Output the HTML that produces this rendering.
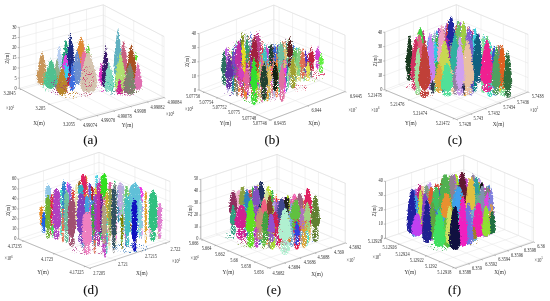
<!DOCTYPE html>
<html><head><meta charset="utf-8"><title>Figure</title>
<style>html,body{margin:0;padding:0;background:#fff;width:550px;height:301px;overflow:hidden}svg{display:block}</style>
</head><body>
<svg width="550" height="301" viewBox="0 0 550 301">
<defs>
<filter id="sp" x="-30%" y="-10%" width="160%" height="120%" color-interpolation-filters="sRGB">
<feTurbulence type="fractalNoise" baseFrequency="1.3" numOctaves="2" seed="3" result="n"/>
<feTurbulence type="fractalNoise" baseFrequency="0.7" numOctaves="2" seed="13" result="n2"/>
<feDisplacementMap in="SourceGraphic" in2="n2" scale="3.5" xChannelSelector="R" yChannelSelector="G" result="d"/>
<feGaussianBlur in="d" stdDeviation="0.9" result="b"/>
<feColorMatrix in="n" type="matrix" values="0 0 0 0 0 0 0 0 0 0 0 0 0 0 0 1 0 0 0 0" result="na"/>
<feComposite in="b" in2="na" operator="arithmetic" k2="4" k3="-8" k4="3.0" result="m"/>
<feComposite in="d" in2="m" operator="in"/>
</filter>
<filter id="sp2" x="-30%" y="-10%" width="160%" height="120%" color-interpolation-filters="sRGB">
<feTurbulence type="fractalNoise" baseFrequency="1.3" numOctaves="2" seed="4" result="n"/>
<feTurbulence type="fractalNoise" baseFrequency="0.7" numOctaves="2" seed="14" result="n2"/>
<feDisplacementMap in="SourceGraphic" in2="n2" scale="3.5" xChannelSelector="R" yChannelSelector="G" result="d"/>
<feGaussianBlur in="d" stdDeviation="0.9" result="b"/>
<feColorMatrix in="n" type="matrix" values="0 0 0 0 0 0 0 0 0 0 0 0 0 0 0 1 0 0 0 0" result="na"/>
<feComposite in="b" in2="na" operator="arithmetic" k2="4" k3="-8" k4="2.8" result="m"/>
<feComposite in="d" in2="m" operator="in"/>
</filter>
<filter id="sc" x="-10%" y="-10%" width="120%" height="120%" color-interpolation-filters="sRGB">
<feTurbulence type="fractalNoise" baseFrequency="1.1" numOctaves="1" seed="7" result="n"/>
<feColorMatrix in="n" type="matrix" values="0 0 0 0 0 0 0 0 0 0 0 0 0 0 0 -8 0 0 0 3.5" result="m"/>
<feComposite in="SourceGraphic" in2="m" operator="in"/>
</filter>
<filter id="tr" x="-20%" y="-10%" width="140%" height="120%" color-interpolation-filters="sRGB">
<feTurbulence type="fractalNoise" baseFrequency="1.2" numOctaves="1" seed="9" result="n"/>
<feColorMatrix in="n" type="matrix" values="0 0 0 0 0 0 0 0 0 0 0 0 0 0 0 -8 0 0 0 5.0" result="m"/>
<feComposite in="SourceGraphic" in2="m" operator="in"/>
</filter>
</defs>
<style>
.t{font-family:"Liberation Serif",serif;font-size:4.6px;fill:#333;text-anchor:middle;dominant-baseline:central}
.t text,text.t{transform-box:fill-box;transform-origin:center;transform:scale(0.95,1.18)}
.z{text-anchor:end}
.an,.zn{font-size:5.6px}
.cap{font-family:"Liberation Serif",serif;font-size:13px;fill:#111;stroke:#111;stroke-width:0.12px;text-anchor:middle;dominant-baseline:central;transform-box:fill-box;transform-origin:center;transform:scale(1,0.88)}
</style>
<rect width="550" height="301" fill="#fff"/>
<path d="M19.3 88.3L103.3 65.8M103.3 65.8L164 97.5M19.3 78.1L103.3 55.6M103.3 55.6L164 87.3M19.3 68L103.3 45.5M103.3 45.5L164 77.2M19.3 57.8L103.3 35.3M103.3 35.3L164 67M19.3 47.6L103.3 25.1M103.3 25.1L164 56.8M19.3 37.5L103.3 15M103.3 15L164 46.7M19.3 27.3L103.3 4.8M103.3 4.8L164 36.5M105.1 66.8L105.1 5.8M21.1 89.3L105.1 66.8M133.7 81.7L133.7 20.7M49.7 104.2L133.7 81.7M162.2 96.5L162.2 35.5M78.2 119L162.2 96.5M19.3 88.3L19.3 27.3M19.3 88.3L80 120M36.1 83.8L36.1 22.8M36.1 83.8L96.8 115.5M52.9 79.3L52.9 18.3M52.9 79.3L113.6 111M69.7 74.8L69.7 13.8M69.7 74.8L130.4 106.5M86.5 70.3L86.5 9.3M86.5 70.3L147.2 102M103.3 65.8L103.3 4.8M103.3 65.8L164 97.5" stroke="#e4e4e4" stroke-width="0.5" fill="none"/>
<path d="M19.3 27.3L103.3 4.8L164 36.5L164 97.5M103.3 65.8L103.3 4.8" stroke="#dcdcdc" stroke-width="0.5" fill="none"/>
<g><ellipse cx="60" cy="88" rx="12" ry="7" fill="#b03a90" filter="url(#sc)"/><ellipse cx="70" cy="95" rx="9" ry="4" fill="#c08a30" filter="url(#sc)"/><ellipse cx="48" cy="88" rx="6" ry="4" fill="#60d0a0" filter="url(#sc)"/><ellipse cx="125" cy="90" rx="14" ry="6" fill="#c04090" filter="url(#sc)"/><ellipse cx="112" cy="90" rx="8" ry="5" fill="#50a0a0" filter="url(#sc)"/><ellipse cx="85" cy="94" rx="8" ry="3" fill="#c06080" filter="url(#sc)"/><ellipse cx="135" cy="88" rx="8" ry="5" fill="#80a060" filter="url(#sc)"/><ellipse cx="102" cy="88" rx="5" ry="4" fill="#e030c0" filter="url(#sc)"/><path d="M136 50.3C136.2 51.2 137.2 55.6 137.5 59C137.6 61.1 136.9 62 136 62C135.1 62 134.4 61.1 134.5 59C134.8 55.6 135.8 51.2 136 50.3Z" fill="#60e030" filter="url(#sp2)"/><path d="M88 41.8C88.5 43.5 90.4 51.8 91 58.2C91.2 62.2 89.8 64 88 64C86.2 64 84.8 62.2 85 58.2C85.6 51.8 87.5 43.5 88 41.8Z" fill="#60d040" filter="url(#sp2)"/><path d="M81 34.8C81.8 37.1 85.4 48.8 86.5 57.9C86.8 63.5 84.3 66 81 66C77.7 66 75.2 63.5 75.5 57.9C76.6 48.8 80.2 37.1 81 34.8Z" fill="#e08a35" filter="url(#sp2)"/><path d="M59.5 42.8C60 45 62.3 55.9 63 64.4C63.2 69.7 61.6 72 59.5 72C57.4 72 55.8 69.7 56 64.4C56.7 55.9 59 45 59.5 42.8Z" fill="#b5cdf0" filter="url(#sp2)"/><path d="M66 37.8C66.7 40.6 69.6 54.5 70.5 65.3C70.7 72 68.7 75 66 75C63.3 75 61.3 72 61.5 65.3C62.4 54.5 65.3 40.6 66 37.8Z" fill="#22a37a" filter="url(#sp2)"/><path d="M70.6 30.5C71.3 33.9 74.2 51 75.1 64.2C75.3 72.4 73.3 76 70.6 76C67.9 76 65.9 72.4 66.1 64.2C67 51 69.9 33.9 70.6 30.5Z" fill="#1c2a80" filter="url(#sp2)"/><path d="M123.5 37.8C124.2 40.7 127.1 55 128 66.1C128.2 72.9 126.2 76 123.5 76C120.8 76 118.8 72.9 119 66.1C119.9 55 122.8 40.7 123.5 37.8Z" fill="#c86080" filter="url(#sp2)"/><path d="M84 44.8C84.7 47.3 87.6 59.7 88.5 69.4C88.7 75.3 86.7 78 84 78C81.3 78 79.3 75.3 79.5 69.4C80.4 59.7 83.3 47.3 84 44.8Z" fill="#e870a0" filter="url(#sp2)"/><path d="M118 26.3C118.7 30.2 121.6 49.6 122.5 64.6C122.7 73.9 120.7 78 118 78C115.3 78 113.3 73.9 113.5 64.6C114.4 49.6 117.3 30.2 118 26.3Z" fill="#60b0c0" filter="url(#sp2)"/><path d="M65.5 50.3C66.1 52.5 68.7 63.7 69.5 72.3C69.7 77.6 67.9 80 65.5 80C63.1 80 61.3 77.6 61.5 72.3C62.3 63.7 64.9 52.5 65.5 50.3Z" fill="#e040e0" filter="url(#sp2)"/><path d="M131.5 45.8C132.1 48.4 134.9 61.2 135.7 71.1C135.9 77.3 134 80 131.5 80C129 80 127.1 77.3 127.3 71.1C128.1 61.2 130.9 48.4 131.5 45.8Z" fill="#7050d0" filter="url(#sp2)"/><path d="M106.5 53.1C106.9 55.1 108.5 65.2 109 73C109.1 77.8 108 80 106.5 80C105 80 103.9 77.8 104 73C104.5 65.2 106.1 55.1 106.5 53.1Z" fill="#e0d840" filter="url(#sp2)"/><path d="M131.5 41.8C132.3 44.8 135.9 59.9 137 71.5C137.3 78.8 134.8 82 131.5 82C128.2 82 125.7 78.8 126 71.5C127.1 59.9 130.7 44.8 131.5 41.8Z" fill="#a85020" filter="url(#sp2)"/><path d="M101.5 58.8C102 60.7 103.9 70.1 104.5 77.4C104.7 82 103.3 84 101.5 84C99.7 84 98.3 82 98.5 77.4C99.1 70.1 101 60.7 101.5 58.8Z" fill="#e030c0" filter="url(#sp2)"/><path d="M42 49.3C42.8 52 46.2 65.4 47.2 75.7C47.5 82.1 45.1 85 42 85C38.9 85 36.5 82.1 36.8 75.7C37.8 65.4 41.2 52 42 49.3Z" fill="#c8965a" filter="url(#sp2)"/><path d="M77 47.5C77.8 50.3 81.4 64.4 82.5 75.2C82.8 82 80.3 85 77 85C73.7 85 71.2 82 71.5 75.2C72.6 64.4 76.2 50.3 77 47.5Z" fill="#6a8fd0" filter="url(#sp2)"/><path d="M66.5 60.2C67.1 62.1 69.7 71.8 70.5 79.3C70.7 83.9 68.9 86 66.5 86C64.1 86 62.3 83.9 62.5 79.3C63.3 71.8 65.9 62.1 66.5 60.2Z" fill="#30d0f0" filter="url(#sp2)"/><path d="M68.8 70.8C69.1 71.9 70.6 77.6 71 82C71.1 84.8 70.1 86 68.8 86C67.5 86 66.5 84.8 66.6 82C67 77.6 68.5 71.9 68.8 70.8Z" fill="#c02040" filter="url(#sp2)"/><path d="M57 57.3C57.6 59.6 60.2 71.1 61 80C61.2 85.5 59.4 88 57 88C54.6 88 52.8 85.5 53 80C53.8 71.1 56.4 59.6 57 57.3Z" fill="#90b088" filter="url(#sp2)"/><path d="M51 57.3C52 59.7 56.6 71.6 58 80.8C58.4 86.5 55.2 89 51 89C46.8 89 43.6 86.5 44 80.8C45.4 71.6 50 59.7 51 57.3Z" fill="#50c090" filter="url(#sp2)"/><path d="M105.7 43.2C106.3 46.6 109.1 63.8 109.9 77.1C110.1 85.3 108.2 89 105.7 89C103.2 89 101.3 85.3 101.5 77.1C102.3 63.8 105.1 46.6 105.7 43.2Z" fill="#3a1a6a" filter="url(#sp2)"/><path d="M138 60.2C138.6 62.5 141.4 73.9 142.3 82.7C142.5 88.2 140.6 90.6 138 90.6C135.4 90.6 133.5 88.2 133.7 82.7C134.6 73.9 137.4 62.5 138 60.2Z" fill="#e070b0" filter="url(#sp2)"/><path d="M72.3 59.8C72.8 62.1 74.9 73.8 75.5 82.9C75.7 88.5 74.2 91 72.3 91C70.4 91 68.9 88.5 69.1 82.9C69.7 73.8 71.8 62.1 72.3 59.8Z" fill="#3d6ee0" filter="url(#sp2)"/><path d="M109 60.2C109.8 62.6 113 74.5 114 83.7C114.2 89.5 112 92 109 92C106 92 103.8 89.5 104 83.7C105 74.5 108.2 62.6 109 60.2Z" fill="#80d8c0" filter="url(#sp2)"/><path d="M88.5 48.8C89.8 52.1 95.7 68.7 97.5 81.5C98 89.5 93.9 93 88.5 93C83.1 93 79 89.5 79.5 81.5C81.3 68.7 87.2 52.1 88.5 48.8Z" fill="#d4c4b0" filter="url(#sp2)"/><path d="M120.4 50.3C121.3 53.5 125.2 69.7 126.4 82.3C126.7 90 124 93.5 120.4 93.5C116.8 93.5 114.1 90 114.4 82.3C115.6 69.7 119.5 53.5 120.4 50.3Z" fill="#b0e070" filter="url(#sp2)"/><path d="M62 64.4C62.9 66.7 66.6 78.2 67.8 87C68.1 92.6 65.5 95 62 95C58.5 95 55.9 92.6 56.2 87C57.4 78.2 61.1 66.7 62 64.4Z" fill="#b8862b" filter="url(#sp2)"/><path d="M129.6 60.2C130.5 62.8 134.6 75.9 135.8 86C136.1 92.2 133.3 95 129.6 95C125.9 95 123.1 92.2 123.4 86C124.6 75.9 128.7 62.8 129.6 60.2Z" fill="#808070" filter="url(#sp2)"/><path d="M119.5 76.8C120 78.2 122.1 85 122.7 90.3C122.9 93.5 121.4 95 119.5 95C117.6 95 116.1 93.5 116.3 90.3C116.9 85 119 78.2 119.5 76.8Z" fill="#d02090" filter="url(#sp2)"/><ellipse cx="57" cy="86" rx="7" ry="7" fill="#a03090" filter="url(#sc)"/><ellipse cx="88" cy="78" rx="6" ry="12" fill="#d04070" filter="url(#sc)"/><ellipse cx="68" cy="88" rx="4" ry="6" fill="#c02060" filter="url(#sc)"/><ellipse cx="126" cy="86" rx="7" ry="9" fill="#c04090" filter="url(#sc)"/><ellipse cx="131" cy="80" rx="5" ry="10" fill="#60a060" filter="url(#sc)"/><ellipse cx="112" cy="84" rx="5" ry="8" fill="#30c0a0" filter="url(#sc)"/><ellipse cx="46" cy="80" rx="4" ry="8" fill="#40e0a0" filter="url(#sc)"/></g>
<path d="M19.3 27.3L19.3 88.3L80 120L164 97.5M17.7 88.3L19.3 88.3M17.7 78.1L19.3 78.1M17.7 68L19.3 68M17.7 57.8L19.3 57.8M17.7 47.6L19.3 47.6M17.7 37.5L19.3 37.5M17.7 27.3L19.3 27.3M21.1 89.3l-1.4 0.4M49.7 104.2l-1.4 0.4M78.2 119l-1.4 0.4M80 120l1.3 0.7M96.8 115.5l1.3 0.7M113.6 111l1.3 0.7M130.4 106.5l1.3 0.7M147.2 102l1.3 0.7M164 97.5l1.3 0.7" stroke="#8a8a8a" stroke-width="0.55" fill="none"/>
<g class="t"><text x="9.6" y="93">3.2045</text><text x="10" y="108.3">×10<tspan font-size="3" dy="-1.6">5</tspan></text><text x="40.4" y="108.7">3.205</text><text class="an" x="39" y="123">X(m)</text><text x="69" y="124">3.2055</text><text x="90" y="125">4.99074</text><text x="108" y="120.6">4.99076</text><text x="124.5" y="116">4.99078</text><text x="140" y="111">4.9908</text><text x="157.5" y="107">4.99082</text><text x="174.5" y="102.6">4.99084</text><text x="170" y="114.5">×10<tspan font-size="3" dy="-1.6">6</tspan></text><text class="an" x="127.5" y="124.6">Y(m)</text></g>
<g class="t z"><text x="16.6" y="88.3">0</text><text x="16.6" y="78.1">5</text><text x="16.6" y="68">10</text><text x="16.6" y="57.8">15</text><text x="16.6" y="47.6">20</text><text x="16.6" y="37.5">25</text><text x="16.6" y="27.3">30</text></g>
<g transform="rotate(-90 7.1 58.3)"><text class="t zn" x="7.1" y="58.3">Z(m)</text></g>
<text class="cap" x="90.5" y="140.5">(a)</text>
<path d="M199 90L273.8 61.6M273.8 61.6L345 91.6M199 75.9L273.8 47.5M273.8 47.5L345 77.5M199 61.8L273.8 33.3M273.8 33.3L345 63.3M199 47.6L273.8 19.2M273.8 19.2L345 49.2M199 33.5L273.8 5.1M273.8 5.1L345 35.1M279.1 63.8L279.1 7.3M204.3 92.2L279.1 63.8M292.6 69.5L292.6 13M217.8 97.9L292.6 69.5M306 75.2L306 18.7M231.2 103.6L306 75.2M319.4 80.8L319.4 24.3M244.6 109.2L319.4 80.8M332.6 86.4L332.6 29.9M257.8 114.8L332.6 86.4M345 91.6L345 35.1M270.2 120L345 91.6M199 90L199 33.5M199 90L270.2 120M236.4 75.8L236.4 19.3M236.4 75.8L307.6 105.8M273.8 61.6L273.8 5.1M273.8 61.6L345 91.6" stroke="#e4e4e4" stroke-width="0.5" fill="none"/>
<path d="M199 33.5L273.8 5.1L345 35.1L345 91.6M273.8 61.6L273.8 5.1" stroke="#dcdcdc" stroke-width="0.5" fill="none"/>
<g><ellipse cx="262" cy="96" rx="22" ry="6" fill="#c050a0" filter="url(#sc)"/><ellipse cx="255" cy="99" rx="12" ry="5" fill="#40d040" filter="url(#sc)"/><ellipse cx="312" cy="76" rx="12" ry="6" fill="#a0d060" filter="url(#sc)"/><ellipse cx="318" cy="74" rx="8" ry="5" fill="#e05080" filter="url(#sc)"/><ellipse cx="300" cy="88" rx="8" ry="4" fill="#d04060" filter="url(#sc)"/><ellipse cx="230" cy="92" rx="6" ry="4" fill="#8050b0" filter="url(#sc)"/><ellipse cx="278.5" cy="60.2" rx="1.3" ry="4.2" fill="#40e0c0" filter="url(#tr)"/><path d="M278.5 40.8C278.8 41.6 279.9 48.1 280.3 52.8C280.4 55.7 279.6 57 278.5 57C277.4 57 276.6 55.7 276.7 52.8C277.1 48.1 278.1 41.6 278.5 40.8Z" fill="#40e0c0" filter="url(#sp2)"/><ellipse cx="274.3" cy="61" rx="1.3" ry="3.9" fill="#40a0e0" filter="url(#tr)"/><path d="M274.3 43C274.7 43.8 275.7 49.8 276.1 54.2C276.2 56.9 275.4 58.1 274.3 58.1C273.2 58.1 272.4 56.9 272.5 54.2C272.9 49.8 273.9 43.8 274.3 43Z" fill="#40a0e0" filter="url(#sp2)"/><ellipse cx="282.3" cy="60.9" rx="1.7" ry="4.5" fill="#9a6324" filter="url(#tr)"/><path d="M282.3 39.4C282.7 40.3 284.1 47.5 284.5 52.7C284.6 55.9 283.6 57.4 282.3 57.4C280.9 57.4 279.9 55.9 280 52.7C280.5 47.5 281.8 40.3 282.3 39.4Z" fill="#9a6324" filter="url(#sp2)"/><ellipse cx="269.8" cy="62.6" rx="1.4" ry="3.4" fill="#d04040" filter="url(#tr)"/><path d="M269.8 47.7C270.2 48.4 271.3 53.3 271.6 56.9C271.7 59.2 270.9 60.2 269.8 60.2C268.7 60.2 267.9 59.2 268 56.9C268.4 53.3 269.4 48.4 269.8 47.7Z" fill="#d04040" filter="url(#sp2)"/><ellipse cx="283.4" cy="62.2" rx="1.5" ry="4.9" fill="#e07050" filter="url(#tr)"/><path d="M283.4 37.9C283.8 38.9 285 47 285.4 52.9C285.5 56.6 284.6 58.2 283.4 58.2C282.2 58.2 281.3 56.6 281.4 52.9C281.8 47 283 38.9 283.4 37.9Z" fill="#e07050" filter="url(#sp2)"/><ellipse cx="277.2" cy="63.3" rx="1.5" ry="4.4" fill="#e0a030" filter="url(#tr)"/><path d="M277.2 42.2C277.6 43.1 278.8 50.1 279.2 55.3C279.3 58.4 278.4 59.8 277.2 59.8C276 59.8 275.1 58.4 275.2 55.3C275.6 50.1 276.8 43.1 277.2 42.2Z" fill="#e0a030" filter="url(#sp2)"/><ellipse cx="265.8" cy="64.5" rx="1.3" ry="3.7" fill="#d04040" filter="url(#tr)"/><path d="M265.8 47.7C266.2 48.4 267.2 54 267.5 58.1C267.6 60.6 266.8 61.7 265.8 61.7C264.8 61.7 264.1 60.6 264.1 58.1C264.5 54 265.5 48.4 265.8 47.7Z" fill="#d04040" filter="url(#sp2)"/><ellipse cx="272.5" cy="64.4" rx="1.3" ry="4" fill="#911eb4" filter="url(#tr)"/><path d="M272.5 46.1C272.9 46.9 274 53 274.3 57.4C274.4 60.2 273.6 61.4 272.5 61.4C271.5 61.4 270.7 60.2 270.7 57.4C271.1 53 272.2 46.9 272.5 46.1Z" fill="#911eb4" filter="url(#sp2)"/><ellipse cx="280.7" cy="63.5" rx="1.4" ry="5" fill="#f032e6" filter="url(#tr)"/><path d="M280.7 39C281 40.1 282.2 48.3 282.6 54.2C282.7 57.9 281.8 59.5 280.7 59.5C279.5 59.5 278.6 57.9 278.7 54.2C279.1 48.3 280.3 40.1 280.7 39Z" fill="#f032e6" filter="url(#sp2)"/><ellipse cx="287.5" cy="63.7" rx="1.4" ry="5.4" fill="#e8d820" filter="url(#tr)"/><path d="M287.5 36.5C287.9 37.7 289 46.8 289.4 53.4C289.5 57.5 288.6 59.3 287.5 59.3C286.4 59.3 285.6 57.5 285.7 53.4C286.1 46.8 287.2 37.7 287.5 36.5Z" fill="#e8d820" filter="url(#sp2)"/><ellipse cx="263.9" cy="64.8" rx="1.3" ry="4.7" fill="#d0d060" filter="url(#tr)"/><path d="M263.9 42.4C264.3 43.3 265.3 50.8 265.7 56.3C265.8 59.7 265 61.2 263.9 61.2C262.9 61.2 262.1 59.7 262.2 56.3C262.5 50.8 263.6 43.3 263.9 42.4Z" fill="#d0d060" filter="url(#sp2)"/><ellipse cx="271.7" cy="65.8" rx="1.4" ry="3.9" fill="#e07050" filter="url(#tr)"/><path d="M271.7 48C272.1 48.7 273.2 54.7 273.6 59C273.7 61.7 272.9 62.9 271.7 62.9C270.5 62.9 269.7 61.7 269.8 59C270.2 54.7 271.3 48.7 271.7 48Z" fill="#e07050" filter="url(#sp2)"/><ellipse cx="279.4" cy="65.9" rx="1.3" ry="4.5" fill="#f0a0b0" filter="url(#tr)"/><path d="M279.4 44.4C279.8 45.3 280.8 52.5 281.2 57.7C281.3 60.9 280.5 62.4 279.4 62.4C278.3 62.4 277.5 60.9 277.6 57.7C278 52.5 279.1 45.3 279.4 44.4Z" fill="#f0a0b0" filter="url(#sp2)"/><ellipse cx="285.8" cy="65.4" rx="1.3" ry="5.2" fill="#d04040" filter="url(#tr)"/><path d="M285.8 39.9C286.1 40.9 287.2 49.5 287.5 55.7C287.6 59.6 286.8 61.3 285.8 61.3C284.7 61.3 283.9 59.6 284 55.7C284.4 49.5 285.4 40.9 285.8 39.9Z" fill="#d04040" filter="url(#sp2)"/><ellipse cx="290.6" cy="64.9" rx="1.5" ry="5.7" fill="#20c060" filter="url(#tr)"/><path d="M290.6 36C291.1 37.2 292.3 46.9 292.7 53.9C292.8 58.3 291.9 60.2 290.6 60.2C289.4 60.2 288.5 58.3 288.6 53.9C289 46.9 290.2 37.2 290.6 36Z" fill="#20c060" filter="url(#sp2)"/><ellipse cx="258.5" cy="64.6" rx="1.2" ry="6.4" fill="#c8a0f0" filter="url(#tr)"/><path d="M258.5 31.6C258.8 33 259.8 44 260.1 52C260.2 57 259.5 59.2 258.5 59.2C257.5 59.2 256.8 57 256.9 52C257.2 44 258.2 33 258.5 31.6Z" fill="#c8a0f0" filter="url(#sp2)"/><ellipse cx="267.2" cy="67.1" rx="1.4" ry="4.2" fill="#c8a0f0" filter="url(#tr)"/><path d="M267.2 47.7C267.6 48.5 268.7 55 269 59.7C269.1 62.7 268.3 64 267.2 64C266.1 64 265.3 62.7 265.4 59.7C265.8 55 266.9 48.5 267.2 47.7Z" fill="#c8a0f0" filter="url(#sp2)"/><ellipse cx="271.6" cy="66.6" rx="1.4" ry="4.8" fill="#e0e0a0" filter="url(#tr)"/><path d="M271.6 43.1C272 44 273.1 51.9 273.5 57.6C273.6 61.2 272.7 62.8 271.6 62.8C270.4 62.8 269.6 61.2 269.7 57.6C270.1 51.9 271.2 44 271.6 43.1Z" fill="#e0e0a0" filter="url(#sp2)"/><ellipse cx="282.6" cy="66.8" rx="1.2" ry="5.4" fill="#f0c8a0" filter="url(#tr)"/><path d="M282.6 39.9C283 41 283.9 50 284.3 56.6C284.4 60.6 283.6 62.4 282.6 62.4C281.6 62.4 280.9 60.6 281 56.6C281.3 50 282.3 41 282.6 39.9Z" fill="#f0c8a0" filter="url(#sp2)"/><ellipse cx="287.4" cy="66.5" rx="1.4" ry="5.8" fill="#f0c8a0" filter="url(#tr)"/><path d="M287.4 37.2C287.8 38.4 288.9 48.2 289.3 55.3C289.4 59.7 288.5 61.7 287.4 61.7C286.2 61.7 285.4 59.7 285.5 55.3C285.9 48.2 287 38.4 287.4 37.2Z" fill="#f0c8a0" filter="url(#sp2)"/><ellipse cx="296" cy="67.5" rx="1.5" ry="4.8" fill="#e0e0a0" filter="url(#tr)"/><path d="M296 44.3C296.4 45.3 297.5 53 297.9 58.7C298 62.2 297.1 63.7 296 63.7C294.8 63.7 293.9 62.2 294 58.7C294.4 53 295.6 45.3 296 44.3Z" fill="#e0e0a0" filter="url(#sp2)"/><ellipse cx="270.6" cy="67.4" rx="1.2" ry="5" fill="#5080d0" filter="url(#tr)"/><path d="M270.6 43C271 44 271.9 52.2 272.3 58.1C272.3 61.8 271.6 63.4 270.6 63.4C269.7 63.4 268.9 61.8 269 58.1C269.3 52.2 270.3 44 270.6 43Z" fill="#5080d0" filter="url(#sp2)"/><ellipse cx="262.3" cy="66.9" rx="1.6" ry="5.5" fill="#60c040" filter="url(#tr)"/><path d="M262.3 39.5C262.7 40.7 264 49.8 264.4 56.5C264.5 60.6 263.5 62.4 262.3 62.4C261 62.4 260 60.6 260.1 56.5C260.6 49.8 261.8 40.7 262.3 39.5Z" fill="#60c040" filter="url(#sp2)"/><ellipse cx="257.3" cy="66.6" rx="1.4" ry="6.1" fill="#e0e0a0" filter="url(#tr)"/><path d="M257.3 35.2C257.6 36.5 258.8 47 259.1 54.6C259.2 59.4 258.4 61.5 257.3 61.5C256.2 61.5 255.3 59.4 255.4 54.6C255.8 47 256.9 36.5 257.3 35.2Z" fill="#e0e0a0" filter="url(#sp2)"/><ellipse cx="279.1" cy="67.7" rx="1.3" ry="5.3" fill="#70b0d0" filter="url(#tr)"/><path d="M279.1 41.5C279.4 42.6 280.5 51.3 280.9 57.7C281 61.7 280.2 63.4 279.1 63.4C278 63.4 277.2 61.7 277.3 57.7C277.7 51.3 278.7 42.6 279.1 41.5Z" fill="#70b0d0" filter="url(#sp2)"/><ellipse cx="285.9" cy="67.6" rx="1.5" ry="5.8" fill="#6040c0" filter="url(#tr)"/><path d="M285.9 37.9C286.3 39.2 287.5 49.1 287.9 56.3C288 60.8 287.1 62.8 285.9 62.8C284.6 62.8 283.7 60.8 283.8 56.3C284.2 49.1 285.5 39.2 285.9 37.9Z" fill="#6040c0" filter="url(#sp2)"/><ellipse cx="266.9" cy="69.2" rx="1.4" ry="4.4" fill="#40a0e0" filter="url(#tr)"/><path d="M266.9 48.2C267.3 49.1 268.4 56.1 268.8 61.2C268.9 64.4 268 65.8 266.9 65.8C265.8 65.8 264.9 64.4 265 61.2C265.4 56.1 266.5 49.1 266.9 48.2Z" fill="#40a0e0" filter="url(#sp2)"/><ellipse cx="293.2" cy="68.6" rx="1.2" ry="5.4" fill="#008080" filter="url(#tr)"/><path d="M293.2 41.6C293.5 42.7 294.5 51.7 294.9 58.3C294.9 62.4 294.2 64.2 293.2 64.2C292.2 64.2 291.5 62.4 291.6 58.3C291.9 51.7 292.9 42.7 293.2 41.6Z" fill="#008080" filter="url(#sp2)"/><ellipse cx="250.6" cy="67.3" rx="1.5" ry="6.9" fill="#4363d8" filter="url(#tr)"/><path d="M250.6 30.8C251.1 32.3 252.3 44.5 252.7 53.4C252.8 58.9 251.9 61.3 250.6 61.3C249.4 61.3 248.5 58.9 248.6 53.4C249 44.5 250.2 32.3 250.6 30.8Z" fill="#4363d8" filter="url(#sp2)"/><ellipse cx="300.7" cy="69.5" rx="1.5" ry="4.7" fill="#e07050" filter="url(#tr)"/><path d="M300.7 47C301.1 47.9 302.3 55.5 302.7 60.9C302.8 64.3 301.9 65.9 300.7 65.9C299.5 65.9 298.5 64.3 298.6 60.9C299.1 55.5 300.3 47.9 300.7 47Z" fill="#e07050" filter="url(#sp2)"/><ellipse cx="272.7" cy="69.1" rx="1.5" ry="5.2" fill="#c040c0" filter="url(#tr)"/><path d="M272.7 43.5C273.1 44.6 274.3 53.1 274.7 59.4C274.8 63.2 273.9 64.9 272.7 64.9C271.5 64.9 270.6 63.2 270.7 59.4C271.1 53.1 272.3 44.6 272.7 43.5Z" fill="#c040c0" filter="url(#sp2)"/><ellipse cx="282.5" cy="69.3" rx="1.3" ry="5.4" fill="#3cb44b" filter="url(#tr)"/><path d="M282.5 42.2C282.8 43.3 283.8 52.4 284.2 59C284.3 63.1 283.5 64.9 282.5 64.9C281.4 64.9 280.6 63.1 280.7 59C281.1 52.4 282.1 43.3 282.5 42.2Z" fill="#3cb44b" filter="url(#sp2)"/><ellipse cx="259.5" cy="68.6" rx="1.6" ry="6.3" fill="#40e0c0" filter="url(#tr)"/><path d="M259.5 36.3C260 37.6 261.3 48.5 261.7 56.3C261.8 61.2 260.8 63.4 259.5 63.4C258.2 63.4 257.3 61.2 257.4 56.3C257.8 48.5 259.1 37.6 259.5 36.3Z" fill="#40e0c0" filter="url(#sp2)"/><ellipse cx="290.2" cy="69" rx="1.5" ry="6.2" fill="#30d080" filter="url(#tr)"/><path d="M290.2 37C290.6 38.4 291.9 49.1 292.3 56.8C292.4 61.6 291.4 63.8 290.2 63.8C289 63.8 288 61.6 288.1 56.8C288.6 49.1 289.8 38.4 290.2 37Z" fill="#30d080" filter="url(#sp2)"/><ellipse cx="248.2" cy="68.8" rx="1.4" ry="6.6" fill="#6040c0" filter="url(#tr)"/><path d="M248.2 34.7C248.6 36.1 249.7 47.6 250.1 55.8C250.2 61 249.3 63.3 248.2 63.3C247.1 63.3 246.3 61 246.4 55.8C246.8 47.6 247.9 36.1 248.2 34.7Z" fill="#6040c0" filter="url(#sp2)"/><ellipse cx="297.5" cy="70.8" rx="1.5" ry="4.7" fill="#4363d8" filter="url(#tr)"/><path d="M297.5 48.3C297.9 49.2 299 56.8 299.4 62.2C299.5 65.6 298.7 67.1 297.5 67.1C296.3 67.1 295.4 65.6 295.5 62.2C295.9 56.8 297.1 49.2 297.5 48.3Z" fill="#4363d8" filter="url(#sp2)"/><ellipse cx="303.4" cy="71.5" rx="1.3" ry="4" fill="#e0e0a0" filter="url(#tr)"/><path d="M303.4 53C303.8 53.8 304.8 60 305.2 64.4C305.2 67.2 304.5 68.5 303.4 68.5C302.4 68.5 301.6 67.2 301.7 64.4C302.1 60 303.1 53.8 303.4 53Z" fill="#e0e0a0" filter="url(#sp2)"/><ellipse cx="256.3" cy="68.3" rx="1.7" ry="7.2" fill="#c02080" filter="url(#tr)"/><path d="M256.3 30.5C256.8 32.1 258.1 44.7 258.5 53.9C258.7 59.6 257.7 62.2 256.3 62.2C255 62.2 254 59.6 254.1 53.9C254.5 44.7 255.9 32.1 256.3 30.5Z" fill="#c02080" filter="url(#sp2)"/><ellipse cx="262.5" cy="70.2" rx="1.4" ry="5.6" fill="#008080" filter="url(#tr)"/><path d="M262.5 41.6C262.8 42.8 264 52.4 264.3 59.3C264.4 63.6 263.6 65.6 262.5 65.6C261.4 65.6 260.5 63.6 260.6 59.3C261 52.4 262.1 42.8 262.5 41.6Z" fill="#008080" filter="url(#sp2)"/><ellipse cx="286.4" cy="70.1" rx="1.6" ry="6" fill="#3cb44b" filter="url(#tr)"/><path d="M286.4 39.5C286.8 40.8 288.1 51 288.5 58.4C288.6 63.1 287.6 65.1 286.4 65.1C285.1 65.1 284.2 63.1 284.3 58.4C284.7 51 286 40.8 286.4 39.5Z" fill="#3cb44b" filter="url(#sp2)"/><ellipse cx="291" cy="70.3" rx="1.4" ry="6" fill="#b060d0" filter="url(#tr)"/><path d="M291 39.8C291.4 41 292.5 51.3 292.9 58.7C293 63.3 292.2 65.3 291 65.3C289.9 65.3 289 63.3 289.1 58.7C289.5 51.3 290.6 41 291 39.8Z" fill="#b060d0" filter="url(#sp2)"/><ellipse cx="307.9" cy="71.6" rx="1.4" ry="4.6" fill="#b060d0" filter="url(#tr)"/><path d="M307.9 49.3C308.3 50.3 309.4 57.7 309.8 63.2C309.9 66.5 309 68 307.9 68C306.8 68 306 66.5 306.1 63.2C306.5 57.7 307.6 50.3 307.9 49.3Z" fill="#b060d0" filter="url(#sp2)"/><ellipse cx="268.7" cy="71.4" rx="1.5" ry="4.9" fill="#b060d0" filter="url(#tr)"/><path d="M268.7 47.6C269.1 48.6 270.2 56.6 270.6 62.4C270.7 66 269.8 67.5 268.7 67.5C267.5 67.5 266.6 66 266.7 62.4C267.1 56.6 268.3 48.6 268.7 47.6Z" fill="#b060d0" filter="url(#sp2)"/><ellipse cx="278" cy="70.7" rx="1.3" ry="5.7" fill="#40a0e0" filter="url(#tr)"/><path d="M278 41.8C278.4 43 279.4 52.7 279.7 59.7C279.8 64.1 279.1 66 278 66C277 66 276.3 64.1 276.4 59.7C276.7 52.7 277.7 43 278 41.8Z" fill="#40a0e0" filter="url(#sp2)"/><ellipse cx="258.2" cy="70.3" rx="1.4" ry="6.4" fill="#30d080" filter="url(#tr)"/><path d="M258.2 37C258.6 38.4 259.7 49.5 260 57.6C260.1 62.6 259.3 64.9 258.2 64.9C257.1 64.9 256.3 62.6 256.3 57.6C256.7 49.5 257.8 38.4 258.2 37Z" fill="#30d080" filter="url(#sp2)"/><ellipse cx="266.3" cy="71.1" rx="1.3" ry="5.7" fill="#e0e0a0" filter="url(#tr)"/><path d="M266.3 42.4C266.7 43.6 267.7 53.2 268 60.2C268.1 64.5 267.4 66.4 266.3 66.4C265.3 66.4 264.5 64.5 264.6 60.2C264.9 53.2 266 43.6 266.3 42.4Z" fill="#e0e0a0" filter="url(#sp2)"/><ellipse cx="241.9" cy="70.3" rx="1.3" ry="6.5" fill="#e6194b" filter="url(#tr)"/><path d="M241.9 36.2C242.2 37.7 243.3 49.1 243.7 57.3C243.8 62.5 243 64.8 241.9 64.8C240.8 64.8 240 62.5 240.1 57.3C240.4 49.1 241.5 37.7 241.9 36.2Z" fill="#e6194b" filter="url(#sp2)"/><ellipse cx="252.5" cy="70.2" rx="1.6" ry="7" fill="#d04040" filter="url(#tr)"/><path d="M252.5 33.1C252.9 34.7 254.2 47.1 254.6 56.1C254.7 61.6 253.7 64.1 252.5 64.1C251.2 64.1 250.3 61.6 250.4 56.1C250.8 47.1 252.1 34.7 252.5 33.1Z" fill="#d04040" filter="url(#sp2)"/><ellipse cx="299.8" cy="72.6" rx="1.4" ry="4.8" fill="#46d0e0" filter="url(#tr)"/><path d="M299.8 49.3C300.1 50.2 301.2 58 301.6 63.7C301.7 67.2 300.9 68.8 299.8 68.8C298.7 68.8 297.8 67.2 297.9 63.7C298.3 58 299.4 50.2 299.8 49.3Z" fill="#46d0e0" filter="url(#sp2)"/><ellipse cx="288.2" cy="71" rx="1.6" ry="6.4" fill="#3cb44b" filter="url(#tr)"/><path d="M288.2 37.8C288.7 39.2 289.9 50.3 290.4 58.4C290.5 63.4 289.5 65.6 288.2 65.6C287 65.6 286 63.4 286.1 58.4C286.5 50.3 287.8 39.2 288.2 37.8Z" fill="#3cb44b" filter="url(#sp2)"/><ellipse cx="296.4" cy="72.1" rx="1.4" ry="5.5" fill="#46d0e0" filter="url(#tr)"/><path d="M296.4 44.2C296.8 45.4 297.9 54.7 298.3 61.5C298.4 65.7 297.5 67.6 296.4 67.6C295.2 67.6 294.4 65.7 294.5 61.5C294.8 54.7 296 45.4 296.4 44.2Z" fill="#46d0e0" filter="url(#sp2)"/><ellipse cx="305.1" cy="72.8" rx="1.6" ry="4.9" fill="#f0a0b0" filter="url(#tr)"/><path d="M305.1 48.9C305.6 49.9 306.9 57.9 307.3 63.7C307.4 67.3 306.4 68.9 305.1 68.9C303.8 68.9 302.8 67.3 302.9 63.7C303.4 57.9 304.7 49.9 305.1 48.9Z" fill="#f0a0b0" filter="url(#sp2)"/><ellipse cx="283.5" cy="72.1" rx="1.6" ry="5.7" fill="#2080a0" filter="url(#tr)"/><path d="M283.5 43C283.9 44.2 285.2 53.9 285.6 61C285.7 65.4 284.8 67.4 283.5 67.4C282.2 67.4 281.3 65.4 281.4 61C281.8 53.9 283.1 44.2 283.5 43Z" fill="#2080a0" filter="url(#sp2)"/><ellipse cx="255.7" cy="71.8" rx="1.3" ry="6.4" fill="#b0b0e0" filter="url(#tr)"/><path d="M255.7 38.9C256 40.3 257 51.3 257.4 59.3C257.5 64.2 256.7 66.4 255.7 66.4C254.7 66.4 253.9 64.2 254 59.3C254.4 51.3 255.4 40.3 255.7 38.9Z" fill="#b0b0e0" filter="url(#sp2)"/><ellipse cx="274.6" cy="72.8" rx="1.4" ry="5.4" fill="#4363d8" filter="url(#tr)"/><path d="M274.6 45.7C274.9 46.8 276 55.9 276.4 62.5C276.5 66.6 275.6 68.4 274.6 68.4C273.5 68.4 272.7 66.6 272.8 62.5C273.1 55.9 274.2 46.8 274.6 45.7Z" fill="#4363d8" filter="url(#sp2)"/><ellipse cx="247.5" cy="71.4" rx="1.4" ry="7.1" fill="#f58231" filter="url(#tr)"/><path d="M247.5 34.2C247.9 35.7 249.1 48.2 249.5 57.2C249.6 62.8 248.7 65.3 247.5 65.3C246.4 65.3 245.5 62.8 245.6 57.2C246 48.2 247.1 35.7 247.5 34.2Z" fill="#f58231" filter="url(#sp2)"/><ellipse cx="310.5" cy="73.4" rx="1.6" ry="5.2" fill="#808080" filter="url(#tr)"/><path d="M310.5 47.8C310.9 48.8 312.1 57.4 312.5 63.6C312.6 67.5 311.7 69.2 310.5 69.2C309.2 69.2 308.3 67.5 308.4 63.6C308.8 57.4 310.1 48.8 310.5 47.8Z" fill="#808080" filter="url(#sp2)"/><ellipse cx="268.9" cy="72.9" rx="1.3" ry="6.1" fill="#f0c8a0" filter="url(#tr)"/><path d="M268.9 41.6C269.3 42.9 270.4 53.4 270.7 61C270.8 65.7 270 67.8 268.9 67.8C267.9 67.8 267.1 65.7 267.2 61C267.5 53.4 268.6 42.9 268.9 41.6Z" fill="#f0c8a0" filter="url(#sp2)"/><ellipse cx="236.9" cy="72.3" rx="1.5" ry="6.8" fill="#80e0a0" filter="url(#tr)"/><path d="M236.9 36.9C237.3 38.4 238.5 50.3 238.9 58.8C239 64.2 238.1 66.5 236.9 66.5C235.6 66.5 234.7 64.2 234.8 58.8C235.2 50.3 236.5 38.4 236.9 36.9Z" fill="#80e0a0" filter="url(#sp2)"/><ellipse cx="240.4" cy="72" rx="1.4" ry="7.2" fill="#3cb44b" filter="url(#tr)"/><path d="M240.4 34.1C240.8 35.7 241.9 48.4 242.3 57.6C242.4 63.3 241.5 65.8 240.4 65.8C239.3 65.8 238.5 63.3 238.6 57.6C238.9 48.4 240 35.7 240.4 34.1Z" fill="#3cb44b" filter="url(#sp2)"/><ellipse cx="307.4" cy="74.7" rx="1.6" ry="4.5" fill="#d04040" filter="url(#tr)"/><path d="M307.4 53.2C307.8 54.1 309.1 61.3 309.5 66.6C309.6 69.8 308.7 71.2 307.4 71.2C306.1 71.2 305.1 69.8 305.2 66.6C305.6 61.3 306.9 54.1 307.4 53.2Z" fill="#d04040" filter="url(#sp2)"/><ellipse cx="285.3" cy="72.7" rx="1.3" ry="6.6" fill="#e6194b" filter="url(#tr)"/><path d="M285.3 38.2C285.6 39.6 286.7 51.2 287 59.6C287.1 64.8 286.3 67.1 285.3 67.1C284.3 67.1 283.5 64.8 283.6 59.6C283.9 51.2 284.9 39.6 285.3 38.2Z" fill="#e6194b" filter="url(#sp2)"/><ellipse cx="258.6" cy="72.4" rx="1.5" ry="7" fill="#f032e6" filter="url(#tr)"/><path d="M258.6 35.4C259 37 260.2 49.4 260.6 58.3C260.7 63.9 259.8 66.4 258.6 66.4C257.4 66.4 256.5 63.9 256.6 58.3C257 49.4 258.2 37 258.6 35.4Z" fill="#f032e6" filter="url(#sp2)"/><ellipse cx="262.2" cy="72.8" rx="1.6" ry="6.6" fill="#f0a0b0" filter="url(#tr)"/><path d="M262.2 38.3C262.7 39.8 264 51.3 264.4 59.7C264.5 64.9 263.5 67.2 262.2 67.2C260.9 67.2 259.9 64.9 260 59.7C260.5 51.3 261.8 39.8 262.2 38.3Z" fill="#f0a0b0" filter="url(#sp2)"/><ellipse cx="300.8" cy="74.8" rx="1.6" ry="4.7" fill="#30d080" filter="url(#tr)"/><path d="M300.8 51.9C301.2 52.9 302.5 60.5 302.9 66.1C303 69.5 302 71.1 300.8 71.1C299.5 71.1 298.5 69.5 298.6 66.1C299.1 60.5 300.3 52.9 300.8 51.9Z" fill="#30d080" filter="url(#sp2)"/><ellipse cx="277.6" cy="74" rx="1.3" ry="5.6" fill="#9a6324" filter="url(#tr)"/><path d="M277.6 45.5C277.9 46.7 279 56.2 279.3 63.2C279.4 67.5 278.6 69.4 277.6 69.4C276.5 69.4 275.7 67.5 275.8 63.2C276.2 56.2 277.2 46.7 277.6 45.5Z" fill="#9a6324" filter="url(#sp2)"/><ellipse cx="251" cy="73" rx="1.3" ry="7" fill="#911eb4" filter="url(#tr)"/><path d="M251 36.4C251.3 37.9 252.3 50.2 252.6 59.1C252.7 64.6 252 67.1 251 67.1C249.9 67.1 249.2 64.6 249.3 59.1C249.6 50.2 250.6 37.9 251 36.4Z" fill="#911eb4" filter="url(#sp2)"/><ellipse cx="291.8" cy="74.2" rx="1.4" ry="5.8" fill="#2080a0" filter="url(#tr)"/><path d="M291.8 44.5C292.2 45.7 293.3 55.7 293.7 62.9C293.8 67.4 292.9 69.4 291.8 69.4C290.6 69.4 289.8 67.4 289.9 62.9C290.3 55.7 291.4 45.7 291.8 44.5Z" fill="#2080a0" filter="url(#sp2)"/><ellipse cx="245.3" cy="72.4" rx="1.4" ry="7.9" fill="#911eb4" filter="url(#tr)"/><path d="M245.3 30.1C245.7 31.9 246.8 46 247.2 56.3C247.2 62.7 246.4 65.5 245.3 65.5C244.2 65.5 243.4 62.7 243.5 56.3C243.9 46 245 31.9 245.3 30.1Z" fill="#911eb4" filter="url(#sp2)"/><ellipse cx="281.9" cy="74.2" rx="1.6" ry="6.3" fill="#40a0e0" filter="url(#tr)"/><path d="M281.9 41.7C282.4 43.1 283.7 54 284.1 61.8C284.2 66.7 283.2 68.9 281.9 68.9C280.6 68.9 279.6 66.7 279.7 61.8C280.2 54 281.5 43.1 281.9 41.7Z" fill="#40a0e0" filter="url(#sp2)"/><ellipse cx="271.9" cy="75.2" rx="1.2" ry="5.4" fill="#30d080" filter="url(#tr)"/><path d="M271.9 47.9C272.2 49 273.2 58.2 273.6 64.8C273.6 68.9 272.9 70.8 271.9 70.8C270.9 70.8 270.2 68.9 270.3 64.8C270.6 58.2 271.6 49 271.9 47.9Z" fill="#30d080" filter="url(#sp2)"/><ellipse cx="290" cy="73.8" rx="1.2" ry="7.2" fill="#c040c0" filter="url(#tr)"/><path d="M290 35.8C290.3 37.4 291.3 50.1 291.6 59.3C291.7 65.1 291 67.6 290 67.6C289 67.6 288.3 65.1 288.3 59.3C288.7 50.1 289.7 37.4 290 35.8Z" fill="#c040c0" filter="url(#sp2)"/><ellipse cx="265.7" cy="74.8" rx="1.6" ry="6.2" fill="#40e0c0" filter="url(#tr)"/><path d="M265.7 42.8C266.2 44.1 267.4 54.9 267.9 62.7C268 67.5 267 69.6 265.7 69.6C264.4 69.6 263.5 67.5 263.6 62.7C264 54.9 265.3 44.1 265.7 42.8Z" fill="#40e0c0" filter="url(#sp2)"/><ellipse cx="248.2" cy="73.1" rx="1.4" ry="8" fill="#f0a0b0" filter="url(#tr)"/><path d="M248.2 29.8C248.6 31.6 249.7 46.1 250 56.6C250.1 63.1 249.3 66 248.2 66C247.1 66 246.3 63.1 246.4 56.6C246.7 46.1 247.8 31.6 248.2 29.8Z" fill="#f0a0b0" filter="url(#sp2)"/><ellipse cx="239.2" cy="74.4" rx="1.4" ry="6.8" fill="#b0b0e0" filter="url(#tr)"/><path d="M239.2 38.8C239.6 40.3 240.7 52.2 241.1 60.8C241.2 66.2 240.3 68.6 239.2 68.6C238.1 68.6 237.3 66.2 237.4 60.8C237.8 52.2 238.9 40.3 239.2 38.8Z" fill="#b0b0e0" filter="url(#sp2)"/><ellipse cx="303.9" cy="76.2" rx="1.2" ry="5.2" fill="#80e0a0" filter="url(#tr)"/><path d="M303.9 50.4C304.2 51.5 305.1 60.1 305.5 66.4C305.5 70.2 304.8 72 303.9 72C302.9 72 302.2 70.2 302.2 66.4C302.6 60.1 303.5 51.5 303.9 50.4Z" fill="#80e0a0" filter="url(#sp2)"/><ellipse cx="297.4" cy="75.7" rx="1.7" ry="5.8" fill="#e8d820" filter="url(#tr)"/><path d="M297.4 46C297.8 47.3 299.1 57.2 299.6 64.4C299.7 68.9 298.7 70.9 297.4 70.9C296.1 70.9 295.1 68.9 295.2 64.4C295.6 57.2 296.9 47.3 297.4 46Z" fill="#e8d820" filter="url(#sp2)"/><ellipse cx="269.2" cy="75.5" rx="1.3" ry="6.2" fill="#b060d0" filter="url(#tr)"/><path d="M269.2 43.6C269.6 44.9 270.7 55.6 271 63.3C271.1 68.2 270.3 70.3 269.2 70.3C268.2 70.3 267.4 68.2 267.5 63.3C267.8 55.6 268.9 44.9 269.2 43.6Z" fill="#b060d0" filter="url(#sp2)"/><ellipse cx="228.6" cy="75.7" rx="1.5" ry="6.2" fill="#a8e020" filter="url(#tr)"/><path d="M228.6 43.7C229 45 230.2 55.7 230.6 63.5C230.7 68.3 229.8 70.5 228.6 70.5C227.4 70.5 226.5 68.3 226.6 63.5C227 55.7 228.2 45 228.6 43.7Z" fill="#a8e020" filter="url(#sp2)"/><ellipse cx="293.5" cy="75.5" rx="1.4" ry="6.4" fill="#4363d8" filter="url(#tr)"/><path d="M293.5 42.2C293.9 43.6 295.1 54.8 295.4 62.9C295.5 67.9 294.7 70.1 293.5 70.1C292.4 70.1 291.5 67.9 291.6 62.9C292 54.8 293.1 43.6 293.5 42.2Z" fill="#4363d8" filter="url(#sp2)"/><ellipse cx="232.4" cy="76.2" rx="1.7" ry="5.9" fill="#008080" filter="url(#tr)"/><path d="M232.4 45.9C232.9 47.2 234.2 57.3 234.7 64.7C234.8 69.3 233.8 71.3 232.4 71.3C231.1 71.3 230.1 69.3 230.2 64.7C230.7 57.3 232 47.2 232.4 45.9Z" fill="#008080" filter="url(#sp2)"/><ellipse cx="264.1" cy="75.7" rx="1.4" ry="6.6" fill="#46d0e0" filter="url(#tr)"/><path d="M264.1 41.5C264.4 42.9 265.6 54.4 265.9 62.7C266 67.8 265.2 70.1 264.1 70.1C262.9 70.1 262.1 67.8 262.2 62.7C262.5 54.4 263.7 42.9 264.1 41.5Z" fill="#46d0e0" filter="url(#sp2)"/><ellipse cx="254.3" cy="74.8" rx="1.7" ry="7.6" fill="#b060d0" filter="url(#tr)"/><path d="M254.3 34.3C254.8 36 256.1 49.6 256.6 59.4C256.7 65.5 255.7 68.2 254.3 68.2C253 68.2 252 65.5 252.1 59.4C252.6 49.6 253.9 36 254.3 34.3Z" fill="#b060d0" filter="url(#sp2)"/><ellipse cx="300" cy="76.7" rx="1.4" ry="5.7" fill="#e0e0a0" filter="url(#tr)"/><path d="M300 47.9C300.4 49.1 301.6 58.8 301.9 65.7C302 70.1 301.2 72 300 72C298.9 72 298 70.1 298.1 65.7C298.5 58.8 299.6 49.1 300 47.9Z" fill="#e0e0a0" filter="url(#sp2)"/><ellipse cx="285.8" cy="75.5" rx="1.3" ry="6.9" fill="#46d0e0" filter="url(#tr)"/><path d="M285.8 39.2C286.1 40.7 287.2 52.9 287.5 61.7C287.6 67.2 286.8 69.6 285.8 69.6C284.8 69.6 284 67.2 284.1 61.7C284.4 52.9 285.5 40.7 285.8 39.2Z" fill="#46d0e0" filter="url(#sp2)"/><ellipse cx="276.6" cy="75.8" rx="1.4" ry="6.7" fill="#e8d820" filter="url(#tr)"/><path d="M276.6 40.9C277 42.4 278.1 54.1 278.5 62.5C278.6 67.8 277.8 70.1 276.6 70.1C275.5 70.1 274.6 67.8 274.7 62.5C275.1 54.1 276.2 42.4 276.6 40.9Z" fill="#e8d820" filter="url(#sp2)"/><ellipse cx="260.1" cy="75.5" rx="1.4" ry="7.3" fill="#30d080" filter="url(#tr)"/><path d="M260.1 36.6C260.4 38.3 261.5 51.3 261.9 60.7C262 66.6 261.2 69.2 260.1 69.2C259 69.2 258.2 66.6 258.3 60.7C258.6 51.3 259.7 38.3 260.1 36.6Z" fill="#30d080" filter="url(#sp2)"/><ellipse cx="281.5" cy="76" rx="1.4" ry="7" fill="#f0a0b0" filter="url(#tr)"/><path d="M281.5 39.4C281.9 40.9 283 53.2 283.4 62.1C283.5 67.6 282.7 70.1 281.5 70.1C280.4 70.1 279.6 67.6 279.7 62.1C280 53.2 281.2 40.9 281.5 39.4Z" fill="#f0a0b0" filter="url(#sp2)"/><ellipse cx="243.5" cy="75" rx="1.7" ry="8.1" fill="#a8e020" filter="url(#tr)"/><path d="M243.5 31.2C244 33 245.3 47.7 245.8 58.3C245.9 64.9 244.9 67.9 243.5 67.9C242.2 67.9 241.2 64.9 241.3 58.3C241.8 47.7 243.1 33 243.5 31.2Z" fill="#a8e020" filter="url(#sp2)"/><ellipse cx="235.7" cy="76.3" rx="1.7" ry="6.9" fill="#40a0e0" filter="url(#tr)"/><path d="M235.7 40.3C236.2 41.8 237.5 53.9 238 62.6C238.1 68.1 237.1 70.5 235.7 70.5C234.4 70.5 233.4 68.1 233.5 62.6C234 53.9 235.3 41.8 235.7 40.3Z" fill="#40a0e0" filter="url(#sp2)"/><ellipse cx="275.7" cy="77.4" rx="1.6" ry="6.3" fill="#4363d8" filter="url(#tr)"/><path d="M275.7 44.9C276.1 46.3 277.5 57.1 277.9 65C278 69.9 277 72.1 275.7 72.1C274.4 72.1 273.4 69.9 273.5 65C274 57.1 275.3 46.3 275.7 44.9Z" fill="#4363d8" filter="url(#sp2)"/><ellipse cx="251.1" cy="76.8" rx="1.6" ry="7.1" fill="#f58231" filter="url(#tr)"/><path d="M251.1 39.6C251.5 41.2 252.8 53.7 253.2 62.7C253.3 68.3 252.4 70.8 251.1 70.8C249.8 70.8 248.9 68.3 249 62.7C249.4 53.7 250.7 41.2 251.1 39.6Z" fill="#f58231" filter="url(#sp2)"/><ellipse cx="267.1" cy="77.9" rx="1.6" ry="6.3" fill="#808000" filter="url(#tr)"/><path d="M267.1 45.5C267.5 46.8 268.8 57.7 269.2 65.5C269.3 70.4 268.4 72.6 267.1 72.6C265.8 72.6 264.9 70.4 265 65.5C265.4 57.7 266.7 46.8 267.1 45.5Z" fill="#808000" filter="url(#sp2)"/><ellipse cx="295.3" cy="77.9" rx="1.2" ry="6.5" fill="#5080d0" filter="url(#tr)"/><path d="M295.3 44.3C295.7 45.7 296.6 56.9 297 65.1C297.1 70.2 296.3 72.4 295.3 72.4C294.3 72.4 293.6 70.2 293.7 65.1C294 56.9 295 45.7 295.3 44.3Z" fill="#5080d0" filter="url(#sp2)"/><ellipse cx="231.5" cy="78.3" rx="1.3" ry="6.1" fill="#d0d060" filter="url(#tr)"/><path d="M231.5 47C231.8 48.3 232.9 58.8 233.2 66.4C233.3 71.1 232.5 73.2 231.5 73.2C230.4 73.2 229.6 71.1 229.7 66.4C230 58.8 231.1 48.3 231.5 47Z" fill="#d0d060" filter="url(#sp2)"/><ellipse cx="270.4" cy="77.9" rx="1.4" ry="6.5" fill="#f0c8a0" filter="url(#tr)"/><path d="M270.4 43.8C270.8 45.3 271.9 56.7 272.3 64.9C272.4 70.1 271.5 72.4 270.4 72.4C269.2 72.4 268.3 70.1 268.4 64.9C268.8 56.7 270 45.3 270.4 43.8Z" fill="#f0c8a0" filter="url(#sp2)"/><ellipse cx="249.9" cy="76.5" rx="1.4" ry="8" fill="#b0b0e0" filter="url(#tr)"/><path d="M249.9 33.5C250.3 35.3 251.4 49.7 251.8 60.1C251.9 66.6 251.1 69.5 249.9 69.5C248.8 69.5 248 66.6 248.1 60.1C248.4 49.7 249.6 35.3 249.9 33.5Z" fill="#b0b0e0" filter="url(#sp2)"/><ellipse cx="240.7" cy="76.3" rx="1.5" ry="8.2" fill="#6040c0" filter="url(#tr)"/><path d="M240.7 31.9C241.1 33.8 242.3 48.6 242.7 59.4C242.8 66.1 241.9 69.1 240.7 69.1C239.6 69.1 238.7 66.1 238.8 59.4C239.2 48.6 240.3 33.8 240.7 31.9Z" fill="#6040c0" filter="url(#sp2)"/><ellipse cx="262.2" cy="78" rx="1.5" ry="6.8" fill="#a8e020" filter="url(#tr)"/><path d="M262.2 42.1C262.6 43.6 263.7 55.6 264.1 64.3C264.2 69.7 263.4 72.1 262.2 72.1C261 72.1 260.2 69.7 260.3 64.3C260.6 55.6 261.8 43.6 262.2 42.1Z" fill="#a8e020" filter="url(#sp2)"/><ellipse cx="289.6" cy="77.1" rx="1.2" ry="7.8" fill="#e07050" filter="url(#tr)"/><path d="M289.6 35.6C290 37.3 290.9 51.2 291.2 61.3C291.3 67.6 290.6 70.4 289.6 70.4C288.7 70.4 287.9 67.6 288 61.3C288.3 51.2 289.3 37.3 289.6 35.6Z" fill="#e07050" filter="url(#sp2)"/><ellipse cx="228.4" cy="78.3" rx="1.5" ry="6.6" fill="#e0a030" filter="url(#tr)"/><path d="M228.4 43.7C228.8 45.1 230 56.7 230.4 65.1C230.5 70.3 229.6 72.7 228.4 72.7C227.2 72.7 226.3 70.3 226.4 65.1C226.8 56.7 228 45.1 228.4 43.7Z" fill="#e0a030" filter="url(#sp2)"/><ellipse cx="253.9" cy="78.6" rx="1.3" ry="6.5" fill="#e8d820" filter="url(#tr)"/><path d="M253.9 45.1C254.2 46.5 255.3 57.7 255.6 65.8C255.7 70.9 254.9 73.1 253.9 73.1C252.8 73.1 252.1 70.9 252.2 65.8C252.5 57.7 253.5 46.5 253.9 45.1Z" fill="#e8d820" filter="url(#sp2)"/><ellipse cx="277.5" cy="78.5" rx="1.6" ry="6.8" fill="#6040c0" filter="url(#tr)"/><path d="M277.5 42.9C277.9 44.4 279.2 56.3 279.6 64.9C279.8 70.3 278.8 72.7 277.5 72.7C276.2 72.7 275.2 70.3 275.3 64.9C275.7 56.3 277 44.4 277.5 42.9Z" fill="#6040c0" filter="url(#sp2)"/><ellipse cx="234.8" cy="78.1" rx="1.4" ry="7.2" fill="#f032e6" filter="url(#tr)"/><path d="M234.8 40C235.2 41.6 236.3 54.3 236.7 63.6C236.7 69.3 235.9 71.9 234.8 71.9C233.7 71.9 232.8 69.3 232.9 63.6C233.3 54.3 234.4 41.6 234.8 40Z" fill="#f032e6" filter="url(#sp2)"/><ellipse cx="294.5" cy="79.6" rx="1.5" ry="5.8" fill="#2080a0" filter="url(#tr)"/><path d="M294.5 49.8C294.9 51.1 296.1 61 296.5 68.3C296.6 72.7 295.7 74.7 294.5 74.7C293.4 74.7 292.5 72.7 292.6 68.3C293 61 294.1 51.1 294.5 49.8Z" fill="#2080a0" filter="url(#sp2)"/><ellipse cx="265.5" cy="79.3" rx="1.6" ry="6.6" fill="#b060d0" filter="url(#tr)"/><path d="M265.5 45C266 46.4 267.3 57.9 267.7 66.3C267.8 71.4 266.8 73.7 265.5 73.7C264.2 73.7 263.3 71.4 263.4 66.3C263.8 57.9 265.1 46.4 265.5 45Z" fill="#b060d0" filter="url(#sp2)"/><ellipse cx="260.2" cy="79.1" rx="1.2" ry="7" fill="#b0b0e0" filter="url(#tr)"/><path d="M260.2 42.2C260.6 43.7 261.5 56.1 261.8 65C261.9 70.6 261.2 73.1 260.2 73.1C259.3 73.1 258.5 70.6 258.6 65C258.9 56.1 259.9 43.7 260.2 42.2Z" fill="#b0b0e0" filter="url(#sp2)"/><ellipse cx="225" cy="79.6" rx="1.4" ry="6.4" fill="#80e0a0" filter="url(#tr)"/><path d="M225 46.2C225.4 47.6 226.5 58.8 226.9 66.9C227 72 226.1 74.2 225 74.2C223.8 74.2 223 72 223.1 66.9C223.4 58.8 224.6 47.6 225 46.2Z" fill="#80e0a0" filter="url(#sp2)"/><ellipse cx="244.2" cy="78.9" rx="1.3" ry="7.3" fill="#e0e0a0" filter="url(#tr)"/><path d="M244.2 40.1C244.6 41.7 245.6 54.7 246 64.1C246 69.9 245.3 72.5 244.2 72.5C243.2 72.5 242.5 69.9 242.5 64.1C242.9 54.7 243.9 41.7 244.2 40.1Z" fill="#e0e0a0" filter="url(#sp2)"/><ellipse cx="285" cy="78.6" rx="1.7" ry="7.7" fill="#e07050" filter="url(#tr)"/><path d="M285 37.6C285.5 39.3 286.8 53 287.2 63C287.3 69.2 286.3 71.9 285 71.9C283.7 71.9 282.7 69.2 282.8 63C283.2 53 284.6 39.3 285 37.6Z" fill="#e07050" filter="url(#sp2)"/><ellipse cx="282.1" cy="80.1" rx="1.6" ry="6.4" fill="#d04040" filter="url(#tr)"/><path d="M282.1 47.1C282.5 48.5 283.8 59.5 284.2 67.5C284.3 72.5 283.4 74.7 282.1 74.7C280.9 74.7 279.9 72.5 280 67.5C280.5 59.5 281.7 48.5 282.1 47.1Z" fill="#d04040" filter="url(#sp2)"/><ellipse cx="252.1" cy="78.4" rx="1.4" ry="8.2" fill="#80e0a0" filter="url(#tr)"/><path d="M252.1 34.3C252.5 36.2 253.7 50.9 254 61.6C254.1 68.3 253.3 71.2 252.1 71.2C251 71.2 250.1 68.3 250.2 61.6C250.6 50.9 251.7 36.2 252.1 34.3Z" fill="#80e0a0" filter="url(#sp2)"/><ellipse cx="232.7" cy="80.3" rx="1.3" ry="6.6" fill="#d04040" filter="url(#tr)"/><path d="M232.7 46.1C233 47.5 234 59 234.4 67.3C234.5 72.4 233.7 74.7 232.7 74.7C231.6 74.7 230.8 72.4 230.9 67.3C231.3 59 232.3 47.5 232.7 46.1Z" fill="#d04040" filter="url(#sp2)"/><ellipse cx="290.8" cy="79.4" rx="1.5" ry="7.5" fill="#5080d0" filter="url(#tr)"/><path d="M290.8 39.3C291.2 41 292.3 54.4 292.7 64.2C292.8 70.2 291.9 72.9 290.8 72.9C289.6 72.9 288.7 70.2 288.8 64.2C289.2 54.4 290.4 41 290.8 39.3Z" fill="#5080d0" filter="url(#sp2)"/><ellipse cx="273.1" cy="80.3" rx="1.5" ry="6.6" fill="#b0b0e0" filter="url(#tr)"/><path d="M273.1 46.1C273.5 47.5 274.7 59 275 67.3C275.1 72.5 274.3 74.8 273.1 74.8C271.9 74.8 271 72.5 271.1 67.3C271.5 59 272.7 47.5 273.1 46.1Z" fill="#b0b0e0" filter="url(#sp2)"/><ellipse cx="262.6" cy="79.5" rx="1.2" ry="7.6" fill="#e6194b" filter="url(#tr)"/><path d="M262.6 38.8C262.9 40.5 263.9 54.1 264.2 64C264.3 70.2 263.6 72.9 262.6 72.9C261.6 72.9 260.9 70.2 261 64C261.3 54.1 262.3 40.5 262.6 38.8Z" fill="#e6194b" filter="url(#sp2)"/><ellipse cx="279.2" cy="80.3" rx="1.4" ry="7.5" fill="#f0c8a0" filter="url(#tr)"/><path d="M279.2 40.1C279.5 41.7 280.6 55.2 281 65C281.1 71 280.3 73.7 279.2 73.7C278.1 73.7 277.2 71 277.3 65C277.7 55.2 278.8 41.7 279.2 40.1Z" fill="#f0c8a0" filter="url(#sp2)"/><ellipse cx="240.4" cy="81.5" rx="1.6" ry="6.4" fill="#c02080" filter="url(#tr)"/><path d="M240.4 48.6C240.8 50 242 61 242.5 69C242.6 73.9 241.6 76.2 240.4 76.2C239.1 76.2 238.2 73.9 238.3 69C238.7 61 239.9 50 240.4 48.6Z" fill="#c02080" filter="url(#sp2)"/><ellipse cx="257.2" cy="81.3" rx="1.7" ry="6.6" fill="#008080" filter="url(#tr)"/><path d="M257.2 46.8C257.6 48.3 259 59.8 259.4 68.2C259.5 73.4 258.5 75.7 257.2 75.7C255.9 75.7 254.9 73.4 255 68.2C255.4 59.8 256.7 48.3 257.2 46.8Z" fill="#008080" filter="url(#sp2)"/><ellipse cx="248.2" cy="79.4" rx="1.4" ry="8.6" fill="#c02080" filter="url(#tr)"/><path d="M248.2 32.9C248.6 34.9 249.7 50.5 250 61.7C250.1 68.8 249.3 71.9 248.2 71.9C247.1 71.9 246.3 68.8 246.4 61.7C246.7 50.5 247.8 34.9 248.2 32.9Z" fill="#c02080" filter="url(#sp2)"/><ellipse cx="269.3" cy="80.8" rx="1.6" ry="7.3" fill="#008080" filter="url(#tr)"/><path d="M269.3 41.9C269.7 43.5 271 56.6 271.4 66C271.6 71.9 270.6 74.5 269.3 74.5C268 74.5 267 71.9 267.1 66C267.5 56.6 268.8 43.5 269.3 41.9Z" fill="#008080" filter="url(#sp2)"/><ellipse cx="285.8" cy="80.5" rx="1.2" ry="7.9" fill="#70b0d0" filter="url(#tr)"/><path d="M285.8 38.3C286.1 40.1 287.1 54.2 287.4 64.5C287.5 70.8 286.8 73.7 285.8 73.7C284.8 73.7 284.1 70.8 284.2 64.5C284.5 54.2 285.5 40.1 285.8 38.3Z" fill="#70b0d0" filter="url(#sp2)"/><ellipse cx="227.6" cy="81.8" rx="1.2" ry="6.9" fill="#d0d060" filter="url(#tr)"/><path d="M227.6 45.3C227.9 46.8 228.9 59 229.2 67.9C229.3 73.4 228.5 75.8 227.6 75.8C226.6 75.8 225.9 73.4 225.9 67.9C226.3 59 227.2 46.8 227.6 45.3Z" fill="#d0d060" filter="url(#sp2)"/><ellipse cx="250.7" cy="81.2" rx="1.5" ry="7.6" fill="#911eb4" filter="url(#tr)"/><path d="M250.7 40.8C251.1 42.4 252.3 56 252.7 65.8C252.8 71.9 251.9 74.6 250.7 74.6C249.6 74.6 248.7 71.9 248.8 65.8C249.2 56 250.3 42.4 250.7 40.8Z" fill="#911eb4" filter="url(#sp2)"/><ellipse cx="292" cy="81.7" rx="1.5" ry="7.3" fill="#5080d0" filter="url(#tr)"/><path d="M292 42.8C292.4 44.4 293.6 57.5 294 66.9C294.1 72.7 293.2 75.3 292 75.3C290.8 75.3 289.9 72.7 290 66.9C290.4 57.5 291.6 44.4 292 42.8Z" fill="#5080d0" filter="url(#sp2)"/><ellipse cx="242.9" cy="81.7" rx="1.5" ry="7.4" fill="#60c040" filter="url(#tr)"/><path d="M242.9 42.6C243.3 44.2 244.5 57.3 244.9 66.8C245 72.7 244.1 75.3 242.9 75.3C241.7 75.3 240.8 72.7 240.9 66.8C241.3 57.3 242.5 44.2 242.9 42.6Z" fill="#60c040" filter="url(#sp2)"/><ellipse cx="237.3" cy="81.2" rx="1.5" ry="8" fill="#c02080" filter="url(#tr)"/><path d="M237.3 38.4C237.7 40.2 238.9 54.6 239.4 65C239.5 71.4 238.5 74.3 237.3 74.3C236.1 74.3 235.1 71.4 235.2 65C235.6 54.6 236.9 40.2 237.3 38.4Z" fill="#c02080" filter="url(#sp2)"/><ellipse cx="261" cy="81.2" rx="1.7" ry="8" fill="#e6194b" filter="url(#tr)"/><path d="M261 38.3C261.4 40.1 262.7 54.5 263.2 64.9C263.3 71.4 262.3 74.3 261 74.3C259.6 74.3 258.6 71.4 258.7 64.9C259.2 54.5 260.5 40.1 261 38.3Z" fill="#e6194b" filter="url(#sp2)"/><ellipse cx="274.2" cy="82.5" rx="1.7" ry="6.8" fill="#e0e0a0" filter="url(#tr)"/><path d="M274.2 46.9C274.6 48.3 276 60.3 276.4 68.9C276.5 74.3 275.5 76.7 274.2 76.7C272.8 76.7 271.8 74.3 272 68.9C272.4 60.3 273.7 48.3 274.2 46.9Z" fill="#e0e0a0" filter="url(#sp2)"/><ellipse cx="280.7" cy="82" rx="1.2" ry="7.5" fill="#80e0a0" filter="url(#tr)"/><path d="M280.7 41.8C281.1 43.5 282 57 282.3 66.7C282.4 72.8 281.7 75.5 280.7 75.5C279.8 75.5 279.1 72.8 279.1 66.7C279.5 57 280.4 43.5 280.7 41.8Z" fill="#80e0a0" filter="url(#sp2)"/><ellipse cx="240.2" cy="81.7" rx="1.3" ry="7.9" fill="#2080a0" filter="url(#tr)"/><path d="M240.2 39.5C240.6 41.3 241.6 55.4 242 65.6C242 72 241.3 74.8 240.2 74.8C239.2 74.8 238.4 72 238.5 65.6C238.8 55.4 239.9 41.3 240.2 39.5Z" fill="#2080a0" filter="url(#sp2)"/><ellipse cx="268.2" cy="82.4" rx="1.3" ry="7.4" fill="#46d0e0" filter="url(#tr)"/><path d="M268.2 43C268.5 44.6 269.6 57.8 270 67.4C270 73.3 269.2 76 268.2 76C267.1 76 266.3 73.3 266.4 67.4C266.8 57.8 267.8 44.6 268.2 43Z" fill="#46d0e0" filter="url(#sp2)"/><ellipse cx="233.3" cy="82.7" rx="1.5" ry="7.1" fill="#40e0c0" filter="url(#tr)"/><path d="M233.3 45.1C233.7 46.7 235 59.3 235.4 68.4C235.5 74.1 234.5 76.6 233.3 76.6C232.1 76.6 231.2 74.1 231.3 68.4C231.7 59.3 232.9 46.7 233.3 45.1Z" fill="#40e0c0" filter="url(#sp2)"/><ellipse cx="287.7" cy="82.8" rx="1.7" ry="7.2" fill="#80e0a0" filter="url(#tr)"/><path d="M287.7 45C288.1 46.6 289.4 59.3 289.9 68.5C290 74.2 289 76.7 287.7 76.7C286.3 76.7 285.3 74.2 285.5 68.5C285.9 59.3 287.2 46.6 287.7 45Z" fill="#80e0a0" filter="url(#sp2)"/><ellipse cx="227.7" cy="83.2" rx="1.6" ry="6.9" fill="#f032e6" filter="url(#tr)"/><path d="M227.7 47.3C228.1 48.8 229.4 60.8 229.9 69.6C230 75 229 77.4 227.7 77.4C226.4 77.4 225.4 75 225.5 69.6C226 60.8 227.3 48.8 227.7 47.3Z" fill="#f032e6" filter="url(#sp2)"/><ellipse cx="248" cy="81.4" rx="1.7" ry="9" fill="#9a6324" filter="url(#tr)"/><path d="M248 31.9C248.5 34 249.8 50.6 250.2 62.6C250.4 70 249.4 73.3 248 73.3C246.7 73.3 245.7 70 245.8 62.6C246.3 50.6 247.6 34 248 31.9Z" fill="#9a6324" filter="url(#sp2)"/><ellipse cx="271" cy="83.8" rx="1.2" ry="6.8" fill="#e0a030" filter="url(#tr)"/><path d="M271 48.1C271.3 49.6 272.3 61.6 272.6 70.2C272.7 75.6 271.9 78 271 78C270 78 269.2 75.6 269.3 70.2C269.6 61.6 270.6 49.6 271 48.1Z" fill="#e0a030" filter="url(#sp2)"/><ellipse cx="277.5" cy="83.8" rx="1.5" ry="7.2" fill="#2080a0" filter="url(#tr)"/><path d="M277.5 46C277.9 47.6 279.1 60.2 279.5 69.4C279.6 75.1 278.7 77.7 277.5 77.7C276.3 77.7 275.5 75.1 275.6 69.4C276 60.2 277.1 47.6 277.5 46Z" fill="#2080a0" filter="url(#sp2)"/><ellipse cx="254.5" cy="82.8" rx="1.3" ry="8.2" fill="#4363d8" filter="url(#tr)"/><path d="M254.5 38.7C254.9 40.5 255.9 55.3 256.2 66C256.3 72.7 255.5 75.6 254.5 75.6C253.5 75.6 252.7 72.7 252.8 66C253.1 55.3 254.2 40.5 254.5 38.7Z" fill="#4363d8" filter="url(#sp2)"/><ellipse cx="265.1" cy="84.1" rx="1.4" ry="6.9" fill="#46d0e0" filter="url(#tr)"/><path d="M265.1 47.7C265.4 49.2 266.5 61.4 266.9 70.2C267 75.7 266.2 78.2 265.1 78.2C264 78.2 263.1 75.7 263.2 70.2C263.6 61.4 264.7 49.2 265.1 47.7Z" fill="#46d0e0" filter="url(#sp2)"/><ellipse cx="228.2" cy="84" rx="1.6" ry="7.4" fill="#b0b0e0" filter="url(#tr)"/><path d="M228.2 44.4C228.6 46.1 229.9 59.3 230.4 68.9C230.5 74.9 229.5 77.5 228.2 77.5C226.9 77.5 225.9 74.9 226 68.9C226.5 59.3 227.8 46.1 228.2 44.4Z" fill="#b0b0e0" filter="url(#sp2)"/><ellipse cx="234.4" cy="84.1" rx="1.5" ry="7.6" fill="#808000" filter="url(#tr)"/><path d="M234.4 43.5C234.8 45.2 236 58.8 236.4 68.6C236.5 74.7 235.6 77.5 234.4 77.5C233.2 77.5 232.3 74.7 232.4 68.6C232.8 58.8 234 45.2 234.4 43.5Z" fill="#808000" filter="url(#sp2)"/><ellipse cx="252.6" cy="82.9" rx="1.3" ry="8.8" fill="#40a0e0" filter="url(#tr)"/><path d="M252.6 35C253 37 254 53.1 254.3 64.7C254.4 71.9 253.6 75.1 252.6 75.1C251.6 75.1 250.9 71.9 251 64.7C251.3 53.1 252.3 37 252.6 35Z" fill="#40a0e0" filter="url(#sp2)"/><ellipse cx="260.2" cy="83.4" rx="1.4" ry="8.4" fill="#e07050" filter="url(#tr)"/><path d="M260.2 37.9C260.6 39.8 261.7 55 262 66.1C262.1 73 261.3 76 260.2 76C259.1 76 258.3 73 258.4 66.1C258.7 55 259.8 39.8 260.2 37.9Z" fill="#e07050" filter="url(#sp2)"/><ellipse cx="286.1" cy="83.8" rx="1.4" ry="8.4" fill="#2080a0" filter="url(#tr)"/><path d="M286.1 38.5C286.5 40.4 287.7 55.5 288 66.5C288.1 73.4 287.3 76.4 286.1 76.4C285 76.4 284.1 73.4 284.2 66.5C284.6 55.5 285.7 40.4 286.1 38.5Z" fill="#2080a0" filter="url(#sp2)"/><ellipse cx="244.4" cy="83.4" rx="1.2" ry="8.8" fill="#e0a030" filter="url(#tr)"/><path d="M244.4 35.8C244.8 37.8 245.8 53.7 246.1 65.3C246.2 72.5 245.4 75.7 244.4 75.7C243.5 75.7 242.7 72.5 242.8 65.3C243.1 53.7 244.1 37.8 244.4 35.8Z" fill="#e0a030" filter="url(#sp2)"/><ellipse cx="281.5" cy="85.1" rx="1.3" ry="7.1" fill="#e6194b" filter="url(#tr)"/><path d="M281.5 47.4C281.9 49 282.9 61.6 283.3 70.8C283.4 76.5 282.6 79 281.5 79C280.4 79 279.6 76.5 279.7 70.8C280.1 61.6 281.1 49 281.5 47.4Z" fill="#e6194b" filter="url(#sp2)"/><ellipse cx="266.2" cy="84.7" rx="1.6" ry="7.7" fill="#f032e6" filter="url(#tr)"/><path d="M266.2 43.8C266.6 45.5 267.9 59.2 268.3 69.1C268.4 75.3 267.4 78 266.2 78C264.9 78 264 75.3 264.1 69.1C264.5 59.2 265.8 45.5 266.2 43.8Z" fill="#f032e6" filter="url(#sp2)"/><ellipse cx="240.4" cy="86.2" rx="1.4" ry="6.6" fill="#f0c8a0" filter="url(#tr)"/><path d="M240.4 51.6C240.8 53.1 241.9 64.6 242.3 73C242.4 78.3 241.6 80.6 240.4 80.6C239.3 80.6 238.4 78.3 238.5 73C238.9 64.6 240 53.1 240.4 51.6Z" fill="#f0c8a0" filter="url(#sp2)"/><ellipse cx="273.5" cy="85.7" rx="1.5" ry="7.2" fill="#5080d0" filter="url(#tr)"/><path d="M273.5 47.7C273.9 49.3 275.1 62 275.5 71.2C275.6 76.9 274.7 79.5 273.5 79.5C272.3 79.5 271.5 76.9 271.6 71.2C271.9 62 273.1 49.3 273.5 47.7Z" fill="#5080d0" filter="url(#sp2)"/><ellipse cx="271.8" cy="85.6" rx="1.2" ry="8.1" fill="#f032e6" filter="url(#tr)"/><path d="M271.8 41.9C272.2 43.7 273.2 58.3 273.5 69C273.6 75.6 272.8 78.5 271.8 78.5C270.8 78.5 270.1 75.6 270.2 69C270.5 58.3 271.5 43.7 271.8 41.9Z" fill="#f032e6" filter="url(#sp2)"/><ellipse cx="285" cy="85.6" rx="1.4" ry="8.4" fill="#f032e6" filter="url(#tr)"/><path d="M285 40.1C285.3 42 286.5 57.3 286.8 68.3C286.9 75.1 286.1 78.2 285 78.2C283.9 78.2 283 75.1 283.1 68.3C283.5 57.3 284.6 42 285 40.1Z" fill="#f032e6" filter="url(#sp2)"/><ellipse cx="233" cy="86.2" rx="1.5" ry="8" fill="#2080a0" filter="url(#tr)"/><path d="M233 43.3C233.4 45.1 234.5 59.4 234.9 69.9C235 76.3 234.2 79.2 233 79.2C231.8 79.2 230.9 76.3 231 69.9C231.4 59.4 232.6 45.1 233 43.3Z" fill="#2080a0" filter="url(#sp2)"/><ellipse cx="254.3" cy="87.5" rx="1.4" ry="6.7" fill="#b0b0e0" filter="url(#tr)"/><path d="M254.3 52.3C254.7 53.8 255.8 65.6 256.1 74.1C256.2 79.4 255.4 81.8 254.3 81.8C253.2 81.8 252.4 79.4 252.5 74.1C252.9 65.6 254 53.8 254.3 52.3Z" fill="#b0b0e0" filter="url(#sp2)"/><ellipse cx="247.4" cy="86.3" rx="1.3" ry="8" fill="#f0a0b0" filter="url(#tr)"/><path d="M247.4 43.4C247.8 45.2 248.8 59.6 249.1 70C249.2 76.4 248.5 79.3 247.4 79.3C246.4 79.3 245.6 76.4 245.7 70C246.1 59.6 247.1 45.2 247.4 43.4Z" fill="#f0a0b0" filter="url(#sp2)"/><ellipse cx="265" cy="87.4" rx="1.4" ry="6.9" fill="#f0a0b0" filter="url(#tr)"/><path d="M265 50.8C265.3 52.3 266.4 64.6 266.8 73.5C266.9 79 266.1 81.4 265 81.4C263.9 81.4 263.1 79 263.2 73.5C263.5 64.6 264.6 52.3 265 50.8Z" fill="#f0a0b0" filter="url(#sp2)"/><ellipse cx="279.7" cy="88" rx="1.5" ry="6.6" fill="#20c060" filter="url(#tr)"/><path d="M279.7 53.9C280.1 55.3 281.3 66.7 281.7 75C281.8 80.2 280.9 82.5 279.7 82.5C278.5 82.5 277.6 80.2 277.7 75C278.1 66.7 279.3 55.3 279.7 53.9Z" fill="#20c060" filter="url(#sp2)"/><ellipse cx="243" cy="88" rx="1.5" ry="6.9" fill="#008080" filter="url(#tr)"/><path d="M243 52.1C243.4 53.6 244.6 65.6 245 74.3C245.1 79.7 244.2 82.1 243 82.1C241.8 82.1 240.9 79.7 241 74.3C241.4 65.6 242.6 53.6 243 52.1Z" fill="#008080" filter="url(#sp2)"/><ellipse cx="238.4" cy="86.8" rx="1.7" ry="8.1" fill="#f58231" filter="url(#tr)"/><path d="M238.4 43.3C238.8 45.1 240.1 59.7 240.6 70.2C240.7 76.8 239.7 79.7 238.4 79.7C237 79.7 236.1 76.8 236.2 70.2C236.6 59.7 237.9 45.1 238.4 43.3Z" fill="#f58231" filter="url(#sp2)"/><ellipse cx="260.4" cy="86.4" rx="1.2" ry="8.5" fill="#40e0c0" filter="url(#tr)"/><path d="M260.4 40.1C260.7 42 261.7 57.6 262 68.8C262.1 75.8 261.3 78.9 260.4 78.9C259.4 78.9 258.7 75.8 258.8 68.8C259.1 57.6 260.1 42 260.4 40.1Z" fill="#40e0c0" filter="url(#sp2)"/><ellipse cx="266.2" cy="87.7" rx="1.3" ry="7.4" fill="#c02080" filter="url(#tr)"/><path d="M266.2 48.5C266.6 50.1 267.6 63.2 268 72.8C268.1 78.7 267.3 81.3 266.2 81.3C265.2 81.3 264.4 78.7 264.5 72.8C264.8 63.2 265.9 50.1 266.2 48.5Z" fill="#c02080" filter="url(#sp2)"/><ellipse cx="253.1" cy="86.5" rx="1.5" ry="8.6" fill="#80e0a0" filter="url(#tr)"/><path d="M253.1 39.7C253.5 41.6 254.7 57.3 255.1 68.7C255.2 75.7 254.3 78.9 253.1 78.9C251.9 78.9 251 75.7 251.1 68.7C251.5 57.3 252.7 41.6 253.1 39.7Z" fill="#80e0a0" filter="url(#sp2)"/><ellipse cx="280.8" cy="87.6" rx="1.3" ry="8.7" fill="#b0b0e0" filter="url(#tr)"/><path d="M280.8 40.2C281.1 42.2 282.1 58.1 282.5 69.6C282.5 76.7 281.8 79.9 280.8 79.9C279.8 79.9 279 76.7 279.1 69.6C279.4 58.1 280.5 42.2 280.8 40.2Z" fill="#b0b0e0" filter="url(#sp2)"/><ellipse cx="273.4" cy="87.8" rx="1.3" ry="8.6" fill="#e07050" filter="url(#tr)"/><path d="M273.4 41.4C273.8 43.3 274.8 58.9 275.2 70.1C275.3 77.1 274.5 80.2 273.4 80.2C272.3 80.2 271.5 77.1 271.6 70.1C272 58.9 273.1 43.3 273.4 41.4Z" fill="#e07050" filter="url(#sp2)"/><ellipse cx="245.6" cy="87.2" rx="1.3" ry="9.3" fill="#60c040" filter="url(#tr)"/><path d="M245.6 36.2C246 38.3 247.1 55.4 247.4 67.8C247.5 75.5 246.7 78.9 245.6 78.9C244.6 78.9 243.8 75.5 243.9 67.8C244.2 55.4 245.3 38.3 245.6 36.2Z" fill="#60c040" filter="url(#sp2)"/><ellipse cx="241.9" cy="89.8" rx="1.4" ry="7.1" fill="#d04040" filter="url(#tr)"/><path d="M241.9 52.6C242.3 54.1 243.4 66.6 243.8 75.6C243.9 81.2 243 83.7 241.9 83.7C240.8 83.7 239.9 81.2 240 75.6C240.4 66.6 241.5 54.1 241.9 52.6Z" fill="#d04040" filter="url(#sp2)"/><ellipse cx="253.2" cy="89.4" rx="1.4" ry="7.5" fill="#f58231" filter="url(#tr)"/><path d="M253.2 49.3C253.6 51 254.7 64.4 255.1 74.2C255.1 80.2 254.3 82.9 253.2 82.9C252.1 82.9 251.3 80.2 251.4 74.2C251.8 64.4 252.9 51 253.2 49.3Z" fill="#f58231" filter="url(#sp2)"/><ellipse cx="236.9" cy="88.1" rx="1.4" ry="8.9" fill="#808080" filter="url(#tr)"/><path d="M236.9 39.6C237.3 41.6 238.4 57.9 238.8 69.6C238.9 77 238 80.2 236.9 80.2C235.8 80.2 234.9 77 235 69.6C235.4 57.9 236.5 41.6 236.9 39.6Z" fill="#808080" filter="url(#sp2)"/><ellipse cx="244.8" cy="90.2" rx="1.5" ry="7.2" fill="#f58231" filter="url(#tr)"/><path d="M244.8 52.2C245.2 53.8 246.5 66.5 246.9 75.8C247 81.5 246.1 84 244.8 84C243.6 84 242.7 81.5 242.8 75.8C243.2 66.5 244.4 53.8 244.8 52.2Z" fill="#f58231" filter="url(#sp2)"/><ellipse cx="252.3" cy="89.7" rx="1.2" ry="7.8" fill="#d04040" filter="url(#tr)"/><path d="M252.3 48.1C252.6 49.8 253.5 63.8 253.9 73.9C253.9 80.2 253.2 83 252.3 83C251.3 83 250.6 80.2 250.6 73.9C251 63.8 251.9 49.8 252.3 48.1Z" fill="#d04040" filter="url(#sp2)"/><ellipse cx="276.6" cy="89.6" rx="1.6" ry="7.9" fill="#f58231" filter="url(#tr)"/><path d="M276.6 47.1C277 48.9 278.3 63.1 278.8 73.4C278.9 79.9 277.9 82.7 276.6 82.7C275.3 82.7 274.3 79.9 274.4 73.4C274.8 63.1 276.2 48.9 276.6 47.1Z" fill="#f58231" filter="url(#sp2)"/><ellipse cx="270.2" cy="89.6" rx="1.3" ry="8" fill="#f58231" filter="url(#tr)"/><path d="M270.2 46.3C270.5 48.1 271.5 62.6 271.9 73.1C271.9 79.6 271.2 82.5 270.2 82.5C269.2 82.5 268.4 79.6 268.5 73.1C268.9 62.6 269.9 48.1 270.2 46.3Z" fill="#f58231" filter="url(#sp2)"/><ellipse cx="263" cy="91.1" rx="1.4" ry="6.9" fill="#20c060" filter="url(#tr)"/><path d="M263 54.7C263.4 56.2 264.5 68.4 264.9 77.2C265 82.7 264.1 85.1 263 85.1C261.9 85.1 261 82.7 261.1 77.2C261.5 68.4 262.6 56.2 263 54.7Z" fill="#20c060" filter="url(#sp2)"/><ellipse cx="265.4" cy="90.6" rx="1.5" ry="7.6" fill="#5080d0" filter="url(#tr)"/><path d="M265.4 49.9C265.8 51.6 266.9 65.2 267.3 75.1C267.4 81.2 266.5 83.9 265.4 83.9C264.2 83.9 263.3 81.2 263.4 75.1C263.8 65.2 265 51.6 265.4 49.9Z" fill="#5080d0" filter="url(#sp2)"/><ellipse cx="274.1" cy="92.2" rx="1.4" ry="6.6" fill="#b0b0e0" filter="url(#tr)"/><path d="M274.1 58C274.5 59.4 275.6 70.9 276 79.2C276.1 84.3 275.2 86.6 274.1 86.6C273 86.6 272.1 84.3 272.2 79.2C272.6 70.9 273.7 59.4 274.1 58Z" fill="#b0b0e0" filter="url(#sp2)"/><ellipse cx="260.8" cy="92.1" rx="1.3" ry="6.8" fill="#d04040" filter="url(#tr)"/><path d="M260.8 56.7C261.2 58.1 262.2 70 262.6 78.6C262.7 84 261.9 86.3 260.8 86.3C259.8 86.3 259 84 259.1 78.6C259.4 70 260.5 58.1 260.8 56.7Z" fill="#d04040" filter="url(#sp2)"/><ellipse cx="262.8" cy="91.3" rx="1.6" ry="7.9" fill="#e8d820" filter="url(#tr)"/><path d="M262.8 49.1C263.2 50.9 264.5 65 264.9 75.3C265 81.6 264.1 84.5 262.8 84.5C261.5 84.5 260.5 81.6 260.6 75.3C261 65 262.3 50.9 262.8 49.1Z" fill="#e8d820" filter="url(#sp2)"/><ellipse cx="246.8" cy="92.6" rx="1.6" ry="6.9" fill="#911eb4" filter="url(#tr)"/><path d="M246.8 56.5C247.2 58 248.5 70.1 248.9 78.9C249 84.3 248.1 86.7 246.8 86.7C245.5 86.7 244.5 84.3 244.6 78.9C245 70.1 246.3 58 246.8 56.5Z" fill="#911eb4" filter="url(#sp2)"/><ellipse cx="257.7" cy="93" rx="1.2" ry="7" fill="#c040c0" filter="url(#tr)"/><path d="M257.7 56.4C258 57.9 258.9 70.2 259.3 79.1C259.4 84.6 258.6 87 257.7 87C256.7 87 256 84.6 256 79.1C256.4 70.2 257.3 57.9 257.7 56.4Z" fill="#c040c0" filter="url(#sp2)"/><ellipse cx="269" cy="93" rx="1.7" ry="6.9" fill="#70b0d0" filter="url(#tr)"/><path d="M269 56.8C269.5 58.3 270.8 70.4 271.2 79.2C271.3 84.7 270.3 87.1 269 87.1C267.7 87.1 266.7 84.7 266.8 79.2C267.2 70.4 268.6 58.3 269 56.8Z" fill="#70b0d0" filter="url(#sp2)"/><ellipse cx="245.8" cy="94.1" rx="1.2" ry="6.7" fill="#f58231" filter="url(#tr)"/><path d="M245.8 59.3C246.2 60.8 247.2 72.4 247.5 80.9C247.6 86.1 246.8 88.4 245.8 88.4C244.8 88.4 244.1 86.1 244.2 80.9C244.5 72.4 245.5 60.8 245.8 59.3Z" fill="#f58231" filter="url(#sp2)"/><ellipse cx="260.6" cy="93.7" rx="1.3" ry="7.4" fill="#d0d060" filter="url(#tr)"/><path d="M260.6 54.1C261 55.8 262 69 262.3 78.6C262.4 84.6 261.6 87.3 260.6 87.3C259.6 87.3 258.9 84.6 259 78.6C259.3 69 260.3 55.8 260.6 54.1Z" fill="#d0d060" filter="url(#sp2)"/><ellipse cx="253.2" cy="94.7" rx="1.5" ry="6.6" fill="#e8d820" filter="url(#tr)"/><path d="M253.2 60.4C253.7 61.9 254.9 73.4 255.3 81.7C255.4 86.9 254.5 89.2 253.2 89.2C252 89.2 251.1 86.9 251.2 81.7C251.6 73.4 252.8 61.9 253.2 60.4Z" fill="#e8d820" filter="url(#sp2)"/><ellipse cx="267.5" cy="95" rx="1.4" ry="7.2" fill="#e0a030" filter="url(#tr)"/><path d="M267.5 56.6C267.8 58.2 268.9 71.1 269.3 80.4C269.4 86.2 268.6 88.8 267.5 88.8C266.4 88.8 265.6 86.2 265.7 80.4C266 71.1 267.1 58.2 267.5 56.6Z" fill="#e0a030" filter="url(#sp2)"/><ellipse cx="256.9" cy="93.5" rx="1.6" ry="9.2" fill="#a8e020" filter="url(#tr)"/><path d="M256.9 43.3C257.3 45.4 258.6 62.2 259 74.4C259.1 81.9 258.2 85.3 256.9 85.3C255.6 85.3 254.6 81.9 254.8 74.4C255.2 62.2 256.5 45.4 256.9 43.3Z" fill="#a8e020" filter="url(#sp2)"/><ellipse cx="261.9" cy="94.2" rx="1.2" ry="8.7" fill="#e060a0" filter="url(#tr)"/><path d="M261.9 46.8C262.2 48.8 263.2 64.7 263.6 76.2C263.7 83.3 262.9 86.5 261.9 86.5C260.9 86.5 260.2 83.3 260.2 76.2C260.6 64.7 261.6 48.8 261.9 46.8Z" fill="#e060a0" filter="url(#sp2)"/><ellipse cx="245.6" cy="51.3" rx="1.5" ry="4.7" fill="#c8c8c8" filter="url(#tr)"/><path d="M245.6 28.5C246 29.5 247.2 37.1 247.6 42.6C247.7 46.1 246.8 47.6 245.6 47.6C244.4 47.6 243.5 46.1 243.6 42.6C244 37.1 245.2 29.5 245.6 28.5Z" fill="#c8c8c8" filter="url(#sp2)"/><ellipse cx="226.5" cy="57.9" rx="1.5" ry="3.1" fill="#c060e0" filter="url(#tr)"/><path d="M226.5 44.8C226.9 45.3 228.1 49.7 228.5 52.9C228.6 54.9 227.7 55.7 226.5 55.7C225.3 55.7 224.4 54.9 224.5 52.9C224.9 49.7 226.1 45.3 226.5 44.8Z" fill="#c060e0" filter="url(#sp2)"/><ellipse cx="242.5" cy="55.7" rx="1.8" ry="5.3" fill="#809020" filter="url(#tr)"/><path d="M242.5 29.6C243 30.7 244.4 39.4 244.9 45.8C245 49.7 243.9 51.5 242.5 51.5C241.1 51.5 240 49.7 240.1 45.8C240.6 39.4 242 30.7 242.5 29.6Z" fill="#809020" filter="url(#sp2)"/><ellipse cx="267.4" cy="57.5" rx="1.2" ry="3.5" fill="#d040d0" filter="url(#tr)"/><path d="M267.4 41.8C267.7 42.5 268.7 47.7 269 51.5C269.1 53.9 268.4 54.9 267.4 54.9C266.4 54.9 265.7 53.9 265.8 51.5C266.1 47.7 267.1 42.5 267.4 41.8Z" fill="#d040d0" filter="url(#sp2)"/><ellipse cx="275" cy="57.4" rx="1.5" ry="3.6" fill="#3060e0" filter="url(#tr)"/><path d="M275 41.6C275.4 42.3 276.6 47.6 277 51.4C277.1 53.8 276.2 54.8 275 54.8C273.8 54.8 272.9 53.8 273 51.4C273.4 47.6 274.6 42.3 275 41.6Z" fill="#3060e0" filter="url(#sp2)"/><ellipse cx="247.3" cy="58.1" rx="1.8" ry="4.9" fill="#30a070" filter="url(#tr)"/><path d="M247.3 33.8C247.8 34.8 249.2 42.9 249.7 48.8C249.8 52.5 248.7 54.1 247.3 54.1C245.9 54.1 244.8 52.5 244.9 48.8C245.4 42.9 246.8 34.8 247.3 33.8Z" fill="#30a070" filter="url(#sp2)"/><ellipse cx="240.5" cy="59.5" rx="2.1" ry="3.5" fill="#3040d0" filter="url(#tr)"/><path d="M240.5 43.8C241.1 44.5 242.7 49.7 243.3 53.5C243.4 55.9 242.2 56.9 240.5 56.9C238.8 56.9 237.6 55.9 237.7 53.5C238.3 49.7 239.9 44.5 240.5 43.8Z" fill="#3040d0" filter="url(#sp2)"/><ellipse cx="258" cy="57.5" rx="2.4" ry="5.5" fill="#c04090" filter="url(#tr)"/><path d="M258 29.8C258.6 31 260.6 40.2 261.2 47C261.4 51.1 259.9 53 258 53C256.1 53 254.6 51.1 254.8 47C255.4 40.2 257.4 31 258 29.8Z" fill="#c04090" filter="url(#sp2)"/><ellipse cx="271" cy="61.8" rx="2.1" ry="4.2" fill="#204030" filter="url(#tr)"/><path d="M271 42.2C271.6 43 273.2 49.6 273.8 54.3C273.9 57.3 272.7 58.6 271 58.6C269.3 58.6 268.1 57.3 268.2 54.3C268.8 49.6 270.4 43 271 42.2Z" fill="#204030" filter="url(#sp2)"/><ellipse cx="285" cy="64.2" rx="1.8" ry="4.9" fill="#e0c070" filter="url(#tr)"/><path d="M285 40.5C285.5 41.5 286.9 49.4 287.4 55.2C287.5 58.7 286.4 60.3 285 60.3C283.6 60.3 282.5 58.7 282.6 55.2C283.1 49.4 284.5 41.5 285 40.5Z" fill="#e0c070" filter="url(#sp2)"/><ellipse cx="290" cy="63.4" rx="2.4" ry="5.6" fill="#602020" filter="url(#tr)"/><path d="M290 34.8C290.6 36 292.6 45.6 293.2 52.5C293.4 56.8 291.9 58.7 290 58.7C288.1 58.7 286.6 56.8 286.8 52.5C287.4 45.6 289.4 36 290 34.8Z" fill="#602020" filter="url(#sp2)"/><ellipse cx="317.7" cy="64.7" rx="2.1" ry="4.3" fill="#d040d0" filter="url(#tr)"/><path d="M317.7 44.5C318.3 45.3 319.9 52.1 320.5 57C320.6 60.1 319.4 61.4 317.7 61.4C316 61.4 314.8 60.1 314.9 57C315.5 52.1 317.1 45.3 317.7 44.5Z" fill="#d040d0" filter="url(#sp2)"/><ellipse cx="265" cy="66.3" rx="1.8" ry="4.7" fill="#40c0c0" filter="url(#tr)"/><path d="M265 43.8C265.5 44.7 266.9 52.3 267.4 57.8C267.5 61.2 266.4 62.7 265 62.7C263.6 62.7 262.5 61.2 262.6 57.8C263.1 52.3 264.5 44.7 265 43.8Z" fill="#40c0c0" filter="url(#sp2)"/><ellipse cx="281" cy="65.6" rx="2.7" ry="5.4" fill="#70c0a0" filter="url(#tr)"/><path d="M281 38.8C281.7 39.9 283.9 48.9 284.6 55.4C284.8 59.5 283.2 61.3 281 61.3C278.8 61.3 277.2 59.5 277.4 55.4C278.1 48.9 280.3 39.9 281 38.8Z" fill="#70c0a0" filter="url(#sp2)"/><ellipse cx="311.6" cy="66.6" rx="2.4" ry="4.4" fill="#c02040" filter="url(#tr)"/><path d="M311.6 45.8C312.2 46.7 314.2 53.6 314.8 58.7C315 61.8 313.5 63.2 311.6 63.2C309.7 63.2 308.2 61.8 308.4 58.7C309 53.6 311 46.7 311.6 45.8Z" fill="#c02040" filter="url(#sp2)"/><ellipse cx="243.3" cy="67.4" rx="2.1" ry="5.6" fill="#e0e020" filter="url(#tr)"/><path d="M243.3 39.3C243.9 40.5 245.5 49.9 246.1 56.7C246.2 61 245 62.8 243.3 62.8C241.6 62.8 240.4 61 240.5 56.7C241.1 49.9 242.7 40.5 243.3 39.3Z" fill="#e0e020" filter="url(#sp2)"/><ellipse cx="294.7" cy="68.1" rx="2.1" ry="4.9" fill="#60c060" filter="url(#tr)"/><path d="M294.7 43.8C295.3 44.8 296.9 52.9 297.5 58.8C297.6 62.5 296.4 64.1 294.7 64.1C293 64.1 291.8 62.5 291.9 58.8C292.5 52.9 294.1 44.8 294.7 43.8Z" fill="#60c060" filter="url(#sp2)"/><ellipse cx="305.5" cy="68.8" rx="1.8" ry="4.2" fill="#5030c0" filter="url(#tr)"/><path d="M305.5 49.2C306 50 307.4 56.6 307.9 61.3C308 64.3 306.9 65.6 305.5 65.6C304.1 65.6 303 64.3 303.1 61.3C303.6 56.6 305 50 305.5 49.2Z" fill="#5030c0" filter="url(#sp2)"/><ellipse cx="321" cy="69.2" rx="2.1" ry="3.8" fill="#60f040" filter="url(#tr)"/><path d="M321 51.8C321.6 52.5 323.2 58.3 323.8 62.6C323.9 65.2 322.7 66.3 321 66.3C319.3 66.3 318.1 65.2 318.2 62.6C318.8 58.3 320.4 52.5 321 51.8Z" fill="#60f040" filter="url(#sp2)"/><ellipse cx="257.5" cy="69.7" rx="1.2" ry="3.3" fill="#e03020" filter="url(#tr)"/><path d="M257.5 55.8C257.8 56.4 258.8 61 259.1 64.4C259.2 66.5 258.5 67.5 257.5 67.5C256.5 67.5 255.8 66.5 255.9 64.4C256.2 61 257.2 56.4 257.5 55.8Z" fill="#e03020" filter="url(#sp2)"/><ellipse cx="234.7" cy="70.9" rx="2.4" ry="5.1" fill="#8040c0" filter="url(#tr)"/><path d="M234.7 45.8C235.3 46.9 237.3 55.3 237.9 61.4C238.1 65.1 236.6 66.8 234.7 66.8C232.8 66.8 231.3 65.1 231.5 61.4C232.1 55.3 234.1 46.9 234.7 45.8Z" fill="#8040c0" filter="url(#sp2)"/><ellipse cx="254.5" cy="69.1" rx="3" ry="6.9" fill="#a02040" filter="url(#tr)"/><path d="M254.5 32.8C255.3 34.3 257.7 46.5 258.5 55.3C258.7 60.8 256.9 63.2 254.5 63.2C252.1 63.2 250.3 60.8 250.5 55.3C251.3 46.5 253.7 34.3 254.5 32.8Z" fill="#a02040" filter="url(#sp2)"/><ellipse cx="299" cy="70.8" rx="2.4" ry="5.2" fill="#80d080" filter="url(#tr)"/><path d="M299 44.8C299.6 45.9 301.6 54.6 302.2 60.9C302.4 64.8 300.9 66.5 299 66.5C297.1 66.5 295.6 64.8 295.8 60.9C296.4 54.6 298.4 45.9 299 44.8Z" fill="#80d080" filter="url(#sp2)"/><ellipse cx="302.5" cy="73.6" rx="2.4" ry="5.4" fill="#e07050" filter="url(#tr)"/><path d="M302.5 46.8C303.1 47.9 305.1 56.9 305.7 63.4C305.9 67.5 304.4 69.3 302.5 69.3C300.6 69.3 299.1 67.5 299.3 63.4C299.9 56.9 301.9 47.9 302.5 46.8Z" fill="#e07050" filter="url(#sp2)"/><ellipse cx="238.5" cy="74" rx="2.7" ry="7" fill="#c030a0" filter="url(#tr)"/><path d="M238.5 36.8C239.2 38.4 241.4 50.8 242.1 59.8C242.3 65.4 240.7 67.9 238.5 67.9C236.3 67.9 234.7 65.4 234.9 59.8C235.6 50.8 237.8 38.4 238.5 36.8Z" fill="#c030a0" filter="url(#sp2)"/><ellipse cx="308" cy="77.2" rx="1.8" ry="3.8" fill="#e0e050" filter="url(#tr)"/><path d="M308 59.8C308.5 60.5 309.9 66.3 310.4 70.6C310.5 73.2 309.4 74.3 308 74.3C306.6 74.3 305.5 73.2 305.6 70.6C306.1 66.3 307.5 60.5 308 59.8Z" fill="#e0e050" filter="url(#sp2)"/><ellipse cx="224" cy="79.1" rx="2.4" ry="5.9" fill="#2a7060" filter="url(#tr)"/><path d="M224 49.3C224.6 50.5 226.6 60.5 227.2 67.8C227.4 72.3 225.9 74.3 224 74.3C222.1 74.3 220.6 72.3 220.8 67.8C221.4 60.5 223.4 50.5 224 49.3Z" fill="#2a7060" filter="url(#sp2)"/><ellipse cx="229.5" cy="81.2" rx="2.7" ry="5.8" fill="#7030a0" filter="url(#tr)"/><path d="M229.5 51.8C230.2 53 232.4 62.9 233.1 70C233.3 74.5 231.7 76.4 229.5 76.4C227.3 76.4 225.7 74.5 225.9 70C226.6 62.9 228.8 53 229.5 51.8Z" fill="#7030a0" filter="url(#sp2)"/><ellipse cx="241" cy="82.6" rx="2.4" ry="4.4" fill="#d040c0" filter="url(#tr)"/><path d="M241 61.8C241.6 62.7 243.6 69.6 244.2 74.7C244.4 77.8 242.9 79.2 241 79.2C239.1 79.2 237.6 77.8 237.8 74.7C238.4 69.6 240.4 62.7 241 61.8Z" fill="#d040c0" filter="url(#sp2)"/><ellipse cx="293" cy="81.6" rx="3.6" ry="5.4" fill="#c0d880" filter="url(#tr)"/><path d="M293 54.8C294 55.9 296.8 64.9 297.8 71.4C298 75.5 295.9 77.3 293 77.3C290.1 77.3 288 75.5 288.2 71.4C289.2 64.9 292 55.9 293 54.8Z" fill="#c0d880" filter="url(#sp2)"/><ellipse cx="229" cy="83.8" rx="3" ry="5.2" fill="#6030a0" filter="url(#tr)"/><path d="M229 57.8C229.8 58.9 232.2 67.6 233 73.9C233.2 77.8 231.4 79.5 229 79.5C226.6 79.5 224.8 77.8 225 73.9C225.8 67.6 228.2 58.9 229 57.8Z" fill="#6030a0" filter="url(#sp2)"/><ellipse cx="293" cy="83.4" rx="2.4" ry="5.6" fill="#a0a030" filter="url(#tr)"/><path d="M293 54.8C293.6 56 295.6 65.6 296.2 72.5C296.4 76.8 294.9 78.7 293 78.7C291.1 78.7 289.6 76.8 289.8 72.5C290.4 65.6 292.4 56 293 54.8Z" fill="#a0a030" filter="url(#sp2)"/><ellipse cx="264.5" cy="84.1" rx="3" ry="4.9" fill="#d0b080" filter="url(#tr)"/><path d="M264.5 59.8C265.3 60.8 267.7 68.9 268.5 74.8C268.7 78.5 266.9 80.1 264.5 80.1C262.1 80.1 260.3 78.5 260.5 74.8C261.3 68.9 263.7 60.8 264.5 59.8Z" fill="#d0b080" filter="url(#sp2)"/><ellipse cx="276" cy="84.6" rx="2.1" ry="4.4" fill="#204020" filter="url(#tr)"/><path d="M276 63.8C276.6 64.7 278.2 71.6 278.8 76.7C278.9 79.8 277.7 81.2 276 81.2C274.3 81.2 273.1 79.8 273.2 76.7C273.8 71.6 275.4 64.7 276 63.8Z" fill="#204020" filter="url(#sp2)"/><ellipse cx="275" cy="85.8" rx="2.1" ry="5.2" fill="#102010" filter="url(#tr)"/><path d="M275 59.8C275.6 60.9 277.2 69.6 277.8 75.9C277.9 79.8 276.7 81.5 275 81.5C273.3 81.5 272.1 79.8 272.2 75.9C272.8 69.6 274.4 60.9 275 59.8Z" fill="#102010" filter="url(#sp2)"/><ellipse cx="246.5" cy="87.6" rx="2.4" ry="4.4" fill="#e060a0" filter="url(#tr)"/><path d="M246.5 66.8C247.1 67.7 249.1 74.6 249.7 79.7C249.9 82.8 248.4 84.2 246.5 84.2C244.6 84.2 243.1 82.8 243.3 79.7C243.9 74.6 245.9 67.7 246.5 66.8Z" fill="#e060a0" filter="url(#sp2)"/><ellipse cx="269.5" cy="88.1" rx="2.1" ry="4.9" fill="#e0c060" filter="url(#tr)"/><path d="M269.5 63.8C270.1 64.8 271.7 72.9 272.3 78.8C272.4 82.5 271.2 84.1 269.5 84.1C267.8 84.1 266.6 82.5 266.7 78.8C267.3 72.9 268.9 64.8 269.5 63.8Z" fill="#e0c060" filter="url(#sp2)"/><ellipse cx="264" cy="93.5" rx="3" ry="6.5" fill="#204030" filter="url(#tr)"/><path d="M264 59.8C264.8 61.2 267.2 72.5 268 80.7C268.2 85.8 266.4 88 264 88C261.6 88 259.8 85.8 260 80.7C260.8 72.5 263.2 61.2 264 59.8Z" fill="#204030" filter="url(#sp2)"/><ellipse cx="282" cy="95.5" rx="2.7" ry="6.5" fill="#e070a0" filter="url(#tr)"/><path d="M282 61.8C282.7 63.2 284.9 74.5 285.6 82.7C285.8 87.8 284.2 90 282 90C279.8 90 278.2 87.8 278.4 82.7C279.1 74.5 281.3 63.2 282 61.8Z" fill="#e070a0" filter="url(#sp2)"/><ellipse cx="254" cy="97.3" rx="3" ry="7.7" fill="#30e030" filter="url(#tr)"/><path d="M254 55.8C254.8 57.5 257.2 71.4 258 81.5C258.2 87.7 256.4 90.5 254 90.5C251.6 90.5 249.8 87.7 250 81.5C250.8 71.4 253.2 57.5 254 55.8Z" fill="#30e030" filter="url(#sp2)"/></g>
<path d="M199 33.5L199 90L270.2 120L345 91.6M197.4 90L199 90M197.4 75.9L199 75.9M197.4 61.8L199 61.8M197.4 47.6L199 47.6M197.4 33.5L199 33.5M204.3 92.2l-1.4 0.5M217.8 97.9l-1.4 0.5M231.2 103.6l-1.4 0.5M244.6 109.2l-1.4 0.5M257.8 114.8l-1.4 0.5M270.2 120l-1.4 0.5M270.2 120l1.4 0.6M307.6 105.8l1.4 0.6M345 91.6l1.4 0.6" stroke="#8a8a8a" stroke-width="0.55" fill="none"/>
<g class="t"><text x="193" y="96.6">5.07756</text><text x="206.3" y="101.9">5.07754</text><text x="219.5" y="107.2">5.07752</text><text x="234" y="112.5">5.0775</text><text x="249" y="118.6">5.07748</text><text x="259.8" y="123.5">5.07746</text><text x="189" y="109.3">×10<tspan font-size="3" dy="-1.6">6</tspan></text><text class="an" x="225.5" y="123">Y(m)</text><text x="280" y="123.7">6.9435</text><text x="316.5" y="110">6.944</text><text x="356" y="96.1">6.9445</text><text x="352.5" y="110.5">×10<tspan font-size="3" dy="-1.6">7</tspan></text><text class="an" x="314" y="123">X(m)</text></g>
<g class="t z"><text x="196.3" y="90">0</text><text x="196.3" y="75.9">10</text><text x="196.3" y="61.8">20</text><text x="196.3" y="47.6">30</text><text x="196.3" y="33.5">40</text></g>
<g transform="rotate(-90 187 61.5)"><text class="t zn" x="187" y="61.5">Z(m)</text></g>
<text class="cap" x="272" y="140.5">(b)</text>
<path d="M384.8 89.8L456.3 62.3M456.3 62.3L528 92M384.8 75.4L456.3 47.9M456.3 47.9L528 77.6M384.8 61L456.3 33.5M456.3 33.5L528 63.2M384.8 46.6L456.3 19.1M456.3 19.1L528 48.8M384.8 32.2L456.3 4.7M456.3 4.7L528 34.4M458.6 63.3L458.6 5.7M387.1 90.8L458.6 63.3M481 72.5L481 14.9M409.5 100L481 72.5M503.3 81.8L503.3 24.2M431.8 109.3L503.3 81.8M525.7 91L525.7 33.4M454.2 118.5L525.7 91M384.8 89.8L384.8 32.2M384.8 89.8L456.5 119.5M399.1 84.3L399.1 26.7M399.1 84.3L470.8 114M413.4 78.8L413.4 21.2M413.4 78.8L485.1 108.5M427.7 73.3L427.7 15.7M427.7 73.3L499.4 103M442 67.8L442 10.2M442 67.8L513.7 97.5M456.3 62.3L456.3 4.7M456.3 62.3L528 92" stroke="#e4e4e4" stroke-width="0.5" fill="none"/>
<path d="M384.8 32.2L456.3 4.7L528 34.4L528 92M456.3 62.3L456.3 4.7" stroke="#dcdcdc" stroke-width="0.5" fill="none"/>
<g><ellipse cx="425" cy="93" rx="10" ry="4" fill="#c04040" filter="url(#sc)"/><ellipse cx="412" cy="88" rx="6" ry="4" fill="#d03060" filter="url(#sc)"/><ellipse cx="457.6" cy="60.2" rx="2.8" ry="3.5" fill="#40a0e0" filter="url(#tr)"/><path d="M457.6 20.6C458.7 20.6 460.6 37.3 461.3 48C461.5 54.7 459.8 57.6 457.6 57.6C455.3 57.6 453.7 54.7 453.8 48C454.6 37.3 456.5 20.6 457.6 20.6Z" fill="#40a0e0" filter="url(#sp)"/><ellipse cx="446.9" cy="62.4" rx="3.1" ry="3.6" fill="#b060d0" filter="url(#tr)"/><path d="M446.9 22.1C448.1 22.1 450.1 39.1 450.9 50C451.2 56.8 449.3 59.8 446.9 59.8C444.4 59.8 442.6 56.8 442.8 50C443.6 39.1 445.6 22.1 446.9 22.1Z" fill="#b060d0" filter="url(#sp)"/><ellipse cx="461.7" cy="62.6" rx="2.5" ry="3.4" fill="#c8a0f0" filter="url(#tr)"/><path d="M461.7 25.1C462.7 25.1 464.4 40.9 465.1 51.1C465.3 57.4 463.7 60.3 461.7 60.3C459.7 60.3 458.1 57.4 458.3 51.1C459 40.9 460.7 25.1 461.7 25.1Z" fill="#c8a0f0" filter="url(#sp)"/><ellipse cx="456.9" cy="63.4" rx="2.9" ry="3.5" fill="#e0e0a0" filter="url(#tr)"/><path d="M456.9 25C458.1 25 460 41.2 460.7 51.6C460.9 58.1 459.2 61 456.9 61C454.6 61 452.9 58.1 453.1 51.6C453.9 41.2 455.8 25 456.9 25Z" fill="#e0e0a0" filter="url(#sp)"/><ellipse cx="442.7" cy="64" rx="2.8" ry="3.2" fill="#c040c0" filter="url(#tr)"/><path d="M442.7 29.3C443.8 29.3 445.7 43.9 446.5 53.4C446.7 59.2 445 61.8 442.7 61.8C440.5 61.8 438.8 59.2 439 53.4C439.7 43.9 441.6 29.3 442.7 29.3Z" fill="#c040c0" filter="url(#sp)"/><ellipse cx="470.2" cy="65.7" rx="3" ry="3.3" fill="#20c060" filter="url(#tr)"/><path d="M470.2 30.4C471.4 30.4 473.3 45.2 474.1 54.8C474.3 60.8 472.5 63.4 470.2 63.4C467.8 63.4 466 60.8 466.2 54.8C467 45.2 469 30.4 470.2 30.4Z" fill="#20c060" filter="url(#sp)"/><ellipse cx="436.9" cy="66.7" rx="2.4" ry="3.4" fill="#4363d8" filter="url(#tr)"/><path d="M436.9 29C437.9 29 439.5 44.9 440.1 55.1C440.3 61.5 438.9 64.3 436.9 64.3C435 64.3 433.6 61.5 433.7 55.1C434.4 44.9 436 29 436.9 29Z" fill="#4363d8" filter="url(#sp)"/><ellipse cx="450.9" cy="66.8" rx="2.3" ry="4" fill="#2080a0" filter="url(#tr)"/><path d="M450.9 20.5C451.8 20.5 453.4 40 454 52.6C454.2 60.4 452.7 63.9 450.9 63.9C449 63.9 447.6 60.4 447.7 52.6C448.4 40 449.9 20.5 450.9 20.5Z" fill="#2080a0" filter="url(#sp)"/><ellipse cx="460.5" cy="67.9" rx="2.8" ry="4" fill="#b060d0" filter="url(#tr)"/><path d="M460.5 21.3C461.6 21.3 463.5 40.9 464.2 53.6C464.4 61.4 462.7 64.9 460.5 64.9C458.3 64.9 456.6 61.4 456.8 53.6C457.5 40.9 459.4 21.3 460.5 21.3Z" fill="#b060d0" filter="url(#sp)"/><ellipse cx="429.9" cy="68.7" rx="3" ry="3.4" fill="#c8a0f0" filter="url(#tr)"/><path d="M429.9 31.4C431.1 31.4 433.2 47.1 434 57.2C434.2 63.5 432.3 66.3 429.9 66.3C427.5 66.3 425.7 63.5 425.9 57.2C426.7 47.1 428.7 31.4 429.9 31.4Z" fill="#c8a0f0" filter="url(#sp)"/><ellipse cx="477" cy="69.5" rx="2.9" ry="3.1" fill="#60c040" filter="url(#tr)"/><path d="M477 36.4C478.1 36.4 480.1 50.4 480.9 59.4C481.1 64.9 479.3 67.4 477 67.4C474.6 67.4 472.9 64.9 473.1 59.4C473.9 50.4 475.8 36.4 477 36.4Z" fill="#60c040" filter="url(#sp)"/><ellipse cx="470.6" cy="69.8" rx="2.3" ry="3.4" fill="#3cb44b" filter="url(#tr)"/><path d="M470.6 32.8C471.5 32.8 473.1 48.4 473.7 58.4C473.9 64.7 472.5 67.4 470.6 67.4C468.7 67.4 467.3 64.7 467.5 58.4C468.1 48.4 469.7 32.8 470.6 32.8Z" fill="#3cb44b" filter="url(#sp)"/><ellipse cx="440.1" cy="70.1" rx="2.8" ry="3.4" fill="#f58231" filter="url(#tr)"/><path d="M440.1 32.5C441.3 32.5 443.1 48.3 443.9 58.5C444.1 64.9 442.4 67.7 440.1 67.7C437.9 67.7 436.2 64.9 436.4 58.5C437.1 48.3 439 32.5 440.1 32.5Z" fill="#f58231" filter="url(#sp)"/><ellipse cx="485.1" cy="70.5" rx="2.8" ry="3" fill="#d0d060" filter="url(#tr)"/><path d="M485.1 38.4C486.2 38.4 488 51.9 488.8 60.6C489 66 487.3 68.4 485.1 68.4C482.8 68.4 481.2 66 481.4 60.6C482.1 51.9 484 38.4 485.1 38.4Z" fill="#d0d060" filter="url(#sp)"/><ellipse cx="424" cy="70.7" rx="2.4" ry="3.3" fill="#d04040" filter="url(#tr)"/><path d="M424 34.5C425 34.5 426.6 49.7 427.3 59.6C427.4 65.7 426 68.4 424 68.4C422.1 68.4 420.6 65.7 420.8 59.6C421.4 49.7 423.1 34.5 424 34.5Z" fill="#d04040" filter="url(#sp)"/><ellipse cx="456.5" cy="70.6" rx="2.5" ry="4" fill="#d04040" filter="url(#tr)"/><path d="M456.5 23.1C457.5 23.1 459.1 43.1 459.8 56C460 64 458.5 67.5 456.5 67.5C454.4 67.5 452.9 64 453.1 56C453.8 43.1 455.4 23.1 456.5 23.1Z" fill="#d04040" filter="url(#sp)"/><ellipse cx="464.1" cy="71.1" rx="3" ry="4.2" fill="#9a6324" filter="url(#tr)"/><path d="M464.1 21.5C465.3 21.5 467.3 42.4 468 55.8C468.2 64.2 466.5 67.9 464.1 67.9C461.7 67.9 459.9 64.2 460.1 55.8C460.9 42.4 462.9 21.5 464.1 21.5Z" fill="#9a6324" filter="url(#sp)"/><ellipse cx="439.2" cy="71.7" rx="2.6" ry="3.9" fill="#911eb4" filter="url(#tr)"/><path d="M439.2 26.8C440.3 26.8 442 45.7 442.7 57.9C442.9 65.4 441.3 68.8 439.2 68.8C437.1 68.8 435.6 65.4 435.7 57.9C436.4 45.7 438.2 26.8 439.2 26.8Z" fill="#911eb4" filter="url(#sp)"/><ellipse cx="449" cy="71.1" rx="2.6" ry="4.5" fill="#b0b0e0" filter="url(#tr)"/><path d="M449 17C450 17 451.7 39.8 452.4 54.5C452.6 63.6 451 67.7 449 67.7C446.9 67.7 445.4 63.6 445.6 54.5C446.3 39.8 448 17 449 17Z" fill="#b0b0e0" filter="url(#sp)"/><ellipse cx="476.8" cy="72.8" rx="2.7" ry="3.4" fill="#40e0c0" filter="url(#tr)"/><path d="M476.8 35.3C477.9 35.3 479.7 51.1 480.5 61.3C480.7 67.6 479 70.4 476.8 70.4C474.7 70.4 473 67.6 473.2 61.3C473.9 51.1 475.7 35.3 476.8 35.3Z" fill="#40e0c0" filter="url(#sp)"/><ellipse cx="487" cy="73.5" rx="2.4" ry="3.4" fill="#808080" filter="url(#tr)"/><path d="M487 35.2C487.9 35.2 489.5 51.3 490.1 61.7C490.3 68.1 488.9 71 487 71C485.1 71 483.7 68.1 483.8 61.7C484.5 51.3 486 35.2 487 35.2Z" fill="#808080" filter="url(#sp)"/><ellipse cx="416.3" cy="74.5" rx="2.7" ry="3.5" fill="#f032e6" filter="url(#tr)"/><path d="M416.3 35.5C417.4 35.5 419.2 52 419.9 62.6C420.1 69.1 418.5 72.1 416.3 72.1C414.1 72.1 412.4 69.1 412.6 62.6C413.3 52 415.2 35.5 416.3 35.5Z" fill="#f032e6" filter="url(#sp)"/><ellipse cx="428.7" cy="74.9" rx="2.5" ry="3.4" fill="#40a0e0" filter="url(#tr)"/><path d="M428.7 37C429.7 37 431.4 52.9 432 63.2C432.2 69.6 430.7 72.5 428.7 72.5C426.7 72.5 425.3 69.6 425.4 63.2C426.1 52.9 427.7 37 428.7 37Z" fill="#40a0e0" filter="url(#sp)"/><ellipse cx="443.2" cy="75" rx="2.7" ry="4.2" fill="#f58231" filter="url(#tr)"/><path d="M443.2 25.5C444.2 25.5 446 46.3 446.7 59.7C446.9 68.1 445.3 71.8 443.2 71.8C441 71.8 439.4 68.1 439.6 59.7C440.3 46.3 442.1 25.5 443.2 25.5Z" fill="#f58231" filter="url(#sp)"/><ellipse cx="468.1" cy="75.1" rx="2.3" ry="4.2" fill="#d04040" filter="url(#tr)"/><path d="M468.1 24.4C469 24.4 470.5 45.8 471.1 59.5C471.3 68.1 469.9 71.8 468.1 71.8C466.2 71.8 464.8 68.1 465 59.5C465.6 45.8 467.1 24.4 468.1 24.4Z" fill="#d04040" filter="url(#sp)"/><ellipse cx="479.2" cy="76.1" rx="2.3" ry="3.4" fill="#20c060" filter="url(#tr)"/><path d="M479.2 37.8C480.1 37.8 481.6 53.9 482.3 64.3C482.4 70.8 481 73.6 479.2 73.6C477.3 73.6 475.9 70.8 476.1 64.3C476.7 53.9 478.2 37.8 479.2 37.8Z" fill="#20c060" filter="url(#sp)"/><ellipse cx="491.9" cy="76.8" rx="2.8" ry="3" fill="#d0d060" filter="url(#tr)"/><path d="M491.9 46.1C493 46.1 494.9 59.1 495.6 67.4C495.8 72.6 494.1 74.9 491.9 74.9C489.7 74.9 488 72.6 488.2 67.4C488.9 59.1 490.8 46.1 491.9 46.1Z" fill="#d0d060" filter="url(#sp)"/><ellipse cx="457" cy="75.8" rx="2.3" ry="4.1" fill="#e6194b" filter="url(#tr)"/><path d="M457 26.8C457.9 26.8 459.5 47.5 460.1 60.8C460.2 69 458.8 72.7 457 72.7C455.1 72.7 453.7 69 453.9 60.8C454.5 47.5 456.1 26.8 457 26.8Z" fill="#e6194b" filter="url(#sp)"/><ellipse cx="414.1" cy="76.7" rx="2.4" ry="3.4" fill="#f0a0b0" filter="url(#tr)"/><path d="M414.1 38.4C415 38.4 416.6 54.5 417.2 64.9C417.4 71.4 416 74.2 414.1 74.2C412.2 74.2 410.7 71.4 410.9 64.9C411.5 54.5 413.1 38.4 414.1 38.4Z" fill="#f0a0b0" filter="url(#sp)"/><ellipse cx="464.7" cy="76" rx="2.9" ry="4.4" fill="#5080d0" filter="url(#tr)"/><path d="M464.7 22.9C465.9 22.9 467.9 45.3 468.6 59.7C468.8 68.7 467.1 72.6 464.7 72.6C462.4 72.6 460.6 68.7 460.8 59.7C461.6 45.3 463.6 22.9 464.7 22.9Z" fill="#5080d0" filter="url(#sp)"/><ellipse cx="423.9" cy="76.9" rx="2.9" ry="3.6" fill="#911eb4" filter="url(#tr)"/><path d="M423.9 36.3C425.1 36.3 427 53.4 427.8 64.4C428 71.3 426.2 74.3 423.9 74.3C421.5 74.3 419.8 71.3 420 64.4C420.8 53.4 422.7 36.3 423.9 36.3Z" fill="#911eb4" filter="url(#sp)"/><ellipse cx="436.7" cy="77" rx="3" ry="4" fill="#46d0e0" filter="url(#tr)"/><path d="M436.7 30.7C437.9 30.7 439.9 50.2 440.7 62.8C440.9 70.6 439.1 74 436.7 74C434.4 74 432.6 70.6 432.8 62.8C433.6 50.2 435.6 30.7 436.7 30.7Z" fill="#46d0e0" filter="url(#sp)"/><ellipse cx="449.1" cy="77.7" rx="2.6" ry="4" fill="#008080" filter="url(#tr)"/><path d="M449.1 30.3C450.1 30.3 451.8 50.3 452.5 63.2C452.7 71.1 451.1 74.7 449.1 74.7C447 74.7 445.5 71.1 445.6 63.2C446.3 50.3 448 30.3 449.1 30.3Z" fill="#008080" filter="url(#sp)"/><ellipse cx="478.8" cy="78.3" rx="2.7" ry="4" fill="#911eb4" filter="url(#tr)"/><path d="M478.8 32C479.9 32 481.6 51.5 482.4 64.1C482.5 71.9 480.9 75.4 478.8 75.4C476.7 75.4 475.1 71.9 475.3 64.1C476 51.5 477.7 32 478.8 32Z" fill="#911eb4" filter="url(#sp)"/><ellipse cx="498.3" cy="79.1" rx="2.9" ry="3.3" fill="#e07050" filter="url(#tr)"/><path d="M498.3 43.8C499.5 43.8 501.5 58.6 502.2 68.2C502.4 74.2 500.7 76.8 498.3 76.8C496 76.8 494.2 74.2 494.4 68.2C495.2 58.6 497.1 43.8 498.3 43.8Z" fill="#e07050" filter="url(#sp)"/><ellipse cx="486.6" cy="78.9" rx="2.5" ry="3.4" fill="#f0c8a0" filter="url(#tr)"/><path d="M486.6 41.7C487.6 41.7 489.3 57.4 489.9 67.5C490.1 73.8 488.6 76.6 486.6 76.6C484.7 76.6 483.2 73.8 483.3 67.5C484 57.4 485.6 41.7 486.6 41.7Z" fill="#f0c8a0" filter="url(#sp)"/><ellipse cx="447.8" cy="78.7" rx="2.9" ry="4.7" fill="#d04040" filter="url(#tr)"/><path d="M447.8 20C449 20 450.9 44.7 451.7 60.6C451.9 70.5 450.1 74.9 447.8 74.9C445.5 74.9 443.8 70.5 444 60.6C444.7 44.7 446.7 20 447.8 20Z" fill="#d04040" filter="url(#sp)"/><ellipse cx="418.5" cy="79.3" rx="3.1" ry="4.2" fill="#f0c8a0" filter="url(#tr)"/><path d="M418.5 29.7C419.7 29.7 421.7 50.6 422.6 64.1C422.8 72.4 420.9 76.1 418.5 76.1C416 76.1 414.2 72.4 414.4 64.1C415.2 50.6 417.2 29.7 418.5 29.7Z" fill="#f0c8a0" filter="url(#sp)"/><ellipse cx="484.2" cy="79.8" rx="2.9" ry="3.9" fill="#40a0e0" filter="url(#tr)"/><path d="M484.2 34.6C485.4 34.6 487.3 53.7 488.1 66C488.3 73.6 486.5 77 484.2 77C481.8 77 480.1 73.6 480.3 66C481 53.7 483 34.6 484.2 34.6Z" fill="#40a0e0" filter="url(#sp)"/><ellipse cx="433.3" cy="79.9" rx="3" ry="3.9" fill="#20c060" filter="url(#tr)"/><path d="M433.3 33.9C434.5 33.9 436.5 53.3 437.3 65.8C437.5 73.5 435.7 77 433.3 77C430.9 77 429.1 73.5 429.3 65.8C430.1 53.3 432.1 33.9 433.3 33.9Z" fill="#20c060" filter="url(#sp)"/><ellipse cx="496.5" cy="80.8" rx="2.7" ry="3.3" fill="#3cb44b" filter="url(#tr)"/><path d="M496.5 44.5C497.6 44.5 499.4 59.8 500.1 69.6C500.3 75.7 498.7 78.5 496.5 78.5C494.4 78.5 492.8 75.7 493 69.6C493.7 59.8 495.5 44.5 496.5 44.5Z" fill="#3cb44b" filter="url(#sp)"/><ellipse cx="471.7" cy="80.5" rx="2.8" ry="4.4" fill="#c02080" filter="url(#tr)"/><path d="M471.7 27.6C472.9 27.6 474.8 49.9 475.5 64.2C475.7 73.1 474 77.1 471.7 77.1C469.5 77.1 467.8 73.1 468 64.2C468.7 49.9 470.6 27.6 471.7 27.6Z" fill="#c02080" filter="url(#sp)"/><ellipse cx="458.3" cy="80.7" rx="2.7" ry="4.4" fill="#e6194b" filter="url(#tr)"/><path d="M458.3 27C459.4 27 461.2 49.7 462 64.2C462.1 73.3 460.5 77.3 458.3 77.3C456.2 77.3 454.5 73.3 454.7 64.2C455.4 49.7 457.3 27 458.3 27Z" fill="#e6194b" filter="url(#sp)"/><ellipse cx="423.1" cy="81.1" rx="3.1" ry="4.3" fill="#c02080" filter="url(#tr)"/><path d="M423.1 29.5C424.3 29.5 426.4 51.2 427.2 65.3C427.4 74 425.5 77.8 423.1 77.8C420.6 77.8 418.8 74 419 65.3C419.8 51.2 421.9 29.5 423.1 29.5Z" fill="#c02080" filter="url(#sp)"/><ellipse cx="434.7" cy="81.2" rx="2.9" ry="4.3" fill="#b0b0e0" filter="url(#tr)"/><path d="M434.7 29.4C435.8 29.4 437.8 51.2 438.6 65.3C438.8 74 437 77.9 434.7 77.9C432.3 77.9 430.6 74 430.8 65.3C431.5 51.2 433.5 29.4 434.7 29.4Z" fill="#b0b0e0" filter="url(#sp)"/><ellipse cx="462.8" cy="82" rx="3.1" ry="4.4" fill="#911eb4" filter="url(#tr)"/><path d="M462.8 29C464 29 466.1 51.3 466.9 65.7C467.1 74.7 465.3 78.6 462.8 78.6C460.4 78.6 458.5 74.7 458.7 65.7C459.5 51.3 461.6 29 462.8 29Z" fill="#911eb4" filter="url(#sp)"/><ellipse cx="491" cy="83.2" rx="2.4" ry="3.6" fill="#b0b0e0" filter="url(#tr)"/><path d="M491 42.5C491.9 42.5 493.5 59.7 494.2 70.7C494.3 77.5 492.9 80.6 491 80.6C489.1 80.6 487.6 77.5 487.8 70.7C488.4 59.7 490 42.5 491 42.5Z" fill="#b0b0e0" filter="url(#sp)"/><ellipse cx="499.6" cy="83.4" rx="2.5" ry="3.5" fill="#808080" filter="url(#tr)"/><path d="M499.6 43.8C500.6 43.8 502.3 60.5 502.9 71.2C503.1 77.9 501.6 80.9 499.6 80.9C497.6 80.9 496.2 77.9 496.3 71.2C497 60.5 498.6 43.8 499.6 43.8Z" fill="#808080" filter="url(#sp)"/><ellipse cx="476" cy="83" rx="2.3" ry="4.4" fill="#f0a0b0" filter="url(#tr)"/><path d="M476 30.1C476.9 30.1 478.5 52.4 479.1 66.8C479.2 75.7 477.8 79.7 476 79.7C474.2 79.7 472.9 75.7 473 66.8C473.6 52.4 475.1 30.1 476 30.1Z" fill="#f0a0b0" filter="url(#sp)"/><ellipse cx="451.6" cy="83.2" rx="2.3" ry="4.3" fill="#808080" filter="url(#tr)"/><path d="M451.6 31.8C452.5 31.8 454.1 53.4 454.7 67.4C454.8 76.1 453.5 79.9 451.6 79.9C449.8 79.9 448.4 76.1 448.5 67.4C449.2 53.4 450.7 31.8 451.6 31.8Z" fill="#808080" filter="url(#sp)"/><ellipse cx="483.6" cy="84.4" rx="2.3" ry="4.3" fill="#40e0c0" filter="url(#tr)"/><path d="M483.6 32.9C484.5 32.9 486 54.6 486.6 68.6C486.8 77.2 485.4 81.1 483.6 81.1C481.7 81.1 480.4 77.2 480.5 68.6C481.1 54.6 482.6 32.9 483.6 32.9Z" fill="#40e0c0" filter="url(#sp)"/><ellipse cx="495.4" cy="85.3" rx="3.1" ry="3.4" fill="#e8d820" filter="url(#tr)"/><path d="M495.4 48.2C496.6 48.2 498.7 63.9 499.5 73.9C499.7 80.2 497.9 82.9 495.4 82.9C492.9 82.9 491.1 80.2 491.3 73.9C492.1 63.9 494.2 48.2 495.4 48.2Z" fill="#e8d820" filter="url(#sp)"/><ellipse cx="460.5" cy="84.4" rx="3.1" ry="4.9" fill="#b060d0" filter="url(#tr)"/><path d="M460.5 23.6C461.7 23.6 463.7 49.2 464.5 65.7C464.7 76 462.9 80.5 460.5 80.5C458 80.5 456.2 76 456.4 65.7C457.2 49.2 459.2 23.6 460.5 23.6Z" fill="#b060d0" filter="url(#sp)"/><ellipse cx="443" cy="84.6" rx="2.5" ry="4.7" fill="#808080" filter="url(#tr)"/><path d="M443 26C444 26 445.6 50.7 446.3 66.6C446.5 76.5 445 80.9 443 80.9C441 80.9 439.5 76.5 439.7 66.6C440.3 50.7 442 26 443 26Z" fill="#808080" filter="url(#sp)"/><ellipse cx="431" cy="85.3" rx="2.7" ry="4.2" fill="#5080d0" filter="url(#tr)"/><path d="M431 35.8C432.1 35.8 433.8 56.7 434.5 70.1C434.7 78.4 433.1 82.1 431 82.1C428.9 82.1 427.3 78.4 427.4 70.1C428.2 56.7 429.9 35.8 431 35.8Z" fill="#5080d0" filter="url(#sp)"/><ellipse cx="471.6" cy="85.5" rx="3" ry="4.5" fill="#2080a0" filter="url(#tr)"/><path d="M471.6 31C472.8 31 474.8 54 475.6 68.7C475.8 77.9 474 82 471.6 82C469.1 82 467.3 77.9 467.5 68.7C468.3 54 470.3 31 471.6 31Z" fill="#2080a0" filter="url(#sp)"/><ellipse cx="474.5" cy="86.9" rx="2.8" ry="4.8" fill="#008080" filter="url(#tr)"/><path d="M474.5 27.1C475.6 27.1 477.4 52.3 478.1 68.5C478.3 78.6 476.7 83 474.5 83C472.2 83 470.6 78.6 470.8 68.5C471.5 52.3 473.3 27.1 474.5 27.1Z" fill="#008080" filter="url(#sp)"/><ellipse cx="447.6" cy="87.1" rx="2.8" ry="4.7" fill="#911eb4" filter="url(#tr)"/><path d="M447.6 29.5C448.7 29.5 450.6 53.8 451.3 69.4C451.5 79.1 449.9 83.5 447.6 83.5C445.4 83.5 443.8 79.1 443.9 69.4C444.7 53.8 446.5 29.5 447.6 29.5Z" fill="#911eb4" filter="url(#sp)"/><ellipse cx="436.7" cy="87.4" rx="2.9" ry="4.5" fill="#3cb44b" filter="url(#tr)"/><path d="M436.7 32.8C437.9 32.8 439.8 55.8 440.6 70.6C440.8 79.9 439.1 83.9 436.7 83.9C434.4 83.9 432.6 79.9 432.8 70.6C433.6 55.8 435.5 32.8 436.7 32.8Z" fill="#3cb44b" filter="url(#sp)"/><ellipse cx="462.7" cy="88" rx="2.3" ry="4.2" fill="#70b0d0" filter="url(#tr)"/><path d="M462.7 37.9C463.6 37.9 465.2 59 465.8 72.6C466 81.1 464.6 84.8 462.7 84.8C460.9 84.8 459.5 81.1 459.6 72.6C460.3 59 461.8 37.9 462.7 37.9Z" fill="#70b0d0" filter="url(#sp)"/><ellipse cx="443.3" cy="88.5" rx="3.1" ry="4.3" fill="#2080a0" filter="url(#tr)"/><path d="M443.3 37.3C444.6 37.3 446.6 58.9 447.4 72.8C447.6 81.4 445.8 85.3 443.3 85.3C440.9 85.3 439 81.4 439.2 72.8C440 58.9 442.1 37.3 443.3 37.3Z" fill="#2080a0" filter="url(#sp)"/><ellipse cx="483.2" cy="88.6" rx="2.4" ry="4.5" fill="#80e0a0" filter="url(#tr)"/><path d="M483.2 33.8C484.2 33.8 485.8 56.9 486.4 71.8C486.6 81 485.2 85.1 483.2 85.1C481.3 85.1 479.9 81 480 71.8C480.7 56.9 482.3 33.8 483.2 33.8Z" fill="#80e0a0" filter="url(#sp)"/><ellipse cx="488.8" cy="89.1" rx="3.1" ry="4" fill="#2080a0" filter="url(#tr)"/><path d="M488.8 42.4C490 42.4 492.1 62.1 492.9 74.8C493.1 82.7 491.3 86.2 488.8 86.2C486.4 86.2 484.5 82.7 484.7 74.8C485.6 62.1 487.6 42.4 488.8 42.4Z" fill="#2080a0" filter="url(#sp)"/><ellipse cx="502" cy="89.4" rx="3" ry="3.7" fill="#e8d820" filter="url(#tr)"/><path d="M502 46.7C503.1 46.7 505.1 64.7 505.9 76.3C506.1 83.5 504.3 86.7 502 86.7C499.6 86.7 497.8 83.5 498 76.3C498.8 64.7 500.8 46.7 502 46.7Z" fill="#e8d820" filter="url(#sp)"/><ellipse cx="453.9" cy="89.9" rx="2.9" ry="4" fill="#f0c8a0" filter="url(#tr)"/><path d="M453.9 42.6C455 42.6 456.9 62.5 457.7 75.4C457.9 83.4 456.2 86.9 453.9 86.9C451.6 86.9 449.9 83.4 450.1 75.4C450.8 62.5 452.7 42.6 453.9 42.6Z" fill="#f0c8a0" filter="url(#sp)"/><ellipse cx="471" cy="91.1" rx="2.6" ry="4.4" fill="#6040c0" filter="url(#tr)"/><path d="M471 37.6C472.1 37.6 473.8 60.1 474.5 74.7C474.7 83.7 473.1 87.7 471 87.7C468.9 87.7 467.3 83.7 467.5 74.7C468.2 60.1 470 37.6 471 37.6Z" fill="#6040c0" filter="url(#sp)"/><ellipse cx="495" cy="92.1" rx="2.8" ry="3.7" fill="#5080d0" filter="url(#tr)"/><path d="M495 50C496.1 50 497.9 67.7 498.7 79.2C498.9 86.3 497.2 89.4 495 89.4C492.7 89.4 491.1 86.3 491.2 79.2C492 67.7 493.8 50 495 50Z" fill="#5080d0" filter="url(#sp)"/><ellipse cx="464.9" cy="91" rx="2.6" ry="5.1" fill="#e0a030" filter="url(#tr)"/><path d="M464.9 26.8C465.9 26.8 467.6 53.9 468.3 71.3C468.5 82.1 466.9 86.9 464.9 86.9C462.8 86.9 461.3 82.1 461.4 71.3C462.1 53.9 463.8 26.8 464.9 26.8Z" fill="#e0a030" filter="url(#sp)"/><ellipse cx="503.1" cy="93" rx="3" ry="3.9" fill="#80e0a0" filter="url(#tr)"/><path d="M503.1 47C504.2 47 506.2 66.4 507 78.9C507.2 86.7 505.4 90.1 503.1 90.1C500.7 90.1 498.9 86.7 499.1 78.9C499.9 66.4 501.9 47 503.1 47Z" fill="#80e0a0" filter="url(#sp)"/><ellipse cx="489.9" cy="92.6" rx="2.7" ry="4.4" fill="#40e0c0" filter="url(#tr)"/><path d="M489.9 39.2C491 39.2 492.8 61.7 493.5 76.2C493.7 85.2 492.1 89.2 489.9 89.2C487.8 89.2 486.2 85.2 486.4 76.2C487.1 61.7 488.9 39.2 489.9 39.2Z" fill="#40e0c0" filter="url(#sp)"/><ellipse cx="451" cy="43.2" rx="3.3" ry="2.8" fill="#2028a0" filter="url(#tr)"/><path d="M451 15C452.3 15 454.5 26.9 455.4 34.5C455.6 39.3 453.6 41.4 451 41.4C448.4 41.4 446.4 39.3 446.6 34.5C447.5 26.9 449.7 15 451 15Z" fill="#2028a0" filter="url(#sp)"/><ellipse cx="458.5" cy="52.9" rx="3" ry="3.1" fill="#70c060" filter="url(#tr)"/><path d="M458.5 19.5C459.7 19.5 461.7 33.6 462.5 42.6C462.7 48.2 460.9 50.7 458.5 50.7C456.1 50.7 454.3 48.2 454.5 42.6C455.3 33.6 457.3 19.5 458.5 19.5Z" fill="#70c060" filter="url(#sp)"/><ellipse cx="463.5" cy="53" rx="3" ry="3" fill="#a0d040" filter="url(#tr)"/><path d="M463.5 21C464.7 21 466.7 34.5 467.5 43.1C467.7 48.5 465.9 50.9 463.5 50.9C461.1 50.9 459.3 48.5 459.5 43.1C460.3 34.5 462.3 21 463.5 21Z" fill="#a0d040" filter="url(#sp)"/><ellipse cx="420.3" cy="58" rx="3.4" ry="3" fill="#40d040" filter="url(#tr)"/><path d="M420.3 27C421.7 27 424 40.1 424.9 48.5C425.1 53.7 423.1 56 420.3 56C417.5 56 415.5 53.7 415.7 48.5C416.6 40.1 418.9 27 420.3 27Z" fill="#40d040" filter="url(#sp)"/><ellipse cx="475" cy="58" rx="2.6" ry="3" fill="#40d0e0" filter="url(#tr)"/><path d="M475 27C476 27 477.8 40.1 478.4 48.5C478.6 53.7 477.1 56 475 56C472.9 56 471.4 53.7 471.6 48.5C472.2 40.1 474 27 475 27Z" fill="#40d0e0" filter="url(#sp)"/><ellipse cx="435.5" cy="60.7" rx="2.2" ry="2.3" fill="#30c8e8" filter="url(#tr)"/><path d="M435.5 40C436.4 40 437.8 48.7 438.4 54.3C438.5 57.8 437.2 59.4 435.5 59.4C433.8 59.4 432.5 57.8 432.6 54.3C433.2 48.7 434.6 40 435.5 40Z" fill="#30c8e8" filter="url(#sp)"/><ellipse cx="419.7" cy="63.1" rx="3.4" ry="2.9" fill="#e06080" filter="url(#tr)"/><path d="M419.7 33.6C421.1 33.6 423.4 46 424.3 54C424.5 59 422.5 61.2 419.7 61.2C416.9 61.2 414.9 59 415.1 54C416 46 418.3 33.6 419.7 33.6Z" fill="#e06080" filter="url(#sp)"/><ellipse cx="469" cy="62.6" rx="3.4" ry="3.4" fill="#8060d0" filter="url(#tr)"/><path d="M469 25.4C470.4 25.4 472.7 41.1 473.6 51.2C473.8 57.5 471.8 60.2 469 60.2C466.2 60.2 464.2 57.5 464.4 51.2C465.3 41.1 467.6 25.4 469 25.4Z" fill="#8060d0" filter="url(#sp)"/><ellipse cx="441.5" cy="67.3" rx="3.4" ry="3.7" fill="#f0a0c0" filter="url(#tr)"/><path d="M441.5 24.3C442.9 24.3 445.2 42.4 446.1 54.1C446.3 61.3 444.3 64.5 441.5 64.5C438.7 64.5 436.7 61.3 436.9 54.1C437.8 42.4 440.1 24.3 441.5 24.3Z" fill="#f0a0c0" filter="url(#sp)"/><ellipse cx="487" cy="67.9" rx="3" ry="3.1" fill="#60d080" filter="url(#tr)"/><path d="M487 34.4C488.2 34.4 490.2 48.5 491 57.6C491.2 63.2 489.4 65.7 487 65.7C484.6 65.7 482.8 63.2 483 57.6C483.8 48.5 485.8 34.4 487 34.4Z" fill="#60d080" filter="url(#sp)"/><ellipse cx="494.3" cy="73.2" rx="2.6" ry="2.8" fill="#3050d0" filter="url(#tr)"/><path d="M494.3 44.9C495.3 44.9 497.1 56.8 497.8 64.5C497.9 69.3 496.4 71.4 494.3 71.4C492.2 71.4 490.7 69.3 490.9 64.5C491.5 56.8 493.3 44.9 494.3 44.9Z" fill="#3050d0" filter="url(#sp)"/><ellipse cx="455" cy="75.2" rx="3.9" ry="3.8" fill="#30b0a0" filter="url(#tr)"/><path d="M455 32C456.6 32 459.1 50.2 460.2 62C460.4 69.2 458.1 72.5 455 72.5C451.9 72.5 449.6 69.2 449.8 62C450.9 50.2 453.4 32 455 32Z" fill="#30b0a0" filter="url(#sp)"/><ellipse cx="409.6" cy="77.2" rx="3" ry="3.8" fill="#1a3a20" filter="url(#tr)"/><path d="M409.6 33.6C410.8 33.6 412.8 52 413.6 63.8C413.8 71.2 412 74.4 409.6 74.4C407.2 74.4 405.4 71.2 405.6 63.8C406.4 52 408.4 33.6 409.6 33.6Z" fill="#1a3a20" filter="url(#sp)"/><ellipse cx="477.5" cy="79" rx="3.9" ry="4" fill="#106080" filter="url(#tr)"/><path d="M477.5 31.4C479.1 31.4 481.6 51.4 482.7 64.4C482.9 72.4 480.6 75.9 477.5 75.9C474.4 75.9 472.1 72.4 472.3 64.4C473.4 51.4 475.9 31.4 477.5 31.4Z" fill="#106080" filter="url(#sp)"/><ellipse cx="444.5" cy="85.1" rx="5.2" ry="3.9" fill="#c8d850" filter="url(#tr)"/><path d="M444.5 40.3C446.6 40.3 450 59.2 451.4 71.4C451.7 78.9 448.6 82.3 444.5 82.3C440.4 82.3 437.3 78.9 437.6 71.4C439 59.2 442.4 40.3 444.5 40.3Z" fill="#c8d850" filter="url(#sp)"/><ellipse cx="502" cy="85.3" rx="3.4" ry="3.7" fill="#e06020" filter="url(#tr)"/><path d="M502 43.4C503.4 43.4 505.7 61.1 506.6 72.4C506.8 79.5 504.8 82.6 502 82.6C499.2 82.6 497.2 79.5 497.4 72.4C498.3 61.1 500.6 43.4 502 43.4Z" fill="#e06020" filter="url(#sp)"/><ellipse cx="415.7" cy="85.9" rx="4.3" ry="4.1" fill="#d03060" filter="url(#tr)"/><path d="M415.7 37.6C417.4 37.6 420.3 58 421.4 71.1C421.7 79.2 419.1 82.8 415.7 82.8C412.2 82.8 409.7 79.2 409.9 71.1C411.1 58 414 37.6 415.7 37.6Z" fill="#d03060" filter="url(#sp)"/><ellipse cx="430.5" cy="85.7" rx="3.9" ry="4.3" fill="#c880f0" filter="url(#tr)"/><path d="M430.5 33.6C432.1 33.6 434.6 55.5 435.7 69.7C435.9 78.5 433.6 82.4 430.5 82.4C427.4 82.4 425.1 78.5 425.3 69.7C426.4 55.5 428.9 33.6 430.5 33.6Z" fill="#c880f0" filter="url(#sp)"/><ellipse cx="487" cy="87.9" rx="5.2" ry="4.1" fill="#f02090" filter="url(#tr)"/><path d="M487 38.9C489.1 38.9 492.5 59.5 493.9 72.8C494.2 81.1 491.1 84.7 487 84.7C482.9 84.7 479.8 81.1 480.1 72.8C481.5 59.5 484.9 38.9 487 38.9Z" fill="#f02090" filter="url(#sp)"/><ellipse cx="448" cy="89.3" rx="2.6" ry="2.7" fill="#70e0b0" filter="url(#tr)"/><path d="M448 62.8C449 62.8 450.8 74 451.4 81.2C451.6 85.6 450.1 87.6 448 87.6C445.9 87.6 444.4 85.6 444.6 81.2C445.2 74 447 62.8 448 62.8Z" fill="#70e0b0" filter="url(#sp)"/><ellipse cx="439" cy="90.2" rx="3.4" ry="2.8" fill="#e0a840" filter="url(#tr)"/><path d="M439 61.5C440.4 61.5 442.7 73.6 443.6 81.4C443.8 86.2 441.8 88.3 439 88.3C436.2 88.3 434.2 86.2 434.4 81.4C435.3 73.6 437.6 61.5 439 61.5Z" fill="#e0a840" filter="url(#sp)"/><ellipse cx="432.5" cy="92.2" rx="1.6" ry="1.8" fill="#304050" filter="url(#tr)"/><path d="M432.5 79C433.1 79 434.2 84.5 434.6 88.1C434.7 90.3 433.7 91.3 432.5 91.3C431.3 91.3 430.3 90.3 430.4 88.1C430.8 84.5 431.9 79 432.5 79Z" fill="#304050" filter="url(#sp)"/><ellipse cx="418" cy="91.1" rx="3" ry="3.9" fill="#a0e0a0" filter="url(#tr)"/><path d="M418 45.6C419.2 45.6 421.2 64.8 422 77.1C422.2 84.8 420.4 88.2 418 88.2C415.6 88.2 413.8 84.8 414 77.1C414.8 64.8 416.8 45.6 418 45.6Z" fill="#a0e0a0" filter="url(#sp)"/><ellipse cx="467.4" cy="90.7" rx="5.2" ry="4.3" fill="#e8c0a0" filter="url(#tr)"/><path d="M467.4 38.9C469.5 38.9 472.9 60.7 474.3 74.8C474.6 83.5 471.5 87.4 467.4 87.4C463.3 87.4 460.2 83.5 460.5 74.8C461.9 60.7 465.3 38.9 467.4 38.9Z" fill="#e8c0a0" filter="url(#sp)"/><ellipse cx="456.8" cy="92.1" rx="3.6" ry="2.9" fill="#9080a0" filter="url(#tr)"/><path d="M456.8 63C458.2 63 460.7 75.3 461.6 83.2C461.9 88.1 459.7 90.3 456.8 90.3C453.9 90.3 451.7 88.1 452 83.2C452.9 75.3 455.4 63 456.8 63Z" fill="#9080a0" filter="url(#sp)"/><ellipse cx="496" cy="91.2" rx="3.4" ry="3.8" fill="#50a060" filter="url(#tr)"/><path d="M496 48C497.4 48 499.7 66.2 500.6 78C500.8 85.2 498.8 88.5 496 88.5C493.2 88.5 491.2 85.2 491.4 78C492.3 66.2 494.6 48 496 48Z" fill="#50a060" filter="url(#sp)"/><ellipse cx="463.2" cy="93.8" rx="1.6" ry="1.8" fill="#202050" filter="url(#tr)"/><path d="M463.2 81C463.8 81 464.9 86.4 465.3 89.9C465.4 92 464.4 93 463.2 93C462 93 461 92 461.1 89.9C461.5 86.4 462.6 81 463.2 81Z" fill="#202050" filter="url(#sp)"/><ellipse cx="460" cy="91.4" rx="3.4" ry="4.6" fill="#d0a0f0" filter="url(#tr)"/><path d="M460 35C461.4 35 463.7 58.8 464.6 74.1C464.8 83.6 462.8 87.8 460 87.8C457.2 87.8 455.2 83.6 455.4 74.1C456.3 58.8 458.6 35 460 35Z" fill="#d0a0f0" filter="url(#sp)"/><ellipse cx="447" cy="93.4" rx="4.7" ry="3" fill="#50e098" filter="url(#tr)"/><path d="M447 62C448.9 62 452.1 75.2 453.3 83.8C453.6 89 450.8 91.4 447 91.4C443.2 91.4 440.4 89 440.7 83.8C441.9 75.2 445.1 62 447 62Z" fill="#50e098" filter="url(#sp)"/><ellipse cx="507.8" cy="93.9" rx="3.3" ry="3.8" fill="#307040" filter="url(#tr)"/><path d="M507.8 49.3C509.1 49.3 511.3 68.1 512.2 80.2C512.4 87.7 510.4 91 507.8 91C505.2 91 503.2 87.7 503.4 80.2C504.3 68.1 506.5 49.3 507.8 49.3Z" fill="#307040" filter="url(#sp)"/><ellipse cx="424.5" cy="93.6" rx="4.7" ry="4.4" fill="#c04038" filter="url(#tr)"/><path d="M424.5 40C426.4 40 429.6 62.6 430.8 77.1C431.1 86.1 428.3 90.2 424.5 90.2C420.7 90.2 417.9 86.1 418.2 77.1C419.4 62.6 422.6 40 424.5 40Z" fill="#c04038" filter="url(#sp)"/></g>
<path d="M384.8 32.2L384.8 89.8L456.5 119.5L528 92M383.2 89.8L384.8 89.8M383.2 75.4L384.8 75.4M383.2 61L384.8 61M383.2 46.6L384.8 46.6M383.2 32.2L384.8 32.2M387.1 90.8l-1.4 0.5M409.5 100l-1.4 0.5M431.8 109.3l-1.4 0.5M454.2 118.5l-1.4 0.5M456.5 119.5l1.4 0.6M470.8 114l1.4 0.6M485.1 108.5l1.4 0.6M499.4 103l1.4 0.6M513.7 97.5l1.4 0.6M528 92l1.4 0.6" stroke="#8a8a8a" stroke-width="0.55" fill="none"/>
<g class="t"><text x="374.7" y="95.1">5.21478</text><text x="397.4" y="104.4">5.21476</text><text x="420" y="113.7">5.21474</text><text x="442.7" y="123">5.21472</text><text x="375.3" y="109.8">×10<tspan font-size="3" dy="-1.6">6</tspan></text><text class="an" x="410.7" y="123">Y(m)</text><text x="465" y="124">5.7428</text><text x="478.3" y="118">5.743</text><text x="494" y="113">5.7432</text><text x="509.2" y="107.2">5.7434</text><text x="523" y="102">5.7436</text><text x="537.7" y="96">5.7438</text><text x="534" y="110">×10<tspan font-size="3" dy="-1.6">5</tspan></text><text class="an" x="498.5" y="123.5">X(m)</text></g>
<g class="t z"><text x="382.4" y="89.8">0</text><text x="382.4" y="75.4">10</text><text x="382.4" y="61">20</text><text x="382.4" y="46.6">30</text><text x="382.4" y="32.2">40</text></g>
<g transform="rotate(-90 374.5 61)"><text class="t zn" x="374.5" y="61">Z(m)</text></g>
<text class="cap" x="455" y="140.5">(c)</text>
<path d="M18.6 239L99 212.3M99 212.3L170 241.5M18.6 229L99 202.3M99 202.3L170 231.5M18.6 219L99 192.3M99 192.3L170 221.5M18.6 209L99 182.3M99 182.3L170 211.5M18.6 199L99 172.3M99 172.3L170 201.5M18.6 189L99 162.3M99 162.3L170 191.5M18.6 179L99 152.3M99 152.3L170 181.5M104 214.3L104 154.3M23.6 241L104 214.3M134.9 227L134.9 167M54.5 253.7L134.9 227M165.7 239.7L165.7 179.7M85.3 266.4L165.7 239.7M18.6 239L18.6 179M18.6 239L89.6 268.2M43.5 230.7L43.5 170.7M43.5 230.7L114.5 259.9M69.3 222.2L69.3 162.2M69.3 222.2L140.3 251.4M94.2 213.9L94.2 153.9M94.2 213.9L165.2 243.1" stroke="#e4e4e4" stroke-width="0.5" fill="none"/>
<path d="M18.6 179L99 152.3L170 181.5L170 241.5M99 212.3L99 152.3" stroke="#dcdcdc" stroke-width="0.5" fill="none"/>
<g><ellipse cx="90" cy="250" rx="20" ry="5" fill="#c060a0" filter="url(#sc)"/><ellipse cx="130" cy="248" rx="18" ry="5" fill="#4080c0" filter="url(#sc)"/><ellipse cx="96.5" cy="209.9" rx="1" ry="4.6" fill="#46d0e0" filter="url(#tr)"/><path d="M96.5 173.5C97 173.9 97.8 175.5 97.8 177.4L97.9 199.7C97.9 204.6 97.3 206.3 96.5 206.3C95.7 206.3 95.2 204.6 95.2 199.7L95.2 177.4C95.2 175.5 96.1 173.9 96.5 173.5Z" fill="#46d0e0" filter="url(#sp2)"/><ellipse cx="102.1" cy="212.2" rx="1" ry="4.9" fill="#e060a0" filter="url(#tr)"/><path d="M102.1 173C102.5 173.4 103.4 174.9 103.4 176.9L103.4 201.3C103.4 206.5 102.8 208.3 102.1 208.3C101.3 208.3 100.7 206.5 100.7 201.3L100.8 176.9C100.8 174.9 101.6 173.4 102.1 173Z" fill="#e060a0" filter="url(#sp2)"/><ellipse cx="92.1" cy="213.5" rx="1.3" ry="3.7" fill="#911eb4" filter="url(#tr)"/><path d="M92.1 185.9C92.7 186.4 93.9 188.5 93.9 191.1L94 205.8C94 209.5 93.2 210.8 92.1 210.8C91.1 210.8 90.3 209.5 90.3 205.8L90.4 191.1C90.4 188.5 91.5 186.4 92.1 185.9Z" fill="#911eb4" filter="url(#sp2)"/><ellipse cx="85.5" cy="213.9" rx="1.2" ry="5" fill="#d0d060" filter="url(#tr)"/><path d="M85.5 173.7C86.1 174.2 87.1 176.1 87.1 178.5L87.2 202.7C87.2 208.1 86.5 209.9 85.5 209.9C84.6 209.9 83.8 208.1 83.8 202.7L83.9 178.5C83.9 176.1 85 174.2 85.5 173.7Z" fill="#d0d060" filter="url(#sp2)"/><ellipse cx="114.5" cy="214.9" rx="1" ry="4.4" fill="#20c060" filter="url(#tr)"/><path d="M114.5 180C114.9 180.4 115.7 182 115.7 183.9L115.8 205.2C115.8 209.9 115.2 211.4 114.5 211.4C113.7 211.4 113.1 209.9 113.1 205.2L113.2 183.9C113.2 182 114 180.4 114.5 180Z" fill="#20c060" filter="url(#sp2)"/><ellipse cx="79.6" cy="216.5" rx="1.2" ry="4.7" fill="#9a6324" filter="url(#tr)"/><path d="M79.6 179.5C80.1 179.9 81.2 181.8 81.2 184.2L81.2 206.2C81.2 211.2 80.5 212.9 79.6 212.9C78.6 212.9 77.9 211.2 77.9 206.2L78 184.2C78 181.8 79 179.9 79.6 179.5Z" fill="#9a6324" filter="url(#sp2)"/><ellipse cx="89.7" cy="217" rx="1.1" ry="4.5" fill="#6040c0" filter="url(#tr)"/><path d="M89.7 182C90.2 182.4 91.2 184.1 91.2 186.2L91.2 207.2C91.2 211.9 90.6 213.5 89.7 213.5C88.9 213.5 88.3 211.9 88.3 207.2L88.3 186.2C88.3 184.1 89.2 182.4 89.7 182Z" fill="#6040c0" filter="url(#sp2)"/><ellipse cx="99.3" cy="217.2" rx="1.3" ry="4.4" fill="#46d0e0" filter="url(#tr)"/><path d="M99.3 182.7C100 183.2 101.1 185.4 101.1 188L101.2 207.6C101.2 212.2 100.4 213.8 99.3 213.8C98.3 213.8 97.5 212.2 97.5 207.6L97.6 188C97.6 185.4 98.7 183.2 99.3 182.7Z" fill="#46d0e0" filter="url(#sp2)"/><ellipse cx="118.5" cy="218.4" rx="1.2" ry="4.1" fill="#2080a0" filter="url(#tr)"/><path d="M118.5 187C119.1 187.5 120.1 189.4 120.1 191.9L120.2 209.6C120.2 213.9 119.5 215.3 118.5 215.3C117.5 215.3 116.8 213.9 116.8 209.6L116.9 191.9C116.9 189.4 117.9 187.5 118.5 187Z" fill="#2080a0" filter="url(#sp2)"/><ellipse cx="111.1" cy="218.6" rx="1.1" ry="4.3" fill="#f58231" filter="url(#tr)"/><path d="M111.1 185.2C111.6 185.7 112.6 187.5 112.6 189.8L112.7 209.3C112.7 213.8 112 215.3 111.1 215.3C110.2 215.3 109.5 213.8 109.5 209.3L109.6 189.8C109.6 187.5 110.5 185.7 111.1 185.2Z" fill="#f58231" filter="url(#sp2)"/><ellipse cx="72.9" cy="219.3" rx="1" ry="4.2" fill="#f0c8a0" filter="url(#tr)"/><path d="M72.9 187C73.4 187.4 74.2 189 74.2 190.9L74.3 210.3C74.3 214.6 73.7 216.1 72.9 216.1C72.2 216.1 71.6 214.6 71.6 210.3L71.6 190.9C71.6 189 72.5 187.4 72.9 187Z" fill="#f0c8a0" filter="url(#sp2)"/><ellipse cx="83.5" cy="219.4" rx="1.3" ry="4.4" fill="#e0a030" filter="url(#tr)"/><path d="M83.5 185.1C84.1 185.6 85.2 187.6 85.2 190.1L85.3 209.8C85.3 214.5 84.5 216 83.5 216C82.5 216 81.8 214.5 81.8 209.8L81.8 190.1C81.8 187.6 82.9 185.6 83.5 185.1Z" fill="#e0a030" filter="url(#sp2)"/><ellipse cx="99.8" cy="219" rx="1.1" ry="5.2" fill="#c8a0f0" filter="url(#tr)"/><path d="M99.8 177C100.3 177.4 101.2 179.1 101.2 181.2L101.3 207.2C101.3 212.9 100.7 214.8 99.8 214.8C99 214.8 98.3 212.9 98.3 207.2L98.4 181.2C98.4 179.1 99.3 177.4 99.8 177Z" fill="#c8a0f0" filter="url(#sp2)"/><ellipse cx="114" cy="221.6" rx="1.3" ry="3.6" fill="#e0a030" filter="url(#tr)"/><path d="M114 195.4C114.6 196 115.7 198 115.7 200.6L115.8 214.3C115.8 217.9 115.1 219 114 219C113 219 112.2 217.9 112.2 214.3L112.3 200.6C112.3 198 113.4 196 114 195.4Z" fill="#e0a030" filter="url(#sp2)"/><ellipse cx="63.6" cy="221.6" rx="1.2" ry="4.9" fill="#008080" filter="url(#tr)"/><path d="M63.6 182.2C64.2 182.7 65.3 184.7 65.3 187.2L65.4 210.6C65.4 215.9 64.6 217.7 63.6 217.7C62.6 217.7 61.9 215.9 61.9 210.6L62 187.2C62 184.7 63 182.7 63.6 182.2Z" fill="#008080" filter="url(#sp2)"/><ellipse cx="88.2" cy="222.2" rx="1.1" ry="5" fill="#b060d0" filter="url(#tr)"/><path d="M88.2 181.7C88.7 182.1 89.6 183.8 89.6 185.9L89.7 210.9C89.7 216.3 89 218.2 88.2 218.2C87.3 218.2 86.7 216.3 86.7 210.9L86.8 185.9C86.8 183.8 87.7 182.1 88.2 181.7Z" fill="#b060d0" filter="url(#sp2)"/><ellipse cx="53.5" cy="223.7" rx="1.3" ry="4.2" fill="#e8d820" filter="url(#tr)"/><path d="M53.5 190.9C54.1 191.4 55.2 193.4 55.2 195.9L55.3 214.5C55.3 218.9 54.6 220.4 53.5 220.4C52.5 220.4 51.8 218.9 51.8 214.5L51.9 195.9C51.9 193.4 53 191.4 53.5 190.9Z" fill="#e8d820" filter="url(#sp2)"/><ellipse cx="129" cy="223.6" rx="1.1" ry="4.3" fill="#e8d820" filter="url(#tr)"/><path d="M129 190C129.5 190.4 130.5 192.2 130.5 194.4L130.5 214.2C130.5 218.7 129.9 220.3 129 220.3C128.1 220.3 127.5 218.7 127.5 214.2L127.6 194.4C127.6 192.2 128.5 190.4 129 190Z" fill="#e8d820" filter="url(#sp2)"/><ellipse cx="76.7" cy="223.1" rx="1.1" ry="4.9" fill="#e0e0a0" filter="url(#tr)"/><path d="M76.7 183.5C77.2 184 78.2 185.8 78.2 188.1L78.3 212.1C78.3 217.4 77.6 219.2 76.7 219.2C75.8 219.2 75.1 217.4 75.1 212.1L75.2 188.1C75.2 185.8 76.2 184 76.7 183.5Z" fill="#e0e0a0" filter="url(#sp2)"/><ellipse cx="122.4" cy="223.5" rx="1.3" ry="4.7" fill="#2080a0" filter="url(#tr)"/><path d="M122.4 185.8C123 186.3 124.1 188.3 124.1 190.9L124.2 213C124.2 218.1 123.4 219.8 122.4 219.8C121.4 219.8 120.6 218.1 120.6 213L120.7 190.9C120.7 188.3 121.8 186.3 122.4 185.8Z" fill="#2080a0" filter="url(#sp2)"/><ellipse cx="86.1" cy="222.8" rx="1.2" ry="5.7" fill="#e0a030" filter="url(#tr)"/><path d="M86.1 175.6C86.6 176.1 87.6 178 87.6 180.3L87.7 209.6C87.7 216 87 218.1 86.1 218.1C85.1 218.1 84.4 216 84.4 209.6L84.5 180.3C84.5 178 85.5 176.1 86.1 175.6Z" fill="#e0a030" filter="url(#sp2)"/><ellipse cx="68" cy="223.3" rx="1.2" ry="5.3" fill="#f032e6" filter="url(#tr)"/><path d="M68 180.1C68.6 180.6 69.7 182.6 69.7 185.1L69.8 211.2C69.8 217.1 69 219 68 219C67.1 219 66.3 217.1 66.3 211.2L66.4 185.1C66.4 182.6 67.5 180.6 68 180.1Z" fill="#f032e6" filter="url(#sp2)"/><ellipse cx="110.1" cy="223.3" rx="1.3" ry="5.3" fill="#e060a0" filter="url(#tr)"/><path d="M110.1 179.4C110.7 179.9 111.8 181.9 111.8 184.4L111.8 211C111.8 217 111.1 219 110.1 219C109.1 219 108.3 217 108.3 211L108.4 184.4C108.4 181.9 109.5 179.9 110.1 179.4Z" fill="#e060a0" filter="url(#sp2)"/><ellipse cx="135.4" cy="223.9" rx="1.2" ry="4.8" fill="#e8d820" filter="url(#tr)"/><path d="M135.4 185.2C136 185.7 137 187.5 137 189.8L137.1 213.1C137.1 218.3 136.4 220 135.4 220C134.5 220 133.8 218.3 133.8 213.1L133.9 189.8C133.9 187.5 134.9 185.7 135.4 185.2Z" fill="#e8d820" filter="url(#sp2)"/><ellipse cx="49.5" cy="224.7" rx="1.2" ry="4.9" fill="#c8a0f0" filter="url(#tr)"/><path d="M49.5 184.9C50 185.4 51.1 187.3 51.1 189.7L51.1 213.6C51.1 219 50.4 220.7 49.5 220.7C48.5 220.7 47.8 219 47.8 213.6L47.9 189.7C47.9 187.3 48.9 185.4 49.5 184.9Z" fill="#c8a0f0" filter="url(#sp2)"/><ellipse cx="95.8" cy="225.6" rx="1.1" ry="4.9" fill="#e8d820" filter="url(#tr)"/><path d="M95.8 186.2C96.3 186.6 97.3 188.4 97.3 190.6L97.4 214.6C97.4 219.9 96.7 221.7 95.8 221.7C94.9 221.7 94.3 219.9 94.3 214.6L94.4 190.6C94.4 188.4 95.3 186.6 95.8 186.2Z" fill="#e8d820" filter="url(#sp2)"/><ellipse cx="63.9" cy="226.8" rx="1.2" ry="4.4" fill="#e060a0" filter="url(#tr)"/><path d="M63.9 192C64.4 192.5 65.5 194.4 65.5 196.9L65.6 217.1C65.6 221.8 64.9 223.3 63.9 223.3C62.9 223.3 62.2 221.8 62.2 217.1L62.3 196.9C62.3 194.4 63.3 192.5 63.9 192Z" fill="#e060a0" filter="url(#sp2)"/><ellipse cx="91" cy="226.7" rx="1.2" ry="4.9" fill="#40a0e0" filter="url(#tr)"/><path d="M91 186.8C91.5 187.3 92.6 189.2 92.6 191.7L92.7 215.5C92.7 220.9 92 222.7 91 222.7C90 222.7 89.2 220.9 89.2 215.5L89.3 191.7C89.3 189.2 90.4 187.3 91 186.8Z" fill="#40a0e0" filter="url(#sp2)"/><ellipse cx="114.7" cy="226.3" rx="1.1" ry="5.3" fill="#808080" filter="url(#tr)"/><path d="M114.7 182.4C115.3 182.9 116.2 184.6 116.2 186.7L116.3 214.1C116.3 220 115.6 222 114.7 222C113.9 222 113.2 220 113.2 214.1L113.3 186.7C113.3 184.6 114.2 182.9 114.7 182.4Z" fill="#808080" filter="url(#sp2)"/><ellipse cx="130.9" cy="227.7" rx="1.2" ry="4.1" fill="#9a6324" filter="url(#tr)"/><path d="M130.9 196.6C131.5 197.1 132.5 199.1 132.5 201.5L132.6 219C132.6 223.2 131.9 224.6 130.9 224.6C129.9 224.6 129.2 223.2 129.2 219L129.3 201.5C129.3 199.1 130.4 197.1 130.9 196.6Z" fill="#9a6324" filter="url(#sp2)"/><ellipse cx="57.6" cy="228.3" rx="1.1" ry="4.2" fill="#b060d0" filter="url(#tr)"/><path d="M57.6 196.2C58.1 196.7 59 198.4 59 200.6L59.1 219.4C59.1 223.7 58.4 225.2 57.6 225.2C56.7 225.2 56 223.7 56 219.4L56.1 200.6C56.1 198.4 57 196.7 57.6 196.2Z" fill="#b060d0" filter="url(#sp2)"/><ellipse cx="82" cy="228" rx="1" ry="4.5" fill="#e0e0a0" filter="url(#tr)"/><path d="M82 192.3C82.5 192.7 83.4 194.4 83.4 196.4L83.5 218C83.5 222.8 82.9 224.5 82 224.5C81.2 224.5 80.6 222.8 80.6 218L80.7 196.4C80.7 194.4 81.6 192.7 82 192.3Z" fill="#e0e0a0" filter="url(#sp2)"/><ellipse cx="42.6" cy="230" rx="1.1" ry="2.9" fill="#70b0d0" filter="url(#tr)"/><path d="M42.6 210.6C43.1 211 44.1 212.8 44.1 214.9L44.2 224.6C44.2 227.2 43.5 228.1 42.6 228.1C41.7 228.1 41 227.2 41 224.6L41.1 214.9C41.1 212.8 42.1 211 42.6 210.6Z" fill="#70b0d0" filter="url(#sp2)"/><ellipse cx="140.6" cy="228.3" rx="1" ry="5.1" fill="#e8d820" filter="url(#tr)"/><path d="M140.6 187.1C141.1 187.5 141.9 189.1 141.9 191L142 216.8C142 222.3 141.4 224.2 140.6 224.2C139.8 224.2 139.2 222.3 139.2 216.8L139.3 191C139.3 189.1 140.2 187.5 140.6 187.1Z" fill="#e8d820" filter="url(#sp2)"/><ellipse cx="104.7" cy="228.7" rx="1.2" ry="5.2" fill="#e060a0" filter="url(#tr)"/><path d="M104.7 186.4C105.3 186.9 106.3 188.7 106.3 191L106.4 216.9C106.4 222.6 105.7 224.5 104.7 224.5C103.8 224.5 103.1 222.6 103.1 216.9L103.2 191C103.2 188.7 104.2 186.9 104.7 186.4Z" fill="#e060a0" filter="url(#sp2)"/><ellipse cx="125.5" cy="229.8" rx="1" ry="4.3" fill="#b0b0e0" filter="url(#tr)"/><path d="M125.5 196.6C126 197 126.8 198.6 126.8 200.6L126.9 220.5C126.9 225 126.3 226.5 125.5 226.5C124.7 226.5 124.1 225 124.1 220.5L124.2 200.6C124.2 198.6 125 197 125.5 196.6Z" fill="#b0b0e0" filter="url(#sp2)"/><ellipse cx="133.1" cy="230.4" rx="1.2" ry="4.9" fill="#20c060" filter="url(#tr)"/><path d="M133.1 191.3C133.7 191.7 134.7 193.6 134.7 195.9L134.8 219.5C134.8 224.8 134.1 226.5 133.1 226.5C132.2 226.5 131.5 224.8 131.5 219.5L131.6 195.9C131.6 193.6 132.6 191.7 133.1 191.3Z" fill="#20c060" filter="url(#sp2)"/><ellipse cx="151.3" cy="231.1" rx="1.2" ry="4.2" fill="#e0a030" filter="url(#tr)"/><path d="M151.3 198.8C151.8 199.2 152.8 201.1 152.8 203.4L152.9 222.1C152.9 226.4 152.2 227.9 151.3 227.9C150.3 227.9 149.6 226.4 149.6 222.1L149.7 203.4C149.7 201.1 150.7 199.2 151.3 198.8Z" fill="#e0a030" filter="url(#sp2)"/><ellipse cx="51.1" cy="230.6" rx="1.3" ry="4.8" fill="#e6194b" filter="url(#tr)"/><path d="M51.1 192.4C51.7 193 52.9 195.1 52.9 197.7L52.9 219.9C52.9 225.1 52.1 226.8 51.1 226.8C50 226.8 49.2 225.1 49.2 219.9L49.3 197.7C49.3 195.1 50.5 193 51.1 192.4Z" fill="#e6194b" filter="url(#sp2)"/><ellipse cx="100.7" cy="230" rx="1.1" ry="5.7" fill="#e6194b" filter="url(#tr)"/><path d="M100.7 182.1C101.2 182.5 102.1 184.2 102.1 186.3L102.2 216.6C102.2 223.1 101.5 225.2 100.7 225.2C99.8 225.2 99.2 223.1 99.2 216.6L99.3 186.3C99.3 184.2 100.2 182.5 100.7 182.1Z" fill="#e6194b" filter="url(#sp2)"/><ellipse cx="71.3" cy="231" rx="1.2" ry="4.8" fill="#6040c0" filter="url(#tr)"/><path d="M71.3 192.9C71.8 193.4 72.8 195.3 72.8 197.7L72.9 220.4C72.9 225.5 72.2 227.2 71.3 227.2C70.3 227.2 69.6 225.5 69.6 220.4L69.7 197.7C69.7 195.3 70.7 193.4 71.3 192.9Z" fill="#6040c0" filter="url(#sp2)"/><ellipse cx="61.2" cy="230.8" rx="1" ry="5.2" fill="#40e0c0" filter="url(#tr)"/><path d="M61.2 188.4C61.6 188.8 62.5 190.4 62.5 192.4L62.6 219C62.6 224.7 62 226.6 61.2 226.6C60.4 226.6 59.7 224.7 59.7 219L59.8 192.4C59.8 190.4 60.7 188.8 61.2 188.4Z" fill="#40e0c0" filter="url(#sp2)"/><ellipse cx="87.8" cy="231.4" rx="1.1" ry="4.7" fill="#e8d820" filter="url(#tr)"/><path d="M87.8 193.8C88.3 194.2 89.2 195.9 89.2 198.1L89.3 220.9C89.3 226 88.7 227.7 87.8 227.7C86.9 227.7 86.3 226 86.3 220.9L86.4 198.1C86.4 195.9 87.3 194.2 87.8 193.8Z" fill="#e8d820" filter="url(#sp2)"/><ellipse cx="112.5" cy="231.4" rx="1.1" ry="5.5" fill="#f0a0b0" filter="url(#tr)"/><path d="M112.5 186.3C113 186.7 113.9 188.4 113.9 190.5L114 218.8C114 224.9 113.4 227 112.5 227C111.7 227 111 224.9 111 218.8L111.1 190.5C111.1 188.4 112 186.7 112.5 186.3Z" fill="#f0a0b0" filter="url(#sp2)"/><ellipse cx="80.5" cy="232.4" rx="1" ry="5.1" fill="#e8d820" filter="url(#tr)"/><path d="M80.5 190.7C80.9 191.1 81.8 192.7 81.8 194.7L81.9 220.8C81.9 226.4 81.3 228.3 80.5 228.3C79.6 228.3 79 226.4 79 220.8L79.1 194.7C79.1 192.7 80 191.1 80.5 190.7Z" fill="#e8d820" filter="url(#sp2)"/><ellipse cx="133.5" cy="233" rx="1.2" ry="4.5" fill="#3cb44b" filter="url(#tr)"/><path d="M133.5 197.1C134.1 197.6 135.2 199.6 135.2 202.1L135.2 223C135.2 227.9 134.5 229.5 133.5 229.5C132.5 229.5 131.8 227.9 131.8 223L131.9 202.1C131.9 199.6 133 197.6 133.5 197.1Z" fill="#3cb44b" filter="url(#sp2)"/><ellipse cx="122.4" cy="232.5" rx="1.3" ry="5.8" fill="#b0b0e0" filter="url(#tr)"/><path d="M122.4 183.5C123 184.1 124.2 186.2 124.2 188.9L124.3 218.8C124.3 225.4 123.5 227.7 122.4 227.7C121.3 227.7 120.5 225.4 120.5 218.8L120.6 188.9C120.6 186.2 121.8 184.1 122.4 183.5Z" fill="#b0b0e0" filter="url(#sp2)"/><ellipse cx="90.1" cy="234.4" rx="1.3" ry="4.1" fill="#f032e6" filter="url(#tr)"/><path d="M90.1 202.8C90.7 203.4 91.9 205.5 91.9 208.1L91.9 225.6C91.9 229.8 91.2 231.3 90.1 231.3C89 231.3 88.2 229.8 88.2 225.6L88.3 208.1C88.3 205.5 89.5 203.4 90.1 202.8Z" fill="#f032e6" filter="url(#sp2)"/><ellipse cx="141.3" cy="233.1" rx="1.2" ry="5.7" fill="#f032e6" filter="url(#tr)"/><path d="M141.3 185.2C141.8 185.7 142.8 187.6 142.8 189.9L142.9 219.7C142.9 226.2 142.2 228.3 141.3 228.3C140.4 228.3 139.7 226.2 139.7 219.7L139.7 189.9C139.7 187.6 140.7 185.7 141.3 185.2Z" fill="#f032e6" filter="url(#sp2)"/><ellipse cx="158.6" cy="234.9" rx="1.2" ry="4" fill="#a8e020" filter="url(#tr)"/><path d="M158.6 204.2C159.2 204.7 160.2 206.6 160.2 209L160.3 226.3C160.3 230.4 159.6 231.8 158.6 231.8C157.6 231.8 156.9 230.4 156.9 226.3L157 209C157 206.6 158 204.7 158.6 204.2Z" fill="#a8e020" filter="url(#sp2)"/><ellipse cx="106.9" cy="233.9" rx="1" ry="5.5" fill="#a8e020" filter="url(#tr)"/><path d="M106.9 188.3C107.4 188.7 108.2 190.3 108.2 192.2L108.3 221.2C108.3 227.3 107.7 229.4 106.9 229.4C106.2 229.4 105.6 227.3 105.6 221.2L105.6 192.2C105.6 190.3 106.5 188.7 106.9 188.3Z" fill="#a8e020" filter="url(#sp2)"/><ellipse cx="134.9" cy="234.6" rx="1.2" ry="5" fill="#3cb44b" filter="url(#tr)"/><path d="M134.9 194.3C135.5 194.8 136.5 196.7 136.5 199.1L136.6 223.4C136.6 228.8 135.9 230.6 134.9 230.6C134 230.6 133.3 228.8 133.3 223.4L133.4 199.1C133.4 196.7 134.4 194.8 134.9 194.3Z" fill="#3cb44b" filter="url(#sp2)"/><ellipse cx="87.4" cy="235.6" rx="1.2" ry="4.2" fill="#3cb44b" filter="url(#tr)"/><path d="M87.4 203C88 203.5 89.1 205.5 89.1 208L89.2 226.5C89.2 230.9 88.4 232.4 87.4 232.4C86.4 232.4 85.7 230.9 85.7 226.5L85.8 208C85.8 205.5 86.8 203.5 87.4 203Z" fill="#3cb44b" filter="url(#sp2)"/><ellipse cx="58.4" cy="235.8" rx="1" ry="4.2" fill="#f0c8a0" filter="url(#tr)"/><path d="M58.4 203.4C58.9 203.8 59.8 205.4 59.8 207.5L59.9 226.8C59.9 231.2 59.2 232.6 58.4 232.6C57.6 232.6 57 231.2 57 226.8L57 207.5C57 205.4 57.9 203.8 58.4 203.4Z" fill="#f0c8a0" filter="url(#sp2)"/><ellipse cx="101.2" cy="235.7" rx="1.2" ry="4.6" fill="#20c060" filter="url(#tr)"/><path d="M101.2 199.6C101.7 200 102.7 201.9 102.7 204.3L102.8 225.6C102.8 230.5 102.1 232.2 101.2 232.2C100.2 232.2 99.5 230.5 99.5 225.6L99.6 204.3C99.6 201.9 100.6 200 101.2 199.6Z" fill="#20c060" filter="url(#sp2)"/><ellipse cx="70.2" cy="235.9" rx="1.3" ry="4.7" fill="#e060a0" filter="url(#tr)"/><path d="M70.2 198.2C70.8 198.7 72 200.8 72 203.4L72 225.4C72 230.5 71.3 232.2 70.2 232.2C69.2 232.2 68.4 230.5 68.4 225.4L68.5 203.4C68.5 200.8 69.6 198.7 70.2 198.2Z" fill="#e060a0" filter="url(#sp2)"/><ellipse cx="153" cy="236.4" rx="1.3" ry="5" fill="#b0b0e0" filter="url(#tr)"/><path d="M153 195.5C153.6 196 154.7 198.1 154.7 200.7L154.8 225C154.8 230.6 154 232.4 153 232.4C151.9 232.4 151.2 230.6 151.2 225L151.2 200.7C151.2 198.1 152.4 196 153 195.5Z" fill="#b0b0e0" filter="url(#sp2)"/><ellipse cx="115.4" cy="237.2" rx="1.2" ry="4.4" fill="#f032e6" filter="url(#tr)"/><path d="M115.4 202.3C116 202.8 117.1 204.8 117.1 207.2L117.2 227.4C117.2 232.2 116.4 233.7 115.4 233.7C114.4 233.7 113.7 232.2 113.7 227.4L113.8 207.2C113.8 204.8 114.9 202.8 115.4 202.3Z" fill="#f032e6" filter="url(#sp2)"/><ellipse cx="62.9" cy="238.3" rx="1.1" ry="4.2" fill="#e07050" filter="url(#tr)"/><path d="M62.9 206.3C63.4 206.7 64.4 208.4 64.4 210.5L64.4 229.3C64.4 233.7 63.8 235.1 62.9 235.1C62.1 235.1 61.4 233.7 61.4 229.3L61.5 210.5C61.5 208.4 62.4 206.7 62.9 206.3Z" fill="#e07050" filter="url(#sp2)"/><ellipse cx="126.5" cy="237.7" rx="1.1" ry="5.1" fill="#c040c0" filter="url(#tr)"/><path d="M126.5 196.7C127 197.1 127.9 198.8 127.9 201L128 226.3C128 231.8 127.3 233.7 126.5 233.7C125.6 233.7 125 231.8 125 226.3L125.1 201C125.1 198.8 126 197.1 126.5 196.7Z" fill="#c040c0" filter="url(#sp2)"/><ellipse cx="82.1" cy="238.5" rx="1.2" ry="4.8" fill="#d0d060" filter="url(#tr)"/><path d="M82.1 200.4C82.7 200.8 83.8 202.8 83.8 205.3L83.8 227.9C83.8 233 83.1 234.8 82.1 234.8C81.1 234.8 80.4 233 80.4 227.9L80.5 205.3C80.5 202.8 81.5 200.8 82.1 200.4Z" fill="#d0d060" filter="url(#sp2)"/><ellipse cx="145.8" cy="237.8" rx="1" ry="5.7" fill="#e0a030" filter="url(#tr)"/><path d="M145.8 190.7C146.2 191.1 147.1 192.6 147.1 194.5L147.1 224.6C147.1 231 146.6 233.1 145.8 233.1C145 233.1 144.4 231 144.4 224.6L144.5 194.5C144.5 192.6 145.3 191.1 145.8 190.7Z" fill="#e0a030" filter="url(#sp2)"/><ellipse cx="92.5" cy="238.3" rx="1.3" ry="5.6" fill="#5080d0" filter="url(#tr)"/><path d="M92.5 191.9C93.1 192.4 94.3 194.6 94.3 197.2L94.4 225.3C94.4 231.6 93.6 233.7 92.5 233.7C91.4 233.7 90.6 231.6 90.6 225.3L90.7 197.2C90.7 194.6 91.9 192.4 92.5 191.9Z" fill="#5080d0" filter="url(#sp2)"/><ellipse cx="108.8" cy="239.1" rx="1.3" ry="5" fill="#e060a0" filter="url(#tr)"/><path d="M108.8 198.9C109.4 199.4 110.5 201.4 110.5 204L110.6 227.9C110.6 233.4 109.9 235.2 108.8 235.2C107.8 235.2 107.1 233.4 107.1 227.9L107.2 204C107.2 201.4 108.3 199.4 108.8 198.9Z" fill="#e060a0" filter="url(#sp2)"/><ellipse cx="121.8" cy="238.4" rx="1.3" ry="5.8" fill="#80e0a0" filter="url(#tr)"/><path d="M121.8 189.9C122.4 190.4 123.5 192.5 123.5 195L123.6 224.8C123.6 231.4 122.9 233.6 121.8 233.6C120.8 233.6 120 231.4 120 224.8L120.1 195C120.1 192.5 121.2 190.4 121.8 189.9Z" fill="#80e0a0" filter="url(#sp2)"/><ellipse cx="135.7" cy="240.1" rx="1.2" ry="4.3" fill="#808080" filter="url(#tr)"/><path d="M135.7 206.8C136.3 207.3 137.3 209.1 137.3 211.4L137.3 230.8C137.3 235.3 136.7 236.8 135.7 236.8C134.8 236.8 134.1 235.3 134.1 230.8L134.2 211.4C134.2 209.1 135.2 207.3 135.7 206.8Z" fill="#808080" filter="url(#sp2)"/><ellipse cx="88.3" cy="239.6" rx="1.1" ry="5.6" fill="#e07050" filter="url(#tr)"/><path d="M88.3 193.3C88.9 193.8 89.8 195.5 89.8 197.8L89.9 226.7C89.9 232.9 89.2 235 88.3 235C87.5 235 86.8 232.9 86.8 226.7L86.9 197.8C86.9 195.5 87.8 193.8 88.3 193.3Z" fill="#e07050" filter="url(#sp2)"/><ellipse cx="73" cy="241" rx="1.2" ry="4.2" fill="#808080" filter="url(#tr)"/><path d="M73 208.4C73.5 208.9 74.6 210.8 74.6 213.2L74.6 231.9C74.6 236.3 73.9 237.8 73 237.8C72 237.8 71.3 236.3 71.3 231.9L71.4 213.2C71.4 210.8 72.4 208.9 73 208.4Z" fill="#808080" filter="url(#sp2)"/><ellipse cx="98.7" cy="240.7" rx="1.3" ry="5.2" fill="#2080a0" filter="url(#tr)"/><path d="M98.7 198.2C99.3 198.7 100.4 200.8 100.4 203.4L100.5 228.8C100.5 234.6 99.7 236.5 98.7 236.5C97.6 236.5 96.8 234.6 96.8 228.8L96.9 203.4C96.9 200.8 98.1 198.7 98.7 198.2Z" fill="#2080a0" filter="url(#sp2)"/><ellipse cx="115.2" cy="241.3" rx="1.2" ry="5.2" fill="#e0e0a0" filter="url(#tr)"/><path d="M115.2 198.5C115.8 199 116.8 200.8 116.8 203.1L116.9 229.3C116.9 235.1 116.2 237 115.2 237C114.3 237 113.6 235.1 113.6 229.3L113.7 203.1C113.7 200.8 114.7 199 115.2 198.5Z" fill="#e0e0a0" filter="url(#sp2)"/><ellipse cx="126" cy="241.9" rx="1" ry="5.4" fill="#c040c0" filter="url(#tr)"/><path d="M126 197.6C126.5 198.1 127.4 199.7 127.4 201.8L127.5 229.6C127.5 235.6 126.9 237.6 126 237.6C125.2 237.6 124.6 235.6 124.6 229.6L124.6 201.8C124.6 199.7 125.5 198.1 126 197.6Z" fill="#c040c0" filter="url(#sp2)"/><ellipse cx="82.7" cy="243.4" rx="1" ry="4.6" fill="#5080d0" filter="url(#tr)"/><path d="M82.7 207.2C83.1 207.6 84 209.3 84 211.3L84.1 233.3C84.1 238.2 83.5 239.8 82.7 239.8C81.9 239.8 81.2 238.2 81.2 233.3L81.3 211.3C81.3 209.3 82.2 207.6 82.7 207.2Z" fill="#5080d0" filter="url(#sp2)"/><ellipse cx="94.7" cy="242.5" rx="1" ry="5.7" fill="#2080a0" filter="url(#tr)"/><path d="M94.7 194.9C95.1 195.3 96 196.9 96 198.9L96 229.2C96 235.7 95.4 237.8 94.7 237.8C93.9 237.8 93.3 235.7 93.3 229.2L93.3 198.9C93.3 196.9 94.2 195.3 94.7 194.9Z" fill="#2080a0" filter="url(#sp2)"/><ellipse cx="122" cy="245" rx="1" ry="4.1" fill="#808000" filter="url(#tr)"/><path d="M122 213.4C122.5 213.8 123.4 215.5 123.4 217.6L123.5 236.2C123.5 240.4 122.9 241.9 122 241.9C121.2 241.9 120.6 240.4 120.6 236.2L120.7 217.6C120.7 215.5 121.6 213.8 122 213.4Z" fill="#808000" filter="url(#sp2)"/><ellipse cx="109.5" cy="244.1" rx="1.1" ry="5.4" fill="#e0e0a0" filter="url(#tr)"/><path d="M109.5 199.1C110 199.6 111 201.4 111 203.6L111.1 231.5C111.1 237.6 110.4 239.6 109.5 239.6C108.6 239.6 107.9 237.6 107.9 231.5L108 203.6C108 201.4 109 199.6 109.5 199.1Z" fill="#e0e0a0" filter="url(#sp2)"/><ellipse cx="84.8" cy="245.7" rx="1.2" ry="5.3" fill="#008080" filter="url(#tr)"/><path d="M84.8 201.9C85.3 202.4 86.3 204.2 86.3 206.5L86.4 233.5C86.4 239.4 85.7 241.4 84.8 241.4C83.9 241.4 83.2 239.4 83.2 233.5L83.3 206.5C83.3 204.2 84.3 202.4 84.8 201.9Z" fill="#008080" filter="url(#sp2)"/><ellipse cx="103.3" cy="247.5" rx="1.1" ry="5.3" fill="#c040c0" filter="url(#tr)"/><path d="M103.3 204C103.8 204.5 104.8 206.3 104.8 208.5L104.9 235.4C104.9 241.2 104.2 243.2 103.3 243.2C102.4 243.2 101.7 241.2 101.7 235.4L101.8 208.5C101.8 206.3 102.8 204.5 103.3 204Z" fill="#c040c0" filter="url(#sp2)"/><ellipse cx="113.7" cy="248.5" rx="1" ry="4.8" fill="#808080" filter="url(#tr)"/><path d="M113.7 209.8C114.2 210.2 115 211.7 115 213.6L115.1 237.7C115.1 243 114.5 244.7 113.7 244.7C113 244.7 112.4 243 112.4 237.7L112.4 213.6C112.4 211.7 113.3 210.2 113.7 209.8Z" fill="#808080" filter="url(#sp2)"/><ellipse cx="94.7" cy="249.2" rx="1" ry="4.3" fill="#e07050" filter="url(#tr)"/><path d="M94.7 215.5C95.1 215.9 96 217.5 96 219.5L96.1 239.8C96.1 244.3 95.5 245.8 94.7 245.8C93.9 245.8 93.2 244.3 93.2 239.8L93.3 219.5C93.3 217.5 94.2 215.9 94.7 215.5Z" fill="#e07050" filter="url(#sp2)"/><ellipse cx="106.2" cy="248.8" rx="1.3" ry="5.5" fill="#40e0c0" filter="url(#tr)"/><path d="M106.2 202.8C106.9 203.3 108 205.4 108 208L108.1 235.9C108.1 242.2 107.3 244.2 106.2 244.2C105.2 244.2 104.4 242.2 104.4 235.9L104.5 208C104.5 205.4 105.6 203.3 106.2 202.8Z" fill="#40e0c0" filter="url(#sp2)"/><ellipse cx="105.1" cy="252.9" rx="1.1" ry="4.8" fill="#c040c0" filter="url(#tr)"/><path d="M105.1 214.5C105.6 214.9 106.5 216.6 106.5 218.7L106.6 242.2C106.6 247.4 106 249.1 105.1 249.1C104.3 249.1 103.6 247.4 103.6 242.2L103.7 218.7C103.7 216.6 104.6 214.9 105.1 214.5Z" fill="#c040c0" filter="url(#sp2)"/><ellipse cx="103.8" cy="196.6" rx="2.5" ry="3.4" fill="#30e020" filter="url(#tr)"/><path d="M103.8 172.8C105 173.3 107.1 175.5 107.1 178.2L107.3 190C107.3 193.2 105.8 194.3 103.8 194.3C101.8 194.3 100.3 193.2 100.3 190L100.5 178.2C100.5 175.5 102.6 173.3 103.8 172.8Z" fill="#30e020" filter="url(#sp2)"/><ellipse cx="83.8" cy="197.6" rx="2.2" ry="3.4" fill="#e02060" filter="url(#tr)"/><path d="M83.8 173.4C84.8 173.9 86.7 176.1 86.7 178.9L86.8 190.8C86.8 194.1 85.5 195.2 83.8 195.2C82.1 195.2 80.8 194.1 80.8 190.8L80.9 178.9C80.9 176.1 82.8 173.9 83.8 173.4Z" fill="#e02060" filter="url(#sp2)"/><ellipse cx="92.3" cy="198.7" rx="1.1" ry="2.3" fill="#c02020" filter="url(#tr)"/><path d="M92.3 185.8C92.8 186.1 93.8 187.3 93.8 188.7L93.9 195.1C93.9 196.9 93.2 197.4 92.3 197.4C91.4 197.4 90.7 196.9 90.7 195.1L90.8 188.7C90.8 187.3 91.8 186.1 92.3 185.8Z" fill="#c02020" filter="url(#sp2)"/><ellipse cx="73.2" cy="200.9" rx="1.3" ry="2.1" fill="#e04040" filter="url(#tr)"/><path d="M73.2 189.4C73.8 189.7 74.9 190.7 74.9 192L75 197.7C75 199.2 74.2 199.7 73.2 199.7C72.2 199.7 71.4 199.2 71.4 197.7L71.5 192C71.5 190.7 72.6 189.7 73.2 189.4Z" fill="#e04040" filter="url(#sp2)"/><ellipse cx="48" cy="204" rx="2.1" ry="3" fill="#90c8e8" filter="url(#tr)"/><path d="M48 184.1C49 184.5 50.8 186.3 50.8 188.6L50.9 198.5C50.9 201.2 49.7 202.1 48 202.1C46.3 202.1 45.1 201.2 45.1 198.5L45.2 188.6C45.2 186.3 47 184.5 48 184.1Z" fill="#90c8e8" filter="url(#sp2)"/><ellipse cx="80.8" cy="207.6" rx="2.1" ry="3.4" fill="#30b0c0" filter="url(#tr)"/><path d="M80.8 182.8C81.8 183.4 83.6 185.6 83.6 188.4L83.7 200.6C83.7 204 82.5 205.1 80.8 205.1C79.1 205.1 77.9 204 77.9 200.6L78 188.4C78 185.6 79.8 183.4 80.8 182.8Z" fill="#30b0c0" filter="url(#sp2)"/><ellipse cx="69.5" cy="212.1" rx="1.7" ry="3.9" fill="#9060e0" filter="url(#tr)"/><path d="M69.5 182.8C70.3 183.5 71.7 186.1 71.7 189.4L71.8 203.9C71.8 207.9 70.8 209.2 69.5 209.2C68.2 209.2 67.2 207.9 67.2 203.9L67.3 189.4C67.3 186.1 68.7 183.5 69.5 182.8Z" fill="#9060e0" filter="url(#sp2)"/><ellipse cx="120" cy="212" rx="2" ry="4" fill="#c0a8e0" filter="url(#tr)"/><path d="M120 181.8C120.9 182.5 122.6 185.2 122.6 188.6L122.8 203.6C122.8 207.7 121.6 209 120 209C118.4 209 117.2 207.7 117.2 203.6L117.4 188.6C117.4 185.2 119.1 182.5 120 181.8Z" fill="#c0a8e0" filter="url(#sp2)"/><ellipse cx="126.5" cy="212.3" rx="1.7" ry="3.7" fill="#70c870" filter="url(#tr)"/><path d="M126.5 184.8C127.3 185.4 128.7 187.9 128.7 191L128.8 204.6C128.8 208.3 127.8 209.6 126.5 209.6C125.2 209.6 124.2 208.3 124.2 204.6L124.3 191C124.3 187.9 125.7 185.4 126.5 184.8Z" fill="#70c870" filter="url(#sp2)"/><ellipse cx="64.2" cy="214.5" rx="1.5" ry="4.5" fill="#3080d0" filter="url(#tr)"/><path d="M64.2 178.8C64.9 179.4 66.2 181.9 66.2 184.9L66.3 204.5C66.3 209.3 65.4 210.9 64.2 210.9C63 210.9 62.1 209.3 62.1 204.5L62.2 184.9C62.2 181.9 63.5 179.4 64.2 178.8Z" fill="#3080d0" filter="url(#sp2)"/><ellipse cx="87.2" cy="215.9" rx="1.8" ry="3.1" fill="#40a0e0" filter="url(#tr)"/><path d="M87.2 194.8C88 195.3 89.6 197.2 89.6 199.6L89.7 210C89.7 212.9 88.6 213.8 87.2 213.8C85.8 213.8 84.7 212.9 84.7 210L84.8 199.6C84.8 197.2 86.4 195.3 87.2 194.8Z" fill="#40a0e0" filter="url(#sp2)"/><ellipse cx="107.2" cy="217.4" rx="1.5" ry="3.6" fill="#d0b030" filter="url(#tr)"/><path d="M107.2 190.8C107.9 191.4 109.2 193.7 109.2 196.7L109.3 210C109.3 213.5 108.4 214.7 107.2 214.7C106 214.7 105.1 213.5 105.1 210L105.2 196.7C105.2 193.7 106.5 191.4 107.2 190.8Z" fill="#d0b030" filter="url(#sp2)"/><ellipse cx="41.3" cy="223.2" rx="1.5" ry="2.8" fill="#e88a20" filter="url(#tr)"/><path d="M41.3 205.3C42 205.7 43.3 207.3 43.3 209.3L43.4 218.2C43.4 220.6 42.5 221.5 41.3 221.5C40.1 221.5 39.2 220.6 39.2 218.2L39.3 209.3C39.3 207.3 40.6 205.7 41.3 205.3Z" fill="#e88a20" filter="url(#sp2)"/><ellipse cx="44" cy="230.2" rx="1.5" ry="2.8" fill="#2060e0" filter="url(#tr)"/><path d="M44 211.8C44.7 212.2 46 213.9 46 215.9L46.1 225.1C46.1 227.5 45.2 228.4 44 228.4C42.8 228.4 41.9 227.5 41.9 225.1L42 215.9C42 213.9 43.3 212.2 44 211.8Z" fill="#2060e0" filter="url(#sp2)"/><ellipse cx="100.5" cy="228.6" rx="1.9" ry="4.4" fill="#6a2090" filter="url(#tr)"/><path d="M100.5 193.8C101.4 194.6 103 197.6 103 201.5L103.2 218.9C103.2 223.6 102 225.1 100.5 225.1C99 225.1 97.8 223.6 97.8 218.9L98 201.5C98 197.6 99.6 194.6 100.5 193.8Z" fill="#6a2090" filter="url(#sp2)"/><ellipse cx="93.8" cy="232.1" rx="1.8" ry="3.9" fill="#40a040" filter="url(#tr)"/><path d="M93.8 202.8C94.6 203.5 96.2 206.1 96.2 209.4L96.3 223.9C96.3 227.9 95.2 229.2 93.8 229.2C92.4 229.2 91.3 227.9 91.3 223.9L91.4 209.4C91.4 206.1 93 203.5 93.8 202.8Z" fill="#40a040" filter="url(#sp2)"/><ellipse cx="110.2" cy="230.8" rx="1.5" ry="5.2" fill="#8aa050" filter="url(#tr)"/><path d="M110.2 187.8C110.9 188.4 112.2 190.7 112.2 193.7L112.3 218.8C112.3 224.6 111.4 226.5 110.2 226.5C109 226.5 108.1 224.6 108.1 218.8L108.2 193.7C108.2 190.7 109.5 188.4 110.2 187.8Z" fill="#8aa050" filter="url(#sp2)"/><ellipse cx="134.8" cy="230.2" rx="4.5" ry="5.8" fill="#60c0d8" filter="url(#tr)"/><path d="M134.8 181.8C136.9 182.9 140.8 187.3 140.8 192.7L141 216.7C141 223.2 138.4 225.4 134.8 225.4C131.2 225.4 128.6 223.2 128.6 216.7L128.9 192.7C128.9 187.3 132.7 182.9 134.8 181.8Z" fill="#60c0d8" filter="url(#sp2)"/><ellipse cx="52.7" cy="235.8" rx="1" ry="2.2" fill="#40e060" filter="url(#tr)"/><path d="M52.7 223.8C53.2 224.1 54.1 225.2 54.1 226.5L54.1 232.5C54.1 234.1 53.5 234.6 52.7 234.6C51.9 234.6 51.3 234.1 51.3 232.5L51.3 226.5C51.3 225.2 52.2 224.1 52.7 223.8Z" fill="#40e060" filter="url(#sp2)"/><ellipse cx="48" cy="234.1" rx="2.1" ry="4.9" fill="#70b030" filter="url(#tr)"/><path d="M48 194.8C49 195.6 50.8 199 50.8 203.2L50.9 223.1C50.9 228.5 49.7 230.2 48 230.2C46.3 230.2 45.1 228.5 45.1 223.1L45.2 203.2C45.2 199 47 195.6 48 194.8Z" fill="#70b030" filter="url(#sp2)"/><ellipse cx="140.5" cy="234.4" rx="1.7" ry="4.6" fill="#80d0e0" filter="url(#tr)"/><path d="M140.5 197.8C141.3 198.5 142.7 201.1 142.7 204.4L142.8 224.2C142.8 229.1 141.8 230.8 140.5 230.8C139.2 230.8 138.2 229.1 138.2 224.2L138.3 204.4C138.3 201.1 139.7 198.5 140.5 197.8Z" fill="#80d0e0" filter="url(#sp2)"/><ellipse cx="159.5" cy="234.8" rx="2" ry="4.2" fill="#e080d0" filter="url(#tr)"/><path d="M159.5 202.6C160.4 203.3 162.1 206.2 162.1 209.9L162.3 225.8C162.3 230.2 161.1 231.6 159.5 231.6C157.9 231.6 156.7 230.2 156.7 225.8L156.9 209.9C156.9 206.2 158.6 203.3 159.5 202.6Z" fill="#e080d0" filter="url(#sp2)"/><ellipse cx="151" cy="236.2" rx="1.9" ry="2.8" fill="#f0c0e0" filter="url(#tr)"/><path d="M151 217.8C151.9 218.2 153.6 219.9 153.6 221.9L153.7 231.1C153.7 233.5 152.5 234.4 151 234.4C149.5 234.4 148.3 233.5 148.3 231.1L148.4 221.9C148.4 219.9 150.1 218.2 151 217.8Z" fill="#f0c0e0" filter="url(#sp2)"/><ellipse cx="56.5" cy="234.3" rx="3.1" ry="5.7" fill="#b040c0" filter="url(#tr)"/><path d="M56.5 186.8C57.9 187.9 60.6 192.2 60.6 197.5L60.8 221C60.8 227.5 58.9 229.6 56.5 229.6C54.1 229.6 52.2 227.5 52.2 221L52.4 197.5C52.4 192.2 55.1 187.9 56.5 186.8Z" fill="#b040c0" filter="url(#sp2)"/><ellipse cx="96" cy="235.8" rx="1.6" ry="5.2" fill="#a040c0" filter="url(#tr)"/><path d="M96 192.8C96.7 193.4 98.1 196 98.1 199.2L98.2 223.8C98.2 229.6 97.3 231.5 96 231.5C94.7 231.5 93.8 229.6 93.8 223.8L93.9 199.2C93.9 196 95.3 193.4 96 192.8Z" fill="#a040c0" filter="url(#sp2)"/><ellipse cx="153" cy="236.1" rx="3.3" ry="5.6" fill="#30c080" filter="url(#tr)"/><path d="M153 189.2C154.5 190.3 157.4 194.5 157.4 199.8L157.6 223C157.6 229.3 155.7 231.4 153 231.4C150.3 231.4 148.4 229.3 148.4 223L148.6 199.8C148.6 194.5 151.5 190.3 153 189.2Z" fill="#30c080" filter="url(#sp2)"/><ellipse cx="66.5" cy="237.3" rx="2.1" ry="5.7" fill="#70c0a0" filter="url(#tr)"/><path d="M66.5 189.4C67.5 190.2 69.3 193.6 69.3 197.8L69.4 223.9C69.4 230.4 68.2 232.5 66.5 232.5C64.8 232.5 63.6 230.4 63.6 223.9L63.7 197.8C63.7 193.6 65.5 190.2 66.5 189.4Z" fill="#70c0a0" filter="url(#sp2)"/><ellipse cx="81" cy="238.4" rx="3" ry="5.6" fill="#8040c0" filter="url(#tr)"/><path d="M81 192.1C82.4 193.1 85 197.3 85 202.5L85.2 225.5C85.2 231.8 83.4 233.8 81 233.8C78.6 233.8 76.8 231.8 76.8 225.5L77 202.5C77 197.3 79.6 193.1 81 192.1Z" fill="#8040c0" filter="url(#sp2)"/><ellipse cx="104" cy="239.4" rx="1.9" ry="4.6" fill="#b0a080" filter="url(#tr)"/><path d="M104 202.8C104.9 203.6 106.5 206.6 106.5 210.5L106.7 229.2C106.7 234.1 105.5 235.8 104 235.8C102.5 235.8 101.3 234.1 101.3 229.2L101.5 210.5C101.5 206.6 103.1 203.6 104 202.8Z" fill="#b0a080" filter="url(#sp2)"/><ellipse cx="71.7" cy="241.4" rx="3.1" ry="5.3" fill="#a05070" filter="url(#tr)"/><path d="M71.7 197.4C73.1 198.4 75.8 202.4 75.8 207.3L76 229.1C76 235 74.1 237 71.7 237C69.3 237 67.4 235 67.4 229.1L67.6 207.3C67.6 202.4 70.3 198.4 71.7 197.4Z" fill="#a05070" filter="url(#sp2)"/><ellipse cx="98.5" cy="239.8" rx="1.5" ry="6.9" fill="#c030a0" filter="url(#tr)"/><path d="M98.5 180.2C99.2 180.8 100.5 183.3 100.5 186.3L100.6 223.2C100.6 231.2 99.7 233.9 98.5 233.9C97.3 233.9 96.4 231.2 96.4 223.2L96.5 186.3C96.5 183.3 97.8 180.8 98.5 180.2Z" fill="#c030a0" filter="url(#sp2)"/><ellipse cx="127.2" cy="241" rx="2.1" ry="5.7" fill="#40c0c0" filter="url(#tr)"/><path d="M127.2 193.8C128.2 194.6 130 198 130 202.2L130.1 227.8C130.1 234.2 128.9 236.4 127.2 236.4C125.5 236.4 124.3 234.2 124.3 227.8L124.4 202.2C124.4 198 126.2 194.6 127.2 193.8Z" fill="#40c0c0" filter="url(#sp2)"/><ellipse cx="114" cy="242.4" rx="2" ry="6.6" fill="#305060" filter="url(#tr)"/><path d="M114 186.2C114.9 187 116.6 190.2 116.6 194.1L116.8 226.7C116.8 234.3 115.6 236.9 114 236.9C112.4 236.9 111.2 234.3 111.2 226.7L111.4 194.1C111.4 190.2 113.1 187 114 186.2Z" fill="#305060" filter="url(#sp2)"/><ellipse cx="134.5" cy="246.2" rx="2.2" ry="5.8" fill="#1010c0" filter="url(#tr)"/><path d="M134.5 198.2C135.5 199.1 137.4 202.5 137.4 206.9L137.5 232.8C137.5 239.3 136.2 241.5 134.5 241.5C132.8 241.5 131.5 239.3 131.5 232.8L131.6 206.9C131.6 202.5 133.5 199.1 134.5 198.2Z" fill="#1010c0" filter="url(#sp2)"/><ellipse cx="87" cy="249.5" rx="3.6" ry="4.8" fill="#f080c0" filter="url(#tr)"/><path d="M87 210.8C88.7 211.7 91.8 215.2 91.8 219.5L92 238.7C92 243.9 89.9 245.7 87 245.7C84.1 245.7 82 243.9 82 238.7L82.2 219.5C82.2 215.2 85.3 211.7 87 210.8Z" fill="#f080c0" filter="url(#sp2)"/></g>
<path d="M18.6 179L18.6 239L89.6 268.2L170 241.5M17 239L18.6 239M17 229L18.6 229M17 219L18.6 219M17 209L18.6 209M17 199L18.6 199M17 189L18.6 189M17 179L18.6 179M23.6 241l-1.4 0.5M54.5 253.7l-1.4 0.5M85.3 266.4l-1.4 0.5M89.6 268.2l1.4 0.6M114.5 259.9l1.4 0.6M140.3 251.4l1.4 0.6M165.2 243.1l1.4 0.6" stroke="#8a8a8a" stroke-width="0.55" fill="none"/>
<g class="t"><text x="14.7" y="246.5">4.17235</text><text x="47" y="259.5">4.1723</text><text x="76.6" y="272">4.17225</text><text x="8.6" y="258.3">×10<tspan font-size="3" dy="-1.6">6</tspan></text><text class="an" x="43" y="272">Y(m)</text><text x="99.3" y="273">2.7205</text><text x="123" y="264.2">2.721</text><text x="151" y="256.7">2.7215</text><text x="175.5" y="249.8">2.722</text><text x="176" y="261.4">×10<tspan font-size="3" dy="-1.6">5</tspan></text><text class="an" x="141.7" y="273">X(m)</text></g>
<g class="t z"><text x="16.5" y="238.5">0</text><text x="16.5" y="228.4">10</text><text x="16.5" y="218.4">20</text><text x="16.5" y="208.3">30</text><text x="16.5" y="198.3">40</text><text x="16.5" y="188.2">50</text><text x="16.5" y="178.2">60</text></g>
<g transform="rotate(-90 7.4 210.5)"><text class="t zn" x="7.4" y="210.5">Z(m)</text></g>
<text class="cap" x="90.8" y="290">(d)</text>
<path d="M200.8 239L277 214M277 214L345.5 243M200.8 227.1L277 202.1M277 202.1L345.5 231.1M200.8 215.2L277 190.2M277 190.2L345.5 219.2M200.8 203.2L277 178.2M277 178.2L345.5 207.2M200.8 191.3L277 166.3M277 166.3L345.5 195.3M200.8 179.4L277 154.4M277 154.4L345.5 183.4M279.1 214.9L279.1 155.3M202.9 239.9L279.1 214.9M292.1 220.4L292.1 160.8M215.9 245.4L292.1 220.4M305.1 225.9L305.1 166.3M228.9 250.9L305.1 225.9M318.4 231.5L318.4 171.9M242.2 256.5L318.4 231.5M331.8 237.2L331.8 177.6M255.6 262.2L331.8 237.2M344.8 242.7L344.8 183.1M268.6 267.7L344.8 242.7M200.8 239L200.8 179.4M200.8 239L269.3 268M216 234L216 174.4M216 234L284.5 263M231.3 229L231.3 169.4M231.3 229L299.8 258M246.5 224L246.5 164.4M246.5 224L315 253M261.8 219L261.8 159.4M261.8 219L330.3 248M277 214L277 154.4M277 214L345.5 243" stroke="#e4e4e4" stroke-width="0.5" fill="none"/>
<path d="M200.8 179.4L277 154.4L345.5 183.4L345.5 243M277 214L277 154.4" stroke="#dcdcdc" stroke-width="0.5" fill="none"/>
<g><ellipse cx="262" cy="243" rx="25" ry="6" fill="#80a040" filter="url(#sc)"/><ellipse cx="302" cy="238" rx="15" ry="6" fill="#6080e0" filter="url(#sc)"/><ellipse cx="245" cy="240" rx="8" ry="4" fill="#d02090" filter="url(#sc)"/><ellipse cx="230" cy="236" rx="5" ry="4" fill="#30a080" filter="url(#sc)"/><ellipse cx="270.4" cy="220.2" rx="3" ry="6.2" fill="#c040c0" filter="url(#tr)"/><path d="M270.4 190.7C272.2 188.9 273.6 201.6 274.4 208.7C274.6 213.1 272.8 215 270.4 215C268 215 266.1 213.1 266.3 208.7C267.2 201.6 268.6 188.9 270.4 190.7Z" fill="#c040c0" filter="url(#sp2)"/><ellipse cx="256.9" cy="220.1" rx="2.7" ry="6.5" fill="#e0e0a0" filter="url(#tr)"/><path d="M256.9 189.2C258.6 187.3 259.8 200.6 260.6 208C260.7 212.6 259.1 214.6 256.9 214.6C254.7 214.6 253.1 212.6 253.3 208C254 200.6 255.3 187.3 256.9 189.2Z" fill="#e0e0a0" filter="url(#sp2)"/><ellipse cx="275.6" cy="221.8" rx="3" ry="5.1" fill="#f58231" filter="url(#tr)"/><path d="M275.6 198.5C277.4 197 278.8 207.1 279.5 212.7C279.7 216.1 278 217.7 275.6 217.7C273.2 217.7 271.5 216.1 271.7 212.7C272.4 207.1 273.8 197 275.6 198.5Z" fill="#f58231" filter="url(#sp2)"/><ellipse cx="253" cy="220.1" rx="3.1" ry="7" fill="#3cb44b" filter="url(#tr)"/><path d="M253 186.1C254.8 184 256.2 198.7 257.1 206.8C257.3 211.9 255.4 214.1 253 214.1C250.5 214.1 248.7 211.9 248.9 206.8C249.7 198.7 251.1 184 253 186.1Z" fill="#3cb44b" filter="url(#sp2)"/><ellipse cx="270.9" cy="221.3" rx="3" ry="6.8" fill="#a8e020" filter="url(#tr)"/><path d="M270.9 188.7C272.8 186.7 274.2 200.8 275 208.6C275.2 213.4 273.4 215.6 270.9 215.6C268.5 215.6 266.7 213.4 266.9 208.6C267.7 200.8 269.1 186.7 270.9 188.7Z" fill="#a8e020" filter="url(#sp2)"/><ellipse cx="262.7" cy="220.9" rx="2.9" ry="7.4" fill="#f0c8a0" filter="url(#tr)"/><path d="M262.7 184.6C264.4 182.4 265.8 198.1 266.5 206.8C266.7 212.1 265 214.5 262.7 214.5C260.4 214.5 258.7 212.1 258.9 206.8C259.6 198.1 261 182.4 262.7 184.6Z" fill="#f0c8a0" filter="url(#sp2)"/><ellipse cx="290.7" cy="223.3" rx="2.7" ry="5.7" fill="#9a6324" filter="url(#tr)"/><path d="M290.7 196.5C292.3 194.8 293.5 206.4 294.2 212.8C294.4 216.8 292.8 218.5 290.7 218.5C288.5 218.5 286.9 216.8 287.1 212.8C287.8 206.4 289.1 194.8 290.7 196.5Z" fill="#9a6324" filter="url(#sp2)"/><ellipse cx="259.6" cy="222.8" rx="2.5" ry="6.6" fill="#c8a0f0" filter="url(#tr)"/><path d="M259.6 191.2C261.2 189.3 262.3 202.9 263 210.4C263.2 215.1 261.7 217.2 259.6 217.2C257.6 217.2 256.1 215.1 256.3 210.4C256.9 202.9 258.1 189.3 259.6 191.2Z" fill="#c8a0f0" filter="url(#sp2)"/><ellipse cx="249.8" cy="222.9" rx="2.8" ry="6.5" fill="#e8d820" filter="url(#tr)"/><path d="M249.8 191.9C251.5 190 252.9 203.4 253.6 210.8C253.8 215.4 252.1 217.4 249.8 217.4C247.6 217.4 245.9 215.4 246.1 210.8C246.8 203.4 248.1 190 249.8 191.9Z" fill="#e8d820" filter="url(#sp2)"/><ellipse cx="265.8" cy="223.2" rx="3.1" ry="6.6" fill="#e0a030" filter="url(#tr)"/><path d="M265.8 191.6C267.6 189.6 269.1 203.3 269.9 210.9C270.1 215.5 268.2 217.6 265.8 217.6C263.3 217.6 261.5 215.5 261.7 210.9C262.5 203.3 263.9 189.6 265.8 191.6Z" fill="#e0a030" filter="url(#sp2)"/><ellipse cx="276.5" cy="223.9" rx="2.6" ry="6" fill="#f58231" filter="url(#tr)"/><path d="M276.5 195.5C278 193.8 279.2 206 279.9 212.8C280.1 217 278.5 218.9 276.5 218.9C274.5 218.9 272.9 217 273.1 212.8C273.8 206 275 193.8 276.5 195.5Z" fill="#f58231" filter="url(#sp2)"/><ellipse cx="282.5" cy="224.7" rx="2.5" ry="5.4" fill="#5080d0" filter="url(#tr)"/><path d="M282.5 199.8C284 198.3 285.1 209 285.8 215C286 218.7 284.5 220.3 282.5 220.3C280.5 220.3 279.1 218.7 279.2 215C279.9 209 281 198.3 282.5 199.8Z" fill="#5080d0" filter="url(#sp2)"/><ellipse cx="288" cy="225.2" rx="2.7" ry="5.1" fill="#46d0e0" filter="url(#tr)"/><path d="M288 202.1C289.6 200.7 290.9 210.7 291.6 216.2C291.8 219.6 290.2 221.1 288 221.1C285.8 221.1 284.2 219.6 284.4 216.2C285.1 210.7 286.4 200.7 288 202.1Z" fill="#46d0e0" filter="url(#sp2)"/><ellipse cx="295.7" cy="224.7" rx="3" ry="6.1" fill="#9a6324" filter="url(#tr)"/><path d="M295.7 195.9C297.5 194.1 299 206.6 299.8 213.4C300 217.7 298.2 219.6 295.7 219.6C293.3 219.6 291.5 217.7 291.7 213.4C292.5 206.6 293.9 194.1 295.7 195.9Z" fill="#9a6324" filter="url(#sp2)"/><ellipse cx="261.8" cy="223.8" rx="2.5" ry="7" fill="#3cb44b" filter="url(#tr)"/><path d="M261.8 189.9C263.3 187.8 264.5 202.5 265.1 210.6C265.3 215.6 263.8 217.8 261.8 217.8C259.8 217.8 258.3 215.6 258.5 210.6C259.1 202.5 260.3 187.8 261.8 189.9Z" fill="#3cb44b" filter="url(#sp2)"/><ellipse cx="250.1" cy="224" rx="3.1" ry="6.9" fill="#60c040" filter="url(#tr)"/><path d="M250.1 190.7C251.9 188.7 253.3 203.1 254.1 211C254.3 216 252.5 218.2 250.1 218.2C247.6 218.2 245.8 216 246 211C246.8 203.1 248.2 188.7 250.1 190.7Z" fill="#60c040" filter="url(#sp2)"/><ellipse cx="273.1" cy="225.5" rx="2.6" ry="6.3" fill="#e07050" filter="url(#tr)"/><path d="M273.1 195.2C274.7 193.4 275.9 206.4 276.6 213.7C276.8 218.2 275.2 220.2 273.1 220.2C271 220.2 269.4 218.2 269.6 213.7C270.3 206.4 271.5 193.4 273.1 195.2Z" fill="#e07050" filter="url(#sp2)"/><ellipse cx="247.8" cy="225.2" rx="2.6" ry="7.5" fill="#f032e6" filter="url(#tr)"/><path d="M247.8 188.1C249.4 185.8 250.7 201.9 251.4 210.7C251.5 216.2 250 218.7 247.8 218.7C245.7 218.7 244.2 216.2 244.3 210.7C245 201.9 246.3 185.8 247.8 188.1Z" fill="#f032e6" filter="url(#sp2)"/><ellipse cx="284.3" cy="226.8" rx="2.5" ry="6.1" fill="#e07050" filter="url(#tr)"/><path d="M284.3 197.9C285.9 196.1 287 208.6 287.7 215.6C287.9 219.8 286.4 221.7 284.3 221.7C282.3 221.7 280.8 219.8 281 215.6C281.6 208.6 282.8 196.1 284.3 197.9Z" fill="#e07050" filter="url(#sp2)"/><ellipse cx="257.4" cy="225.3" rx="2.6" ry="7.6" fill="#b0b0e0" filter="url(#tr)"/><path d="M257.4 187.8C259 185.5 260.2 201.7 260.9 210.7C261.1 216.2 259.5 218.7 257.4 218.7C255.3 218.7 253.7 216.2 253.9 210.7C254.6 201.7 255.8 185.5 257.4 187.8Z" fill="#b0b0e0" filter="url(#sp2)"/><ellipse cx="291.3" cy="227.3" rx="2.6" ry="5.7" fill="#d0d060" filter="url(#tr)"/><path d="M291.3 200.7C292.8 199.1 294 210.6 294.7 216.9C294.9 220.8 293.3 222.6 291.3 222.6C289.2 222.6 287.7 220.8 287.8 216.9C288.5 210.6 289.7 199.1 291.3 200.7Z" fill="#d0d060" filter="url(#sp2)"/><ellipse cx="245" cy="226.7" rx="2.8" ry="7.3" fill="#e0e0a0" filter="url(#tr)"/><path d="M245 190.9C246.6 188.7 247.9 204.2 248.6 212.7C248.8 218 247.2 220.4 245 220.4C242.8 220.4 241.1 218 241.3 212.7C242 204.2 243.3 188.7 245 190.9Z" fill="#e0e0a0" filter="url(#sp2)"/><ellipse cx="268.4" cy="226.6" rx="2.8" ry="7.5" fill="#4363d8" filter="url(#tr)"/><path d="M268.4 189.5C270.1 187.2 271.4 203.3 272.1 212.1C272.3 217.6 270.7 220.1 268.4 220.1C266.2 220.1 264.5 217.6 264.7 212.1C265.4 203.3 266.7 187.2 268.4 189.5Z" fill="#4363d8" filter="url(#sp2)"/><ellipse cx="280.7" cy="228.5" rx="2.6" ry="5.8" fill="#6040c0" filter="url(#tr)"/><path d="M280.7 201.1C282.3 199.4 283.5 211.2 284.2 217.8C284.4 221.9 282.8 223.7 280.7 223.7C278.6 223.7 277 221.9 277.2 217.8C277.9 211.2 279.1 199.4 280.7 201.1Z" fill="#6040c0" filter="url(#sp2)"/><ellipse cx="249.8" cy="226.8" rx="3" ry="7.6" fill="#d04040" filter="url(#tr)"/><path d="M249.8 189.5C251.6 187.1 253 203.3 253.8 212.2C254 217.8 252.2 220.2 249.8 220.2C247.5 220.2 245.7 217.8 245.9 212.2C246.7 203.3 248 187.1 249.8 189.5Z" fill="#d04040" filter="url(#sp2)"/><ellipse cx="295.2" cy="228.6" rx="3" ry="6.1" fill="#5080d0" filter="url(#tr)"/><path d="M295.2 199.4C297 197.6 298.4 210.2 299.2 217.2C299.4 221.5 297.6 223.4 295.2 223.4C292.8 223.4 290.9 221.5 291.1 217.2C292 210.2 293.4 197.6 295.2 199.4Z" fill="#5080d0" filter="url(#sp2)"/><ellipse cx="285.6" cy="229.1" rx="3" ry="5.9" fill="#e07050" filter="url(#tr)"/><path d="M285.6 201.6C287.4 199.9 288.8 211.8 289.6 218.4C289.8 222.4 288 224.3 285.6 224.3C283.2 224.3 281.4 222.4 281.6 218.4C282.4 211.8 283.8 199.9 285.6 201.6Z" fill="#e07050" filter="url(#sp2)"/><ellipse cx="273" cy="228" rx="2.8" ry="7" fill="#e07050" filter="url(#tr)"/><path d="M273 194.1C274.7 192 276 206.7 276.8 214.8C276.9 219.8 275.2 222 273 222C270.7 222 269 219.8 269.2 214.8C269.9 206.7 271.3 192 273 194.1Z" fill="#e07050" filter="url(#sp2)"/><ellipse cx="260.4" cy="227.3" rx="3.1" ry="8" fill="#70b0d0" filter="url(#tr)"/><path d="M260.4 187.6C262.2 185.1 263.7 202.3 264.5 211.8C264.7 217.7 262.9 220.3 260.4 220.3C257.9 220.3 256 217.7 256.2 211.8C257.1 202.3 258.5 185.1 260.4 187.6Z" fill="#70b0d0" filter="url(#sp2)"/><ellipse cx="244.7" cy="228.3" rx="3" ry="7.8" fill="#40e0c0" filter="url(#tr)"/><path d="M244.7 189.9C246.6 187.5 248 204.2 248.8 213.3C249 219 247.2 221.6 244.7 221.6C242.3 221.6 240.5 219 240.7 213.3C241.5 204.2 242.9 187.5 244.7 189.9Z" fill="#40e0c0" filter="url(#sp2)"/><ellipse cx="289.8" cy="230.1" rx="2.8" ry="6.9" fill="#c8a0f0" filter="url(#tr)"/><path d="M289.8 196.8C291.5 194.7 292.8 209.1 293.5 217.1C293.7 222 292 224.2 289.8 224.2C287.6 224.2 285.9 222 286.1 217.1C286.8 209.1 288.1 194.7 289.8 196.8Z" fill="#c8a0f0" filter="url(#sp2)"/><ellipse cx="300.2" cy="230.1" rx="2.9" ry="7.1" fill="#c040c0" filter="url(#tr)"/><path d="M300.2 195.5C301.9 193.4 303.2 208.3 304 216.6C304.2 221.7 302.4 224 300.2 224C297.9 224 296.2 221.7 296.3 216.6C297.1 208.3 298.4 193.4 300.2 195.5Z" fill="#c040c0" filter="url(#sp2)"/><ellipse cx="282.8" cy="231.4" rx="2.5" ry="6.1" fill="#d04040" filter="url(#tr)"/><path d="M282.8 202.5C284.3 200.7 285.5 213.2 286.2 220.1C286.3 224.4 284.8 226.3 282.8 226.3C280.7 226.3 279.2 224.4 279.4 220.1C280.1 213.2 281.3 200.7 282.8 202.5Z" fill="#d04040" filter="url(#sp2)"/><ellipse cx="288" cy="230.5" rx="2.6" ry="7.1" fill="#808000" filter="url(#tr)"/><path d="M288 195.9C289.6 193.8 290.8 208.7 291.5 217C291.7 222.1 290.1 224.4 288 224.4C285.9 224.4 284.3 222.1 284.4 217C285.2 208.7 286.4 193.8 288 195.9Z" fill="#808000" filter="url(#sp2)"/><ellipse cx="269" cy="229.6" rx="2.9" ry="8.1" fill="#808080" filter="url(#tr)"/><path d="M269 189.4C270.7 186.9 272 204.3 272.8 213.9C273 219.9 271.3 222.5 269 222.5C266.7 222.5 264.9 219.9 265.1 213.9C265.9 204.3 267.2 186.9 269 189.4Z" fill="#808080" filter="url(#sp2)"/><ellipse cx="257.9" cy="229" rx="2.8" ry="8.7" fill="#e8d820" filter="url(#tr)"/><path d="M257.9 185.3C259.6 182.6 260.9 201.5 261.7 211.9C261.9 218.4 260.2 221.3 257.9 221.3C255.6 221.3 253.9 218.4 254.1 211.9C254.9 201.5 256.2 182.6 257.9 185.3Z" fill="#e8d820" filter="url(#sp2)"/><ellipse cx="277.4" cy="231.1" rx="2.7" ry="7.2" fill="#e6194b" filter="url(#tr)"/><path d="M277.4 196.2C279.1 194.1 280.4 209.1 281.1 217.5C281.3 222.6 279.6 224.9 277.4 224.9C275.3 224.9 273.6 222.6 273.8 217.5C274.5 209.1 275.8 194.1 277.4 196.2Z" fill="#e6194b" filter="url(#sp2)"/><ellipse cx="272" cy="230.3" rx="2.9" ry="8.2" fill="#3cb44b" filter="url(#tr)"/><path d="M272 189.3C273.8 186.8 275.1 204.5 275.9 214.3C276.1 220.4 274.3 223.1 272 223.1C269.7 223.1 268 220.4 268.2 214.3C268.9 204.5 270.3 186.8 272 189.3Z" fill="#3cb44b" filter="url(#sp2)"/><ellipse cx="296.6" cy="231.7" rx="3.1" ry="6.9" fill="#c02080" filter="url(#tr)"/><path d="M296.6 198C298.4 195.9 299.9 210.5 300.7 218.5C300.9 223.5 299 225.7 296.6 225.7C294.1 225.7 292.2 223.5 292.4 218.5C293.3 210.5 294.7 195.9 296.6 198Z" fill="#c02080" filter="url(#sp2)"/><ellipse cx="259.9" cy="231.8" rx="2.8" ry="6.9" fill="#80e0a0" filter="url(#tr)"/><path d="M259.9 198.1C261.6 196 262.9 210.6 263.6 218.6C263.8 223.6 262.1 225.8 259.9 225.8C257.6 225.8 255.9 223.6 256.1 218.6C256.8 210.6 258.2 196 259.9 198.1Z" fill="#80e0a0" filter="url(#sp2)"/><ellipse cx="252" cy="232.3" rx="2.5" ry="7.2" fill="#c8a0f0" filter="url(#tr)"/><path d="M252 197C253.5 194.9 254.6 210.1 255.3 218.5C255.4 223.8 254 226.1 252 226.1C250 226.1 248.5 223.8 248.7 218.5C249.4 210.1 250.5 194.9 252 197Z" fill="#c8a0f0" filter="url(#sp2)"/><ellipse cx="280" cy="232.9" rx="2.8" ry="7.1" fill="#e0a030" filter="url(#tr)"/><path d="M280 198.2C281.7 196 283 211.1 283.7 219.4C283.9 224.5 282.2 226.8 280 226.8C277.8 226.8 276.1 224.5 276.3 219.4C277 211.1 278.3 196 280 198.2Z" fill="#e0a030" filter="url(#sp2)"/><ellipse cx="248.7" cy="234.4" rx="2.9" ry="6" fill="#4363d8" filter="url(#tr)"/><path d="M248.7 206.3C250.4 204.5 251.7 216.7 252.5 223.4C252.7 227.6 251 229.5 248.7 229.5C246.3 229.5 244.6 227.6 244.8 223.4C245.6 216.7 246.9 204.5 248.7 206.3Z" fill="#4363d8" filter="url(#sp2)"/><ellipse cx="307.9" cy="232.2" rx="3" ry="8.4" fill="#f58231" filter="url(#tr)"/><path d="M307.9 190.4C309.8 187.8 311.2 205.9 312 215.9C312.2 222.1 310.4 224.8 307.9 224.8C305.5 224.8 303.7 222.1 303.9 215.9C304.7 205.9 306.1 187.8 307.9 190.4Z" fill="#f58231" filter="url(#sp2)"/><ellipse cx="256.7" cy="233.9" rx="2.8" ry="7" fill="#911eb4" filter="url(#tr)"/><path d="M256.7 200C258.3 197.9 259.6 212.6 260.3 220.7C260.5 225.7 258.9 227.9 256.7 227.9C254.5 227.9 252.8 225.7 253 220.7C253.7 212.6 255 197.9 256.7 200Z" fill="#911eb4" filter="url(#sp2)"/><ellipse cx="295.7" cy="233.8" rx="2.9" ry="7.2" fill="#80e0a0" filter="url(#tr)"/><path d="M295.7 198.8C297.5 196.7 298.9 211.8 299.6 220.1C299.8 225.3 298.1 227.6 295.7 227.6C293.4 227.6 291.6 225.3 291.8 220.1C292.6 211.8 294 196.7 295.7 198.8Z" fill="#80e0a0" filter="url(#sp2)"/><ellipse cx="268.9" cy="233.6" rx="2.5" ry="7.7" fill="#80e0a0" filter="url(#tr)"/><path d="M268.9 195.6C270.4 193.3 271.5 209.7 272.2 218.8C272.3 224.4 270.9 226.9 268.9 226.9C266.9 226.9 265.4 224.4 265.6 218.8C266.2 209.7 267.4 193.3 268.9 195.6Z" fill="#80e0a0" filter="url(#sp2)"/><ellipse cx="274.5" cy="234.3" rx="2.9" ry="7.3" fill="#b060d0" filter="url(#tr)"/><path d="M274.5 198.5C276.2 196.3 277.6 211.8 278.4 220.3C278.6 225.6 276.8 228 274.5 228C272.2 228 270.5 225.6 270.7 220.3C271.4 211.8 272.8 196.3 274.5 198.5Z" fill="#b060d0" filter="url(#sp2)"/><ellipse cx="303" cy="235.1" rx="3" ry="6.6" fill="#f032e6" filter="url(#tr)"/><path d="M303 203.5C304.8 201.6 306.2 215.2 306.9 222.8C307.1 227.5 305.4 229.6 303 229.6C300.6 229.6 298.9 227.5 299.1 222.8C299.9 215.2 301.2 201.6 303 203.5Z" fill="#f032e6" filter="url(#sp2)"/><ellipse cx="250.4" cy="234.3" rx="2.7" ry="7.6" fill="#30d080" filter="url(#tr)"/><path d="M250.4 196.9C252 194.6 253.3 210.7 254 219.7C254.2 225.2 252.6 227.7 250.4 227.7C248.3 227.7 246.6 225.2 246.8 219.7C247.5 210.7 248.8 194.6 250.4 196.9Z" fill="#30d080" filter="url(#sp2)"/><ellipse cx="261.2" cy="235.4" rx="2.7" ry="7" fill="#20c060" filter="url(#tr)"/><path d="M261.2 201.2C262.8 199.1 264.1 213.9 264.8 222C265 227.1 263.4 229.4 261.2 229.4C259 229.4 257.4 227.1 257.6 222C258.3 213.9 259.6 199.1 261.2 201.2Z" fill="#20c060" filter="url(#sp2)"/><ellipse cx="297.7" cy="234.9" rx="2.9" ry="7.6" fill="#808080" filter="url(#tr)"/><path d="M297.7 197.3C299.4 195 300.8 211.3 301.5 220.2C301.7 225.8 300 228.3 297.7 228.3C295.4 228.3 293.6 225.8 293.8 220.2C294.6 211.3 295.9 195 297.7 197.3Z" fill="#808080" filter="url(#sp2)"/><ellipse cx="287.5" cy="234.8" rx="3" ry="7.8" fill="#a8e020" filter="url(#tr)"/><path d="M287.5 196C289.3 193.6 290.7 210.3 291.5 219.6C291.7 225.4 289.9 227.9 287.5 227.9C285.1 227.9 283.3 225.4 283.5 219.6C284.3 210.3 285.7 193.6 287.5 196Z" fill="#a8e020" filter="url(#sp2)"/><ellipse cx="270.3" cy="235" rx="2.7" ry="8.3" fill="#60c040" filter="url(#tr)"/><path d="M270.3 193.6C271.9 191 273.1 208.9 273.8 218.8C274 225 272.4 227.7 270.3 227.7C268.1 227.7 266.5 225 266.7 218.8C267.4 208.9 268.7 191 270.3 193.6Z" fill="#60c040" filter="url(#sp2)"/><ellipse cx="307.7" cy="237" rx="3" ry="6.5" fill="#d0d060" filter="url(#tr)"/><path d="M307.7 205.7C309.5 203.8 310.9 217.3 311.7 224.8C311.9 229.4 310.1 231.5 307.7 231.5C305.3 231.5 303.5 229.4 303.7 224.8C304.5 217.3 305.9 203.8 307.7 205.7Z" fill="#d0d060" filter="url(#sp2)"/><ellipse cx="284.5" cy="236.2" rx="2.7" ry="7.8" fill="#911eb4" filter="url(#tr)"/><path d="M284.5 197.6C286.1 195.2 287.4 211.9 288.1 221.1C288.3 226.9 286.7 229.4 284.5 229.4C282.4 229.4 280.8 226.9 281 221.1C281.7 211.9 282.9 195.2 284.5 197.6Z" fill="#911eb4" filter="url(#sp2)"/><ellipse cx="267.6" cy="238.6" rx="3" ry="5.9" fill="#f58231" filter="url(#tr)"/><path d="M267.6 211.1C269.4 209.4 270.8 221.3 271.5 227.9C271.7 232 270 233.8 267.6 233.8C265.2 233.8 263.4 232 263.6 227.9C264.4 221.3 265.8 209.4 267.6 211.1Z" fill="#f58231" filter="url(#sp2)"/><ellipse cx="301.1" cy="237.4" rx="2.9" ry="7.2" fill="#70b0d0" filter="url(#tr)"/><path d="M301.1 202.5C302.8 200.3 304.1 215.4 304.9 223.7C305.1 228.9 303.4 231.2 301.1 231.2C298.8 231.2 297.1 228.9 297.3 223.7C298 215.4 299.4 200.3 301.1 202.5Z" fill="#70b0d0" filter="url(#sp2)"/><ellipse cx="259.3" cy="238.5" rx="2.9" ry="6.5" fill="#2080a0" filter="url(#tr)"/><path d="M259.3 207.1C261 205.1 262.4 218.7 263.2 226.2C263.4 230.9 261.6 232.9 259.3 232.9C257 232.9 255.3 230.9 255.5 226.2C256.2 218.7 257.6 205.1 259.3 207.1Z" fill="#2080a0" filter="url(#sp2)"/><ellipse cx="291.7" cy="237.2" rx="2.5" ry="8" fill="#e060a0" filter="url(#tr)"/><path d="M291.7 197.7C293.2 195.2 294.4 212.3 295.1 221.8C295.2 227.7 293.7 230.3 291.7 230.3C289.7 230.3 288.2 227.7 288.4 221.8C289 212.3 290.2 195.2 291.7 197.7Z" fill="#e060a0" filter="url(#sp2)"/><ellipse cx="277.5" cy="239.1" rx="2.8" ry="6.5" fill="#c02080" filter="url(#tr)"/><path d="M277.5 207.9C279.2 206 280.5 219.5 281.2 226.9C281.4 231.5 279.7 233.6 277.5 233.6C275.3 233.6 273.7 231.5 273.8 226.9C274.6 219.5 275.9 206 277.5 207.9Z" fill="#c02080" filter="url(#sp2)"/><ellipse cx="285.8" cy="237.9" rx="3" ry="8" fill="#40e0c0" filter="url(#tr)"/><path d="M285.8 198C287.6 195.6 289 212.8 289.8 222.3C290 228.2 288.2 230.8 285.8 230.8C283.4 230.8 281.6 228.2 281.8 222.3C282.6 212.8 284 195.6 285.8 198Z" fill="#40e0c0" filter="url(#sp2)"/><ellipse cx="263.9" cy="239.4" rx="2.6" ry="6.8" fill="#60c040" filter="url(#tr)"/><path d="M263.9 206.2C265.4 204.2 266.6 218.5 267.3 226.4C267.5 231.3 266 233.5 263.9 233.5C261.8 233.5 260.2 231.3 260.4 226.4C261.1 218.5 262.3 204.2 263.9 206.2Z" fill="#60c040" filter="url(#sp2)"/><ellipse cx="306.1" cy="237.9" rx="2.9" ry="8.5" fill="#40e0c0" filter="url(#tr)"/><path d="M306.1 195.4C307.9 192.8 309.3 211.1 310 221.3C310.2 227.6 308.5 230.4 306.1 230.4C303.8 230.4 302 227.6 302.2 221.3C303 211.1 304.3 192.8 306.1 195.4Z" fill="#40e0c0" filter="url(#sp2)"/><ellipse cx="298.1" cy="239.5" rx="2.4" ry="7.1" fill="#d04040" filter="url(#tr)"/><path d="M298.1 204.7C299.5 202.6 300.7 217.6 301.3 225.9C301.5 231 300 233.3 298.1 233.3C296.1 233.3 294.7 231 294.9 225.9C295.5 217.6 296.6 202.6 298.1 204.7Z" fill="#d04040" filter="url(#sp2)"/><ellipse cx="274.2" cy="239.2" rx="2.5" ry="7.8" fill="#b0b0e0" filter="url(#tr)"/><path d="M274.2 200.9C275.7 198.5 276.9 215.1 277.5 224.2C277.7 229.9 276.2 232.5 274.2 232.5C272.2 232.5 270.6 229.9 270.8 224.2C271.5 215.1 272.7 198.5 274.2 200.9Z" fill="#b0b0e0" filter="url(#sp2)"/><ellipse cx="292" cy="239.6" rx="2.7" ry="7.6" fill="#70b0d0" filter="url(#tr)"/><path d="M292 202.1C293.6 199.8 294.9 216 295.6 225C295.8 230.5 294.1 233 292 233C289.8 233 288.1 230.5 288.3 225C289.1 216 290.3 199.8 292 202.1Z" fill="#70b0d0" filter="url(#sp2)"/><ellipse cx="285.1" cy="240.9" rx="3" ry="6.7" fill="#d0d060" filter="url(#tr)"/><path d="M285.1 208.5C286.9 206.5 288.3 220.5 289.1 228.3C289.3 233.1 287.5 235.2 285.1 235.2C282.8 235.2 281 233.1 281.2 228.3C282 220.5 283.4 206.5 285.1 208.5Z" fill="#d0d060" filter="url(#sp2)"/><ellipse cx="256.8" cy="240.3" rx="2.8" ry="7.4" fill="#c040c0" filter="url(#tr)"/><path d="M256.8 203.9C258.5 201.7 259.8 217.4 260.5 226.1C260.7 231.5 259 233.9 256.8 233.9C254.6 233.9 252.9 231.5 253.1 226.1C253.8 217.4 255.1 201.7 256.8 203.9Z" fill="#c040c0" filter="url(#sp2)"/><ellipse cx="304.1" cy="239.8" rx="2.9" ry="8.2" fill="#e0a030" filter="url(#tr)"/><path d="M304.1 198.7C305.8 196.2 307.2 213.9 307.9 223.8C308.1 229.9 306.4 232.6 304.1 232.6C301.8 232.6 300 229.9 300.2 223.8C301 213.9 302.3 196.2 304.1 198.7Z" fill="#e0a030" filter="url(#sp2)"/><ellipse cx="287.1" cy="241.8" rx="2.5" ry="7.1" fill="#70b0d0" filter="url(#tr)"/><path d="M287.1 207.4C288.6 205.3 289.7 220.2 290.4 228.4C290.6 233.5 289.1 235.8 287.1 235.8C285.1 235.8 283.6 233.5 283.7 228.4C284.4 220.2 285.6 205.3 287.1 207.4Z" fill="#70b0d0" filter="url(#sp2)"/><ellipse cx="270.6" cy="243.2" rx="2.7" ry="5.9" fill="#808080" filter="url(#tr)"/><path d="M270.6 215.6C272.2 213.9 273.4 225.8 274.1 232.4C274.3 236.5 272.7 238.3 270.6 238.3C268.4 238.3 266.8 236.5 267 232.4C267.7 225.8 269 213.9 270.6 215.6Z" fill="#808080" filter="url(#sp2)"/><ellipse cx="280.5" cy="242.1" rx="2.7" ry="7" fill="#e6194b" filter="url(#tr)"/><path d="M280.5 208.3C282.1 206.2 283.4 220.8 284.1 228.9C284.3 233.9 282.7 236.1 280.5 236.1C278.4 236.1 276.7 233.9 276.9 228.9C277.6 220.8 278.9 206.2 280.5 208.3Z" fill="#e6194b" filter="url(#sp2)"/><ellipse cx="272.5" cy="242.2" rx="3" ry="7.6" fill="#a8e020" filter="url(#tr)"/><path d="M272.5 204.9C274.3 202.6 275.7 218.7 276.5 227.6C276.7 233.2 274.9 235.6 272.5 235.6C270.2 235.6 268.4 233.2 268.6 227.6C269.4 218.7 270.8 202.6 272.5 204.9Z" fill="#a8e020" filter="url(#sp2)"/><ellipse cx="296.8" cy="241.8" rx="3.1" ry="8.2" fill="#e6194b" filter="url(#tr)"/><path d="M296.8 201.1C298.6 198.5 300.1 216.2 300.9 225.9C301.1 232 299.3 234.6 296.8 234.6C294.4 234.6 292.5 232 292.7 225.9C293.5 216.2 295 198.5 296.8 201.1Z" fill="#e6194b" filter="url(#sp2)"/><ellipse cx="284.6" cy="246.2" rx="3" ry="5.9" fill="#c02080" filter="url(#tr)"/><path d="M284.6 218.6C286.4 216.9 287.8 228.8 288.6 235.4C288.8 239.5 287 241.3 284.6 241.3C282.2 241.3 280.4 239.5 280.6 235.4C281.4 228.8 282.8 216.9 284.6 218.6Z" fill="#c02080" filter="url(#sp2)"/><ellipse cx="268" cy="202" rx="2.2" ry="4" fill="#c0e040" filter="url(#tr)"/><path d="M268 184.8C269.3 183.7 270.3 191.2 270.9 195.3C271 197.8 269.7 198.9 268 198.9C266.3 198.9 265 197.8 265.1 195.3C265.7 191.2 266.7 183.7 268 184.8Z" fill="#c0e040" filter="url(#sp2)"/><ellipse cx="261.2" cy="205.6" rx="3.4" ry="5.4" fill="#203060" filter="url(#tr)"/><path d="M261.2 180.8C263.3 179.3 264.9 190 265.8 195.9C266 199.6 264 201.2 261.2 201.2C258.4 201.2 256.4 199.6 256.6 195.9C257.5 190 259.1 179.3 261.2 180.8Z" fill="#203060" filter="url(#sp2)"/><ellipse cx="294.3" cy="207.4" rx="2.2" ry="3.6" fill="#f060b0" filter="url(#tr)"/><path d="M294.3 192.8C295.6 191.9 296.6 198.2 297.2 201.7C297.3 203.9 296 204.8 294.3 204.8C292.6 204.8 291.3 203.9 291.4 201.7C292 198.2 293 191.9 294.3 192.8Z" fill="#f060b0" filter="url(#sp2)"/><ellipse cx="238.5" cy="211.1" rx="2.6" ry="4.9" fill="#f0b0d0" filter="url(#tr)"/><path d="M238.5 188.8C240.1 187.4 241.3 197.1 241.9 202.4C242.1 205.7 240.6 207.1 238.5 207.1C236.4 207.1 234.9 205.7 235.1 202.4C235.7 197.1 236.9 187.4 238.5 188.8Z" fill="#f0b0d0" filter="url(#sp2)"/><ellipse cx="242.6" cy="210.7" rx="3" ry="5.3" fill="#8aa040" filter="url(#tr)"/><path d="M242.6 186.1C244.4 184.6 245.8 195.2 246.6 201.1C246.8 204.7 245 206.3 242.6 206.3C240.2 206.3 238.4 204.7 238.6 201.1C239.4 195.2 240.8 184.6 242.6 186.1Z" fill="#8aa040" filter="url(#sp2)"/><ellipse cx="247" cy="211.1" rx="2.6" ry="4.9" fill="#3080c0" filter="url(#tr)"/><path d="M247 188.8C248.6 187.4 249.8 197.1 250.4 202.4C250.6 205.7 249.1 207.1 247 207.1C244.9 207.1 243.4 205.7 243.6 202.4C244.2 197.1 245.4 187.4 247 188.8Z" fill="#3080c0" filter="url(#sp2)"/><ellipse cx="256" cy="210.5" rx="3.4" ry="5.5" fill="#8050c0" filter="url(#tr)"/><path d="M256 184.8C258.1 183.2 259.7 194.3 260.6 200.4C260.8 204.2 258.8 205.9 256 205.9C253.2 205.9 251.2 204.2 251.4 200.4C252.3 194.3 253.9 183.2 256 184.8Z" fill="#8050c0" filter="url(#sp2)"/><ellipse cx="266.5" cy="211.3" rx="3" ry="4.7" fill="#d0e0a0" filter="url(#tr)"/><path d="M266.5 190.1C268.3 188.8 269.7 197.9 270.5 203C270.7 206.1 268.9 207.5 266.5 207.5C264.1 207.5 262.3 206.1 262.5 203C263.3 197.9 264.7 188.8 266.5 190.1Z" fill="#d0e0a0" filter="url(#sp2)"/><ellipse cx="286.3" cy="212.3" rx="2.6" ry="3.7" fill="#202020" filter="url(#tr)"/><path d="M286.3 196.8C287.9 195.8 289.1 202.5 289.8 206.2C289.9 208.5 288.4 209.5 286.3 209.5C284.2 209.5 282.7 208.5 282.9 206.2C283.5 202.5 284.7 195.8 286.3 196.8Z" fill="#202020" filter="url(#sp2)"/><ellipse cx="300" cy="211.7" rx="3" ry="4.3" fill="#a06080" filter="url(#tr)"/><path d="M300 192.8C301.8 191.6 303.2 199.8 304 204.3C304.2 207.1 302.4 208.3 300 208.3C297.6 208.3 295.8 207.1 296 204.3C296.8 199.8 298.2 191.6 300 192.8Z" fill="#a06080" filter="url(#sp2)"/><ellipse cx="233.3" cy="219.8" rx="3.4" ry="6.2" fill="#903060" filter="url(#tr)"/><path d="M233.3 190.1C235.4 188.3 237 201.1 237.9 208.2C238.1 212.6 236.1 214.5 233.3 214.5C230.5 214.5 228.5 212.6 228.7 208.2C229.6 201.1 231.2 188.3 233.3 190.1Z" fill="#903060" filter="url(#sp2)"/><ellipse cx="269.5" cy="220.6" rx="3" ry="5.4" fill="#804030" filter="url(#tr)"/><path d="M269.5 195.4C271.3 193.8 272.7 204.7 273.5 210.7C273.7 214.5 271.9 216.1 269.5 216.1C267.1 216.1 265.3 214.5 265.5 210.7C266.3 204.7 267.7 193.8 269.5 195.4Z" fill="#804030" filter="url(#sp2)"/><ellipse cx="278.3" cy="221.2" rx="3" ry="4.8" fill="#9060c0" filter="url(#tr)"/><path d="M278.3 199.4C280.1 198.1 281.5 207.5 282.3 212.7C282.5 215.9 280.7 217.3 278.3 217.3C275.9 217.3 274.1 215.9 274.3 212.7C275.1 207.5 276.5 198.1 278.3 199.4Z" fill="#9060c0" filter="url(#sp2)"/><ellipse cx="264" cy="221" rx="3" ry="5" fill="#f06080" filter="url(#tr)"/><path d="M264 198.1C265.8 196.7 267.2 206.6 268 212C268.2 215.4 266.4 216.9 264 216.9C261.6 216.9 259.8 215.4 260 212C260.8 206.6 262.2 196.7 264 198.1Z" fill="#f06080" filter="url(#sp2)"/><ellipse cx="281.5" cy="223.5" rx="3.9" ry="5.5" fill="#404890" filter="url(#tr)"/><path d="M281.5 198.1C283.8 196.5 285.6 207.5 286.7 213.6C286.9 217.4 284.6 219 281.5 219C278.4 219 276.1 217.4 276.3 213.6C277.4 207.5 279.2 196.5 281.5 198.1Z" fill="#404890" filter="url(#sp2)"/><ellipse cx="308" cy="221.9" rx="3.4" ry="7.1" fill="#e02060" filter="url(#tr)"/><path d="M308 187.4C310.1 185.3 311.7 200.2 312.6 208.4C312.8 213.5 310.8 215.8 308 215.8C305.2 215.8 303.2 213.5 303.4 208.4C304.3 200.2 305.9 185.3 308 187.4Z" fill="#e02060" filter="url(#sp2)"/><ellipse cx="302.2" cy="224.9" rx="3.9" ry="4.1" fill="#b070c0" filter="url(#tr)"/><path d="M302.2 207.4C304.5 206.3 306.3 213.9 307.4 218.1C307.6 220.7 305.3 221.8 302.2 221.8C299.1 221.8 296.8 220.7 297 218.1C298.1 213.9 299.9 206.3 302.2 207.4Z" fill="#b070c0" filter="url(#sp2)"/><ellipse cx="295.6" cy="225.4" rx="4.3" ry="5.6" fill="#60c040" filter="url(#tr)"/><path d="M295.6 199.4C298.2 197.8 300.2 209 301.4 215.3C301.6 219.1 299.1 220.8 295.6 220.8C292.2 220.8 289.6 219.1 289.9 215.3C291 209 293 197.8 295.6 199.4Z" fill="#60c040" filter="url(#sp2)"/><ellipse cx="307.5" cy="225.8" rx="3" ry="5.2" fill="#a0d080" filter="url(#tr)"/><path d="M307.5 202.1C309.3 200.6 310.7 210.9 311.5 216.6C311.7 220.1 309.9 221.6 307.5 221.6C305.1 221.6 303.3 220.1 303.5 216.6C304.3 210.9 305.7 200.6 307.5 202.1Z" fill="#a0d080" filter="url(#sp2)"/><ellipse cx="233.3" cy="229.6" rx="2.6" ry="5.4" fill="#30a080" filter="url(#tr)"/><path d="M233.3 204.8C234.9 203.3 236.1 214 236.8 219.9C236.9 223.6 235.4 225.2 233.3 225.2C231.2 225.2 229.7 223.6 229.9 219.9C230.5 214 231.7 203.3 233.3 204.8Z" fill="#30a080" filter="url(#sp2)"/><ellipse cx="275" cy="232.3" rx="3" ry="4.7" fill="#d02050" filter="url(#tr)"/><path d="M275 211.4C276.8 210.1 278.2 219.1 279 224.1C279.2 227.2 277.4 228.6 275 228.6C272.6 228.6 270.8 227.2 271 224.1C271.8 219.1 273.2 210.1 275 211.4Z" fill="#d02050" filter="url(#sp2)"/><ellipse cx="241.3" cy="233.9" rx="5.2" ry="6.1" fill="#d02090" filter="url(#tr)"/><path d="M241.3 204.8C244.4 203 246.8 215.6 248.2 222.5C248.5 226.8 245.4 228.7 241.3 228.7C237.2 228.7 234.1 226.8 234.4 222.5C235.8 215.6 238.2 203 241.3 204.8Z" fill="#d02090" filter="url(#sp2)"/><ellipse cx="260" cy="234.3" rx="3.9" ry="5.7" fill="#c09070" filter="url(#tr)"/><path d="M260 207.4C262.3 205.7 264.1 217.4 265.2 223.8C265.4 227.8 263.1 229.5 260 229.5C256.9 229.5 254.6 227.8 254.8 223.8C255.9 217.4 257.7 205.7 260 207.4Z" fill="#c09070" filter="url(#sp2)"/><ellipse cx="265.7" cy="235.5" rx="3" ry="5.5" fill="#40a040" filter="url(#tr)"/><path d="M265.7 209.8C267.5 208.2 268.9 219.3 269.7 225.4C269.9 229.2 268.1 230.9 265.7 230.9C263.3 230.9 261.5 229.2 261.7 225.4C262.5 219.3 263.9 208.2 265.7 209.8Z" fill="#40a040" filter="url(#sp2)"/><ellipse cx="315.5" cy="234.6" rx="3.4" ry="7.9" fill="#608030" filter="url(#tr)"/><path d="M315.5 195.4C317.6 193 319.2 209.9 320.1 219.3C320.3 225.1 318.3 227.7 315.5 227.7C312.7 227.7 310.7 225.1 310.9 219.3C311.8 209.9 313.4 193 315.5 195.4Z" fill="#608030" filter="url(#sp2)"/><ellipse cx="271.3" cy="237.2" rx="3" ry="5.3" fill="#9050d0" filter="url(#tr)"/><path d="M271.3 212.8C273.1 211.3 274.5 221.8 275.3 227.7C275.5 231.3 273.7 232.9 271.3 232.9C268.9 232.9 267.1 231.3 267.3 227.7C268.1 221.8 269.5 211.3 271.3 212.8Z" fill="#9050d0" filter="url(#sp2)"/><ellipse cx="289" cy="239.1" rx="2.2" ry="3.4" fill="#e07020" filter="url(#tr)"/><path d="M289 225.8C290.3 225 291.3 230.7 291.9 233.9C292 235.9 290.7 236.8 289 236.8C287.3 236.8 286 235.9 286.1 233.9C286.7 230.7 287.7 225 289 225.8Z" fill="#e07020" filter="url(#sp2)"/><ellipse cx="297" cy="240.5" rx="2.2" ry="4.5" fill="#3040e0" filter="url(#tr)"/><path d="M297 220.8C298.3 219.6 299.3 228.1 299.9 232.8C300 235.7 298.7 237 297 237C295.3 237 294 235.7 294.1 232.8C294.7 228.1 295.7 219.6 297 220.8Z" fill="#3040e0" filter="url(#sp2)"/><ellipse cx="250.6" cy="239.7" rx="3.9" ry="8.1" fill="#60e020" filter="url(#tr)"/><path d="M250.6 199.4C252.9 196.9 254.7 214.3 255.8 224C256 229.9 253.7 232.6 250.6 232.6C247.5 232.6 245.2 229.9 245.4 224C246.5 214.3 248.3 196.9 250.6 199.4Z" fill="#60e020" filter="url(#sp2)"/><ellipse cx="285" cy="247.2" rx="5.3" ry="7.8" fill="#b0f0d0" filter="url(#tr)"/><path d="M285 208.8C288.2 206.4 290.7 223 292.1 232.2C292.5 237.9 289.3 240.4 285 240.4C280.7 240.4 277.5 237.9 277.9 232.2C279.3 223 281.8 206.4 285 208.8Z" fill="#b0f0d0" filter="url(#sp2)"/></g>
<path d="M200.8 179.4L200.8 239L269.3 268L345.5 243M199.2 239L200.8 239M199.2 227.1L200.8 227.1M199.2 215.2L200.8 215.2M199.2 203.2L200.8 203.2M199.2 191.3L200.8 191.3M199.2 179.4L200.8 179.4M202.9 239.9l-1.4 0.5M215.9 245.4l-1.4 0.5M228.9 250.9l-1.4 0.5M242.2 256.5l-1.4 0.5M255.6 262.2l-1.4 0.5M268.6 267.7l-1.4 0.5M269.3 268l1.4 0.6M284.5 263l1.4 0.6M299.8 258l1.4 0.6M315 253l1.4 0.6M330.3 248l1.4 0.6M345.5 243l1.4 0.6" stroke="#8a8a8a" stroke-width="0.55" fill="none"/>
<g class="t"><text x="193.6" y="243">5.666</text><text x="206.6" y="248.4">5.664</text><text x="220" y="254.3">5.662</text><text x="234" y="260.7">5.66</text><text x="246" y="266.6">5.658</text><text x="258.8" y="272.5">5.656</text><text x="194.7" y="258.3">×10<tspan font-size="3" dy="-1.6">6</tspan></text><text class="an" x="228.3" y="272">Y(m)</text><text x="278.5" y="273">4.5682</text><text x="294.3" y="267.6">4.5684</text><text x="309.8" y="262">4.5686</text><text x="323.5" y="257.4">4.5688</text><text x="339" y="252.3">4.569</text><text x="355.3" y="247.5">4.5692</text><text x="350.7" y="260.3">×10<tspan font-size="3" dy="-1.6">7</tspan></text><text class="an" x="317" y="273.4">X(m)</text></g>
<g class="t z"><text x="198.4" y="238.3">0</text><text x="198.4" y="226.4">10</text><text x="198.4" y="214.5">20</text><text x="198.4" y="202.5">30</text><text x="198.4" y="190.6">40</text><text x="198.4" y="178.7">50</text></g>
<g transform="rotate(-90 189.6 211)"><text class="t zn" x="189.6" y="211">Z(m)</text></g>
<text class="cap" x="273.8" y="290.5">(e)</text>
<path d="M385.5 238.3L463.7 212.1M463.7 212.1L533.5 242M385.5 224.1L463.7 197.9M463.7 197.9L533.5 227.8M385.5 209.8L463.7 183.6M463.7 183.6L533.5 213.5M385.5 195.6L463.7 169.4M463.7 169.4L533.5 199.2M385.5 181.3L463.7 155.1M463.7 155.1L533.5 185M463.7 212.1L463.7 155.1M385.5 238.3L463.7 212.1M477.4 218L477.4 161M399.2 244.2L477.4 218M491.1 223.8L491.1 166.8M412.9 250L491.1 223.8M504.7 229.7L504.7 172.7M426.5 255.9L504.7 229.7M518.4 235.5L518.4 178.5M440.2 261.7L518.4 235.5M532.1 241.4L532.1 184.4M453.9 267.6L532.1 241.4M385.5 238.3L385.5 181.3M385.5 238.3L455.3 268.2M398.5 233.9L398.5 176.9M398.5 233.9L468.3 263.8M411.6 229.6L411.6 172.6M411.6 229.6L481.4 259.5M424.6 225.2L424.6 168.2M424.6 225.2L494.4 255.1M437.6 220.8L437.6 163.8M437.6 220.8L507.4 250.7M450.7 216.5L450.7 159.5M450.7 216.5L520.5 246.4M463.7 212.1L463.7 155.1M463.7 212.1L533.5 242" stroke="#e4e4e4" stroke-width="0.5" fill="none"/>
<path d="M385.5 181.3L463.7 155.1L533.5 185L533.5 242M463.7 212.1L463.7 155.1" stroke="#dcdcdc" stroke-width="0.5" fill="none"/>
<g><ellipse cx="440" cy="246" rx="14" ry="5" fill="#40c060" filter="url(#sc)"/><ellipse cx="470" cy="240" rx="10" ry="5" fill="#a08020" filter="url(#sc)"/><path d="M461.4 172.6C463.9 169.6 465.9 190.4 467 201.9C467.3 209.1 464.8 212.2 461.4 212.2C457.9 212.2 455.4 209.1 455.7 201.9C456.8 190.4 458.8 169.6 461.4 172.6Z" fill="#c02080" filter="url(#sp)"/><path d="M457.7 178.2C460 175.5 461.8 194.3 462.8 204.7C463 211.2 460.7 214.1 457.7 214.1C454.6 214.1 452.3 211.2 452.6 204.7C453.6 194.3 455.4 175.5 457.7 178.2Z" fill="#46d0e0" filter="url(#sp)"/><path d="M473.2 176.1C475.9 173.2 478 193.4 479.2 204.6C479.5 211.5 476.8 214.6 473.2 214.6C469.7 214.6 467 211.5 467.3 204.6C468.5 193.4 470.6 173.2 473.2 176.1Z" fill="#e0e0a0" filter="url(#sp)"/><path d="M463.3 178.6C465.9 175.8 468 195.3 469.1 206.1C469.4 212.7 466.8 215.7 463.3 215.7C459.8 215.7 457.2 212.7 457.5 206.1C458.7 195.3 460.7 175.8 463.3 178.6Z" fill="#80e0a0" filter="url(#sp)"/><path d="M478.8 178.9C481.4 176.1 483.5 196.1 484.6 207.2C484.9 214.1 482.3 217.2 478.8 217.2C475.2 217.2 472.6 214.1 472.9 207.2C474.1 196.1 476.1 176.1 478.8 178.9Z" fill="#c8a0f0" filter="url(#sp)"/><path d="M451.7 176.2C454.1 173.2 455.9 194.7 456.9 206.5C457.2 213.9 454.9 217.2 451.7 217.2C448.6 217.2 446.2 213.9 446.5 206.5C447.5 194.7 449.3 173.2 451.7 176.2Z" fill="#b060d0" filter="url(#sp)"/><path d="M455.2 174.1C458.2 170.8 460.4 194 461.7 206.8C462 214.8 459.1 218.3 455.2 218.3C451.4 218.3 448.5 214.8 448.8 206.8C450.1 194 452.3 170.8 455.2 174.1Z" fill="#a8e020" filter="url(#sp)"/><path d="M482.8 184C485 181.3 486.7 199.7 487.7 209.9C487.9 216.2 485.7 219 482.8 219C479.9 219 477.7 216.2 477.9 209.9C478.9 199.7 480.6 181.3 482.8 184Z" fill="#c040c0" filter="url(#sp)"/><path d="M443.1 177C445.8 173.8 447.9 196.1 449.1 208.4C449.4 216.1 446.7 219.5 443.1 219.5C439.5 219.5 436.8 216.1 437.1 208.4C438.3 196.1 440.4 173.8 443.1 177Z" fill="#9a6324" filter="url(#sp)"/><path d="M437.4 183.3C439.5 180.5 441.2 199.8 442.2 210.4C442.4 217 440.3 219.9 437.4 219.9C434.5 219.9 432.4 217 432.6 210.4C433.6 199.8 435.2 180.5 437.4 183.3Z" fill="#e07050" filter="url(#sp)"/><path d="M469.7 178.7C471.9 175.6 473.6 197.4 474.5 209.4C474.8 216.9 472.6 220.2 469.7 220.2C466.8 220.2 464.6 216.9 464.9 209.4C465.8 197.4 467.5 175.6 469.7 178.7Z" fill="#f0c8a0" filter="url(#sp)"/><path d="M463.5 180.9C465.9 177.9 467.8 199.2 468.8 210.9C469.1 218.2 466.7 221.4 463.5 221.4C460.4 221.4 458 218.2 458.2 210.9C459.3 199.2 461.2 177.9 463.5 180.9Z" fill="#6040c0" filter="url(#sp)"/><path d="M488.5 185.1C490.9 182.4 492.7 201.5 493.8 212C494 218.6 491.6 221.5 488.5 221.5C485.3 221.5 483 218.6 483.2 212C484.3 201.5 486.1 182.4 488.5 185.1Z" fill="#5080d0" filter="url(#sp)"/><path d="M450 175.5C452.9 171.9 455.1 196.5 456.4 210.1C456.8 218.6 453.9 222.3 450 222.3C446.1 222.3 443.2 218.6 443.5 210.1C444.8 196.5 447.1 171.9 450 175.5Z" fill="#60c040" filter="url(#sp)"/><path d="M429.6 182.4C432.5 179.4 434.7 200.5 436 212.1C436.3 219.4 433.5 222.6 429.6 222.6C425.8 222.6 422.9 219.4 423.2 212.1C424.5 200.5 426.8 179.4 429.6 182.4Z" fill="#c8a0f0" filter="url(#sp)"/><path d="M476.5 181.3C478.8 178.1 480.7 200 481.7 212.1C482 219.6 479.6 222.9 476.5 222.9C473.3 222.9 470.9 219.6 471.2 212.1C472.2 200 474.1 178.1 476.5 181.3Z" fill="#e8d820" filter="url(#sp)"/><path d="M443.7 181.2C446.2 178 448.2 200.2 449.3 212.5C449.6 220.1 447 223.5 443.7 223.5C440.3 223.5 437.8 220.1 438.1 212.5C439.2 200.2 441.2 178 443.7 181.2Z" fill="#c040c0" filter="url(#sp)"/><path d="M453.7 173.7C456.1 169.9 458 196.4 459.1 211C459.4 220.1 457 224.1 453.7 224.1C450.5 224.1 448.1 220.1 448.4 211C449.4 196.4 451.3 169.9 453.7 173.7Z" fill="#b060d0" filter="url(#sp)"/><path d="M466.2 178.6C468.6 175.2 470.4 199.4 471.5 212.7C471.8 221 469.4 224.7 466.2 224.7C463 224.7 460.6 221 460.9 212.7C462 199.4 463.8 175.2 466.2 178.6Z" fill="#c040c0" filter="url(#sp)"/><path d="M479.7 184.9C482.1 181.9 483.9 203 484.9 214.7C485.2 221.9 482.8 225.2 479.7 225.2C476.6 225.2 474.3 221.9 474.5 214.7C475.6 203 477.4 181.9 479.7 184.9Z" fill="#008080" filter="url(#sp)"/><path d="M421.8 184.9C424.4 181.8 426.4 203.2 427.5 215C427.8 222.4 425.2 225.6 421.8 225.6C418.3 225.6 415.7 222.4 416 215C417.1 203.2 419.2 181.8 421.8 184.9Z" fill="#f0c8a0" filter="url(#sp)"/><path d="M436.6 184.4C438.9 181.3 440.7 203.1 441.8 215.1C442 222.5 439.7 225.9 436.6 225.9C433.4 225.9 431.1 222.5 431.3 215.1C432.4 203.1 434.2 181.3 436.6 184.4Z" fill="#d04040" filter="url(#sp)"/><path d="M452.1 189.5C454.7 186.7 456.7 206 457.9 216.7C458.2 223.3 455.5 226.3 452.1 226.3C448.6 226.3 446 223.3 446.3 216.7C447.4 206 449.5 186.7 452.1 189.5Z" fill="#20c060" filter="url(#sp)"/><path d="M416.3 188.7C419.1 185.8 421.2 205.9 422.4 217C422.7 223.9 420 227 416.3 227C412.7 227 409.9 223.9 410.2 217C411.5 205.9 413.6 185.8 416.3 188.7Z" fill="#b060d0" filter="url(#sp)"/><path d="M478 180.2C480.7 176.7 482.9 201.3 484.1 215C484.4 223.4 481.7 227.2 478 227.2C474.3 227.2 471.5 223.4 471.8 215C473 201.3 475.2 176.7 478 180.2Z" fill="#e0a030" filter="url(#sp)"/><path d="M463.2 176.5C465.6 172.7 467.5 199.7 468.6 214.6C468.9 223.9 466.4 228 463.2 228C459.9 228 457.4 223.9 457.7 214.6C458.8 199.7 460.7 172.7 463.2 176.5Z" fill="#40a0e0" filter="url(#sp)"/><path d="M443.5 182.1C445.9 178.7 447.7 202.8 448.7 216.1C448.9 224.4 446.6 228.1 443.5 228.1C440.4 228.1 438.1 224.4 438.4 216.1C439.4 202.8 441.2 178.7 443.5 182.1Z" fill="#20c060" filter="url(#sp)"/><path d="M489.3 188.4C491.8 185.4 493.8 206.3 494.9 217.8C495.2 225 492.7 228.2 489.3 228.2C486 228.2 483.5 225 483.8 217.8C484.9 206.3 486.8 185.4 489.3 188.4Z" fill="#e6194b" filter="url(#sp)"/><path d="M466.4 188.6C468.8 185.6 470.7 206.7 471.7 218.4C472 225.7 469.6 228.9 466.4 228.9C463.2 228.9 460.8 225.7 461.1 218.4C462.1 206.7 464 185.6 466.4 188.6Z" fill="#e0a030" filter="url(#sp)"/><path d="M483.3 189.7C485.8 186.7 487.8 207.4 488.9 218.8C489.2 225.8 486.7 229 483.3 229C479.9 229 477.4 225.8 477.7 218.8C478.8 207.4 480.7 186.7 483.3 189.7Z" fill="#60c040" filter="url(#sp)"/><path d="M430.6 190.3C433.5 187.4 435.8 207.9 437.1 219.3C437.4 226.3 434.5 229.4 430.6 229.4C426.8 229.4 423.8 226.3 424.2 219.3C425.5 207.9 427.7 187.4 430.6 190.3Z" fill="#f0a0b0" filter="url(#sp)"/><path d="M454.7 185.9C457.4 182.7 459.6 205.5 460.8 218.2C461.1 226 458.4 229.5 454.7 229.5C451 229.5 448.2 226 448.5 218.2C449.7 205.5 451.9 182.7 454.7 185.9Z" fill="#f0c8a0" filter="url(#sp)"/><path d="M461.7 188.5C464.4 185.4 466.5 207.3 467.7 219.4C468 226.9 465.3 230.2 461.7 230.2C458.1 230.2 455.5 226.9 455.8 219.4C457 207.3 459 185.4 461.7 188.5Z" fill="#9a6324" filter="url(#sp)"/><path d="M450.8 188.9C453.3 185.8 455.2 207.7 456.2 219.8C456.5 227.3 454.1 230.7 450.8 230.7C447.6 230.7 445.2 227.3 445.4 219.8C446.5 207.7 448.4 185.8 450.8 188.9Z" fill="#80e0a0" filter="url(#sp)"/><path d="M421.9 193.1C424.8 190.2 427 210.2 428.3 221.2C428.6 228 425.7 231.1 421.9 231.1C418 231.1 415.1 228 415.4 221.2C416.7 210.2 419 190.2 421.9 193.1Z" fill="#f032e6" filter="url(#sp)"/><path d="M435.9 191C438.7 188 440.9 209.3 442.2 221.1C442.5 228.4 439.6 231.7 435.9 231.7C432.1 231.7 429.3 228.4 429.6 221.1C430.9 209.3 433.1 188 435.9 191Z" fill="#80e0a0" filter="url(#sp)"/><path d="M442.2 186.8C444.6 183.5 446.4 207.1 447.5 220.2C447.8 228.3 445.4 231.9 442.2 231.9C439.1 231.9 436.7 228.3 437 220.2C438 207.1 439.9 183.5 442.2 186.8Z" fill="#40e0c0" filter="url(#sp)"/><path d="M474.8 181.1C477.6 177.2 479.8 204 481.1 218.7C481.4 227.9 478.6 232 474.8 232C471.1 232 468.3 227.9 468.6 218.7C469.8 204 472 177.2 474.8 181.1Z" fill="#f0a0b0" filter="url(#sp)"/><path d="M413.7 190.1C416.1 186.9 418 209.1 419.1 221.3C419.4 228.9 416.9 232.3 413.7 232.3C410.4 232.3 408 228.9 408.2 221.3C409.3 209.1 411.2 186.9 413.7 190.1Z" fill="#4363d8" filter="url(#sp)"/><path d="M487.4 186.4C490 182.9 492.1 207.2 493.3 220.6C493.5 229 490.9 232.7 487.4 232.7C483.9 232.7 481.2 229 481.5 220.6C482.7 207.2 484.8 182.9 487.4 186.4Z" fill="#808080" filter="url(#sp)"/><path d="M430.8 194C433.6 191.1 435.8 211.7 437 223C437.3 230.1 434.5 233.2 430.8 233.2C427 233.2 424.2 230.1 424.6 223C425.8 211.7 428 191.1 430.8 194Z" fill="#f032e6" filter="url(#sp)"/><path d="M469.9 195.3C472.6 192.4 474.6 213 475.8 224.3C476.1 231.4 473.5 234.5 469.9 234.5C466.3 234.5 463.7 231.4 464 224.3C465.1 213 467.2 192.4 469.9 195.3Z" fill="#f0a0b0" filter="url(#sp)"/><path d="M456.7 188.5C459.5 185.1 461.6 209.3 462.8 222.7C463.1 231 460.4 234.7 456.7 234.7C453.1 234.7 450.3 231 450.6 222.7C451.8 209.3 454 185.1 456.7 188.5Z" fill="#d0d060" filter="url(#sp)"/><path d="M479.1 182.9C481.7 179 483.7 206.3 484.9 221.3C485.1 230.6 482.5 234.8 479.1 234.8C475.6 234.8 473 230.6 473.3 221.3C474.4 206.3 476.5 179 479.1 182.9Z" fill="#60c040" filter="url(#sp)"/><path d="M419.6 184.8C422.3 181.1 424.4 207.5 425.6 222.1C425.9 231.1 423.2 235.1 419.6 235.1C416 235.1 413.3 231.1 413.6 222.1C414.8 207.5 416.9 181.1 419.6 184.8Z" fill="#c02080" filter="url(#sp)"/><path d="M475 183.8C477.7 180 479.8 207.1 481 222.1C481.3 231.4 478.6 235.6 475 235.6C471.4 235.6 468.7 231.4 469 222.1C470.2 207.1 472.3 180 475 183.8Z" fill="#46d0e0" filter="url(#sp)"/><path d="M437.5 194.3C439.7 191.1 441.4 213.2 442.4 225.3C442.6 232.9 440.4 236.2 437.5 236.2C434.5 236.2 432.3 232.9 432.6 225.3C433.6 213.2 435.3 191.1 437.5 194.3Z" fill="#9a6324" filter="url(#sp)"/><path d="M460.1 192.2C462.5 188.9 464.3 212.1 465.4 224.9C465.7 232.8 463.3 236.3 460.1 236.3C457 236.3 454.6 232.8 454.8 224.9C455.9 212.1 457.7 188.9 460.1 192.2Z" fill="#808080" filter="url(#sp)"/><path d="M415.5 195C418.3 191.8 420.4 213.7 421.7 225.9C422 233.4 419.2 236.7 415.5 236.7C411.8 236.7 409 233.4 409.3 225.9C410.6 213.7 412.7 191.8 415.5 195Z" fill="#40a0e0" filter="url(#sp)"/><path d="M486 198C488.6 195.1 490.6 215.6 491.8 226.9C492.1 233.9 489.5 237 486 237C482.5 237 479.9 233.9 480.2 226.9C481.4 215.6 483.4 195.1 486 198Z" fill="#b060d0" filter="url(#sp)"/><path d="M448 183.6C450.8 179.5 452.9 207.7 454.1 223.2C454.4 232.8 451.7 237.1 448 237.1C444.4 237.1 441.6 232.8 441.9 223.2C443.2 207.7 445.3 179.5 448 183.6Z" fill="#e07050" filter="url(#sp)"/><path d="M444.4 201.2C447.1 198.5 449.2 217.8 450.4 228.5C450.7 235.2 448 238.1 444.4 238.1C440.8 238.1 438.1 235.2 438.4 228.5C439.6 217.8 441.7 198.5 444.4 201.2Z" fill="#5080d0" filter="url(#sp)"/><path d="M429 188C431.3 184.2 433.1 210.6 434.2 225.1C434.4 234.2 432.1 238.2 429 238.2C426 238.2 423.6 234.2 423.9 225.1C424.9 210.6 426.7 184.2 429 188Z" fill="#f0a0b0" filter="url(#sp)"/><path d="M455.5 188.7C457.8 184.9 459.6 211.2 460.7 225.7C460.9 234.7 458.6 238.7 455.5 238.7C452.4 238.7 450 234.7 450.3 225.7C451.3 211.2 453.2 184.9 455.5 188.7Z" fill="#b0b0e0" filter="url(#sp)"/><path d="M465.3 191C467.7 187.4 469.5 212.5 470.6 226.4C470.9 235 468.5 238.9 465.3 238.9C462.1 238.9 459.7 235 459.9 226.4C461 212.5 462.9 187.4 465.3 191Z" fill="#b0b0e0" filter="url(#sp)"/><path d="M447.5 192.8C450.3 189.2 452.5 214 453.7 227.7C454 236.2 451.2 239.9 447.5 239.9C443.8 239.9 441 236.2 441.3 227.7C442.5 214 444.7 189.2 447.5 192.8Z" fill="#808000" filter="url(#sp)"/><path d="M458.2 189.9C460.3 186.1 462 212.9 463 227.6C463.2 236.8 461.1 240.9 458.2 240.9C455.3 240.9 453.1 236.8 453.3 227.6C454.3 212.9 456 186.1 458.2 189.9Z" fill="#b060d0" filter="url(#sp)"/><path d="M429.8 196.9C432.2 193.6 434.1 217 435.2 229.9C435.5 237.9 433.1 241.5 429.8 241.5C426.6 241.5 424.2 237.9 424.5 229.9C425.6 217 427.4 193.6 429.8 196.9Z" fill="#b060d0" filter="url(#sp)"/><path d="M436.3 198.4C438.8 195.1 440.7 217.8 441.8 230.4C442 238.1 439.6 241.6 436.3 241.6C433 241.6 430.6 238.1 430.8 230.4C431.9 217.8 433.8 195.1 436.3 198.4Z" fill="#4363d8" filter="url(#sp)"/><path d="M474 195.6C476.1 192.2 477.8 216.4 478.7 229.8C478.9 238.1 476.8 241.8 474 241.8C471.1 241.8 469 238.1 469.2 229.8C470.2 216.4 471.8 192.2 474 195.6Z" fill="#70b0d0" filter="url(#sp)"/><path d="M441.1 192.2C443.7 188.4 445.7 215.4 446.8 230.3C447.1 239.6 444.5 243.7 441.1 243.7C437.7 243.7 435.1 239.6 435.4 230.3C436.6 215.4 438.6 188.4 441.1 192.2Z" fill="#40a0e0" filter="url(#sp)"/><path d="M467 195.1C469.8 191.4 472.1 217.1 473.3 231.2C473.7 240 470.8 243.9 467 243.9C463.1 243.9 460.2 240 460.6 231.2C461.8 217.1 464.1 191.4 467 195.1Z" fill="#d0d060" filter="url(#sp)"/><path d="M453.5 201.3C455.9 198.1 457.8 220.6 458.9 233C459.2 240.7 456.7 244.2 453.5 244.2C450.2 244.2 447.7 240.7 448 233C449.1 220.6 451 198.1 453.5 201.3Z" fill="#e07050" filter="url(#sp)"/><path d="M459.7 195.8C462.6 192 464.8 218.6 466.1 233.3C466.4 242.4 463.5 246.5 459.7 246.5C455.8 246.5 453 242.4 453.3 233.3C454.6 218.6 456.8 192 459.7 195.8Z" fill="#40e0c0" filter="url(#sp)"/><path d="M447.1 210.6C449.3 207.8 450.9 227 451.9 237.6C452.1 244.2 450 247.1 447.1 247.1C444.2 247.1 442 244.2 442.3 237.6C443.2 227 444.9 207.8 447.1 210.6Z" fill="#60c040" filter="url(#sp)"/><path d="M452.3 202.2C455 198.7 457.1 222.8 458.3 236.2C458.6 244.4 455.9 248.1 452.3 248.1C448.7 248.1 446 244.4 446.3 236.2C447.5 222.8 449.6 198.7 452.3 202.2Z" fill="#3cb44b" filter="url(#sp)"/><path d="M481.7 179.8C482.6 178.7 483.3 186.6 483.7 191C483.8 193.8 482.9 195 481.7 195C480.5 195 479.6 193.8 479.7 191C480.1 186.6 480.8 178.7 481.7 179.8Z" fill="#101010" filter="url(#sp)"/><path d="M451.9 174.4C454 172.5 455.7 185.9 456.6 193.3C456.9 198 454.7 200 451.9 200C449.1 200 446.9 198 447.2 193.3C448.1 185.9 449.8 172.5 451.9 174.4Z" fill="#908090" filter="url(#sp)"/><path d="M473 173.4C474.8 171.4 476.2 185.4 477.1 193.1C477.3 197.9 475.4 200 473 200C470.6 200 468.7 197.9 468.9 193.1C469.8 185.4 471.2 171.4 473 173.4Z" fill="#9080a0" filter="url(#sp)"/><path d="M426.6 185.1C428.4 183.6 429.8 194.1 430.7 199.8C430.9 203.4 429 205 426.6 205C424.2 205 422.3 203.4 422.6 199.8C423.4 194.1 424.8 183.6 426.6 185.1Z" fill="#80a080" filter="url(#sp)"/><path d="M431.4 186.4C433.2 185 434.6 194.8 435.4 200.2C435.7 203.5 433.8 205 431.4 205C429 205 427.1 203.5 427.3 200.2C428.2 194.8 429.6 185 431.4 186.4Z" fill="#e06030" filter="url(#sp)"/><path d="M442 183.8C443.8 182.2 445.2 193.3 446.1 199.5C446.3 203.3 444.4 205 442 205C439.6 205 437.7 203.3 437.9 199.5C438.8 193.3 440.2 182.2 442 183.8Z" fill="#3050e0" filter="url(#sp)"/><path d="M462.4 172.1C464.8 169.6 466.7 186.9 467.8 196.4C468.1 202.4 465.6 205 462.4 205C459.2 205 456.7 202.4 457 196.4C458.1 186.9 460 169.6 462.4 172.1Z" fill="#601830" filter="url(#sp)"/><path d="M476.3 176.1C478.1 173.9 479.5 189.1 480.4 197.5C480.6 202.7 478.7 205 476.3 205C473.9 205 472 202.7 472.2 197.5C473.1 189.1 474.5 173.9 476.3 176.1Z" fill="#30a0a0" filter="url(#sp)"/><path d="M436 186.4C438.1 184.6 439.8 197 440.7 203.9C441 208.1 438.8 210 436 210C433.2 210 431 208.1 431.3 203.9C432.2 197 433.9 184.6 436 186.4Z" fill="#40c060" filter="url(#sp)"/><path d="M458.5 186.4C461.5 184.6 463.9 197 465.2 203.9C465.6 208.1 462.6 210 458.5 210C454.4 210 451.4 208.1 451.8 203.9C453.1 197 455.5 184.6 458.5 186.4Z" fill="#40a0e0" filter="url(#sp)"/><path d="M471 177.4C473.4 175 475.3 192.1 476.4 201.5C476.7 207.4 474.2 210 471 210C467.8 210 465.3 207.4 465.6 201.5C466.7 192.1 468.6 175 471 177.4Z" fill="#e0c040" filter="url(#sp)"/><path d="M445.2 174.4C448.4 171.4 450.8 192.7 452.2 204.4C452.6 211.8 449.4 215 445.2 215C441 215 437.8 211.8 438.2 204.4C439.6 192.7 442 171.4 445.2 174.4Z" fill="#50b050" filter="url(#sp)"/><path d="M482.3 185.4C484.3 183.2 485.9 198.7 486.8 207.3C487 212.6 485 215 482.3 215C479.6 215 477.6 212.6 477.8 207.3C478.7 198.7 480.3 183.2 482.3 185.4Z" fill="#8090b0" filter="url(#sp)"/><path d="M458.3 187.8C460.1 185.8 461.5 200 462.4 207.9C462.6 212.8 460.7 215 458.3 215C455.9 215 454 212.8 454.2 207.9C455.1 200 456.5 185.8 458.3 187.8Z" fill="#40a0f0" filter="url(#sp)"/><path d="M446.5 193.1C449.4 191.2 451.6 204.3 452.8 211.5C453.2 216 450.3 218 446.5 218C442.7 218 439.8 216 440.2 211.5C441.4 204.3 443.6 191.2 446.5 193.1Z" fill="#e89030" filter="url(#sp)"/><path d="M462.5 194.8C464 192.9 465.2 206.1 465.9 213.4C466 218 464.5 220 462.5 220C460.5 220 459 218 459.1 213.4C459.8 206.1 461 192.9 462.5 194.8Z" fill="#e04020" filter="url(#sp)"/><path d="M420.7 189.1C422.2 186.4 423.4 205.3 424.1 215.7C424.2 222.1 422.7 225 420.7 225C418.7 225 417.2 222.1 417.3 215.7C418 205.3 419.2 186.4 420.7 189.1Z" fill="#c0e040" filter="url(#sp)"/><path d="M425.3 191.8C427.1 189.3 428.5 206.7 429.4 216.4C429.6 222.3 427.7 225 425.3 225C422.9 225 421 222.3 421.2 216.4C422.1 206.7 423.5 189.3 425.3 191.8Z" fill="#8040c0" filter="url(#sp)"/><path d="M487 192.1C488.8 189.6 490.2 206.9 491.1 216.4C491.3 222.4 489.4 225 487 225C484.6 225 482.7 222.4 482.9 216.4C483.8 206.9 485.2 189.6 487 192.1Z" fill="#e040e0" filter="url(#sp)"/><path d="M491 188.1C492.7 185.3 494 204.7 494.8 215.4C495 222 493.3 225 491 225C488.7 225 487 222 487.2 215.4C488 204.7 489.3 185.3 491 188.1Z" fill="#8080e0" filter="url(#sp)"/><path d="M491.5 202.8C492.7 201.1 493.7 212.8 494.2 219.2C494.3 223.2 493.1 225 491.5 225C489.9 225 488.7 223.2 488.8 219.2C489.3 212.8 490.3 201.1 491.5 202.8Z" fill="#e0a040" filter="url(#sp)"/><path d="M477.6 193.4C479.4 191 480.8 207.6 481.7 216.8C481.9 222.5 480 225 477.6 225C475.2 225 473.3 222.5 473.6 216.8C474.4 207.6 475.8 191 477.6 193.4Z" fill="#60b090" filter="url(#sp)"/><path d="M412.8 191.8C414 188.9 415 209 415.5 220.1C415.6 226.9 414.4 230 412.8 230C411.2 230 410 226.9 410.1 220.1C410.6 209 411.6 188.9 412.8 191.8Z" fill="#e8e020" filter="url(#sp)"/><path d="M412 189.1C414.4 185.7 416.3 209.3 417.4 222.3C417.7 230.4 415.2 234 412 234C408.8 234 406.3 230.4 406.6 222.3C407.7 209.3 409.6 185.7 412 189.1Z" fill="#2020a0" filter="url(#sp)"/><path d="M492.3 210.7C493.9 209 495.2 221.2 495.9 227.9C496.1 232.1 494.5 234 492.3 234C490.1 234 488.5 232.1 488.7 227.9C489.4 221.2 490.7 209 492.3 210.7Z" fill="#207040" filter="url(#sp)"/><path d="M417 212.8C419.6 211 421.6 223.5 422.8 230.3C423.1 234.6 420.5 236.5 417 236.5C413.5 236.5 410.9 234.6 411.2 230.3C412.4 223.5 414.4 211 417 212.8Z" fill="#c040f0" filter="url(#sp)"/><path d="M478.3 202.8C481.2 200.2 483.4 218.1 484.6 228C485 234.1 482.1 236.8 478.3 236.8C474.5 236.8 471.6 234.1 472 228C473.2 218.1 475.4 200.2 478.3 202.8Z" fill="#f020b0" filter="url(#sp)"/><path d="M486.3 205.4C488.3 203 489.9 219.5 490.8 228.6C491 234.3 489 236.8 486.3 236.8C483.6 236.8 481.6 234.3 481.8 228.6C482.7 219.5 484.3 203 486.3 205.4Z" fill="#90e030" filter="url(#sp)"/><path d="M432.3 202.4C434.7 199.7 436.6 218.9 437.7 229.5C438 236.1 435.5 239 432.3 239C429.1 239 426.6 236.1 426.9 229.5C428 218.9 429.9 199.7 432.3 202.4Z" fill="#60a040" filter="url(#sp)"/><path d="M463 197.4C465.4 194.2 467.3 216.3 468.4 228.6C468.7 236.1 466.2 239.5 463 239.5C459.8 239.5 457.3 236.1 457.6 228.6C458.7 216.3 460.6 194.2 463 197.4Z" fill="#f020c0" filter="url(#sp)"/><path d="M473.6 226.8C475.2 225.8 476.4 232.5 477.1 236.2C477.3 238.5 475.7 239.5 473.6 239.5C471.5 239.5 469.9 238.5 470.1 236.2C470.8 232.5 472 225.8 473.6 226.8Z" fill="#a08020" filter="url(#sp)"/><path d="M427 199.8C429.2 196.6 430.9 219.2 431.9 231.8C432.1 239.5 429.9 243 427 243C424.1 243 421.9 239.5 422.1 231.8C423.1 219.2 424.8 196.6 427 199.8Z" fill="#202090" filter="url(#sp)"/><path d="M449.8 205C451.9 202 453.5 222.8 454.4 234.2C454.6 241.3 452.6 244.5 449.8 244.5C447 244.5 445 241.3 445.2 234.2C446.1 222.8 447.7 202 449.8 205Z" fill="#d0e060" filter="url(#sp)"/><path d="M468.3 202.8C470.7 199.6 472.6 221.8 473.7 234C474 241.6 471.5 245 468.3 245C465.1 245 462.6 241.6 462.9 234C464 221.8 465.9 199.6 468.3 202.8Z" fill="#7070e0" filter="url(#sp)"/><path d="M457 207.8C458.2 205 459.2 224.5 459.7 235.3C459.8 242 458.6 245 457 245C455.4 245 454.2 242 454.3 235.3C454.8 224.5 455.8 205 457 207.8Z" fill="#101060" filter="url(#sp)"/><path d="M439.3 210.4C442.2 207.7 444.5 226.9 445.8 237.5C446.1 244.1 443.2 247 439.3 247C435.4 247 432.5 244.1 432.8 237.5C434.1 226.9 436.4 207.7 439.3 210.4Z" fill="#40e060" filter="url(#sp)"/><path d="M462.8 202.4C465.1 199.1 466.9 222.5 467.9 235.4C468.2 243.4 465.9 247 462.8 247C459.7 247 457.4 243.4 457.7 235.4C458.7 222.5 460.5 199.1 462.8 202.4Z" fill="#f020c0" filter="url(#sp)"/><path d="M454.8 206.4C457.4 203.1 459.4 226 460.6 238.7C460.9 246.5 458.3 250 454.8 250C451.3 250 448.7 246.5 449 238.7C450.2 226 452.2 203.1 454.8 206.4Z" fill="#101040" filter="url(#sp)"/></g>
<path d="M385.5 181.3L385.5 238.3L455.3 268.2L533.5 242M383.9 238.3L385.5 238.3M383.9 224.1L385.5 224.1M383.9 209.8L385.5 209.8M383.9 195.6L385.5 195.6M383.9 181.3L385.5 181.3M385.5 238.3l-1.4 0.5M399.2 244.2l-1.4 0.5M412.9 250l-1.4 0.5M426.5 255.9l-1.4 0.5M440.2 261.7l-1.4 0.5M453.9 267.6l-1.4 0.5M455.3 268.2l1.4 0.6M468.3 263.8l1.4 0.6M481.4 259.5l1.4 0.6M494.4 255.1l1.4 0.6M507.4 250.7l1.4 0.6M520.5 246.4l1.4 0.6M533.5 242l1.4 0.6" stroke="#8a8a8a" stroke-width="0.55" fill="none"/>
<g class="t"><text x="374.8" y="241.3">5.12928</text><text x="389.6" y="247.7">5.12926</text><text x="402.5" y="254">5.12924</text><text x="416.7" y="260.2">5.12922</text><text x="430.9" y="266.6">5.1292</text><text x="444.4" y="272.5">5.12918</text><text x="376.6" y="257">×10<tspan font-size="3" dy="-1.6">6</tspan></text><text class="an" x="410.2" y="272">Y(m)</text><text x="465" y="272.1">6.3588</text><text x="477" y="268.2">6.359</text><text x="491.2" y="264">6.3592</text><text x="504.3" y="259.5">6.3594</text><text x="517" y="254.9">6.3596</text><text x="530" y="250.5">6.3598</text><text x="541" y="246.2">6.36</text><text x="538.7" y="260">×10<tspan font-size="3" dy="-1.6">5</tspan></text><text class="an" x="500" y="272.1">X(m)</text></g>
<g class="t z"><text x="383" y="237.6">0</text><text x="383" y="223.3">10</text><text x="383" y="209.1">20</text><text x="383" y="194.8">30</text><text x="383" y="180.6">40</text></g>
<g transform="rotate(-90 374 211)"><text class="t zn" x="374" y="211">Z(m)</text></g>
<text class="cap" x="454.5" y="290.7">(f)</text>
</svg>
</body></html>
